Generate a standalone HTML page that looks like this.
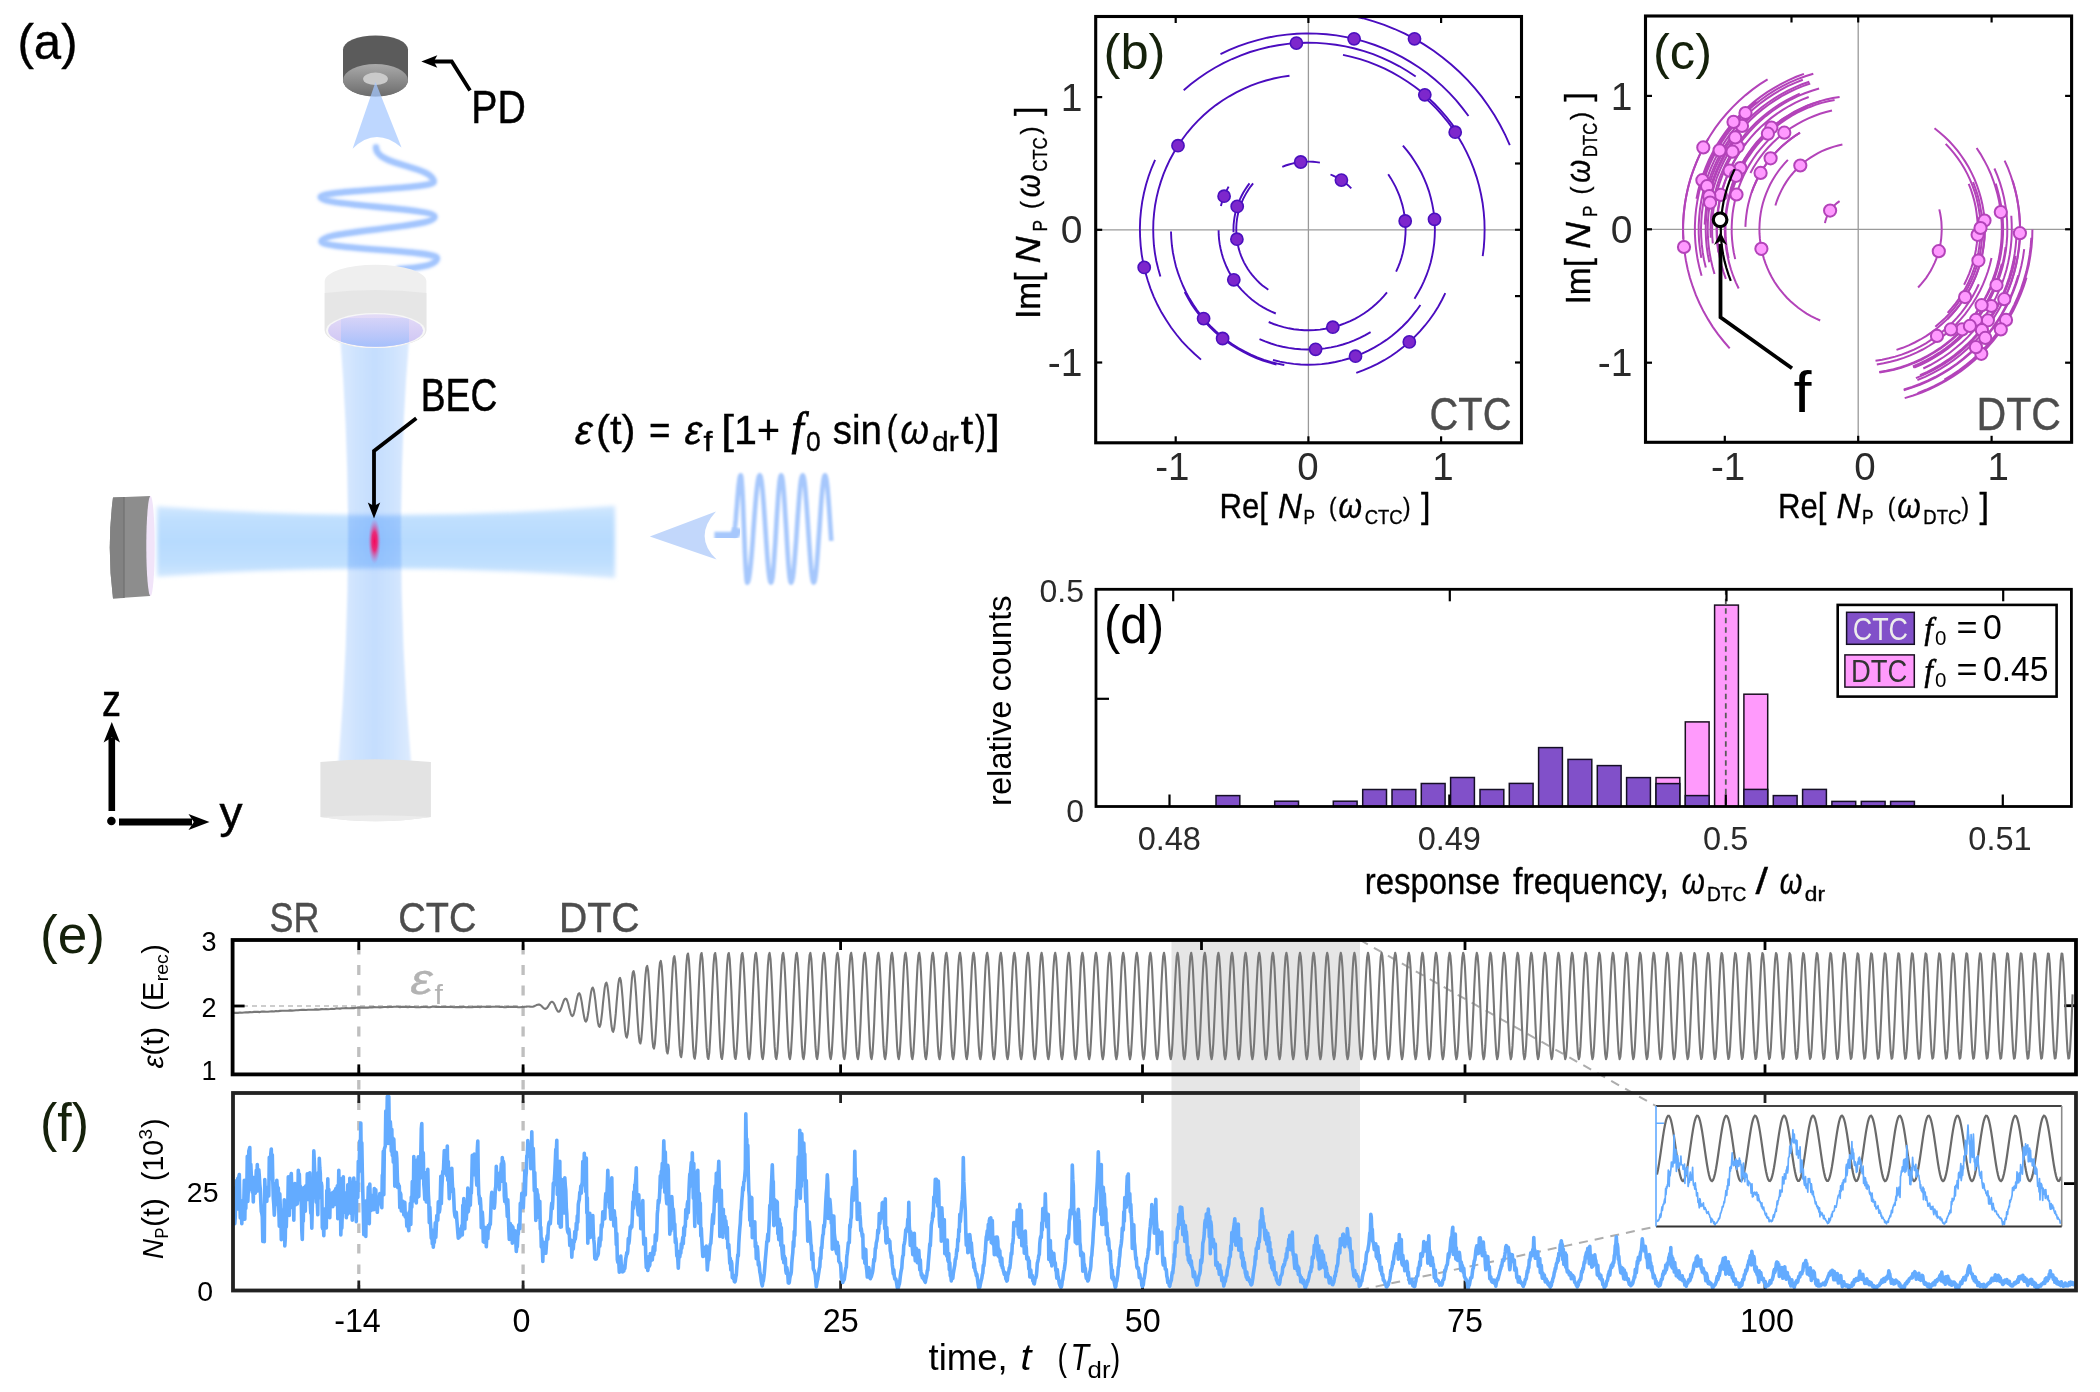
<!DOCTYPE html>
<html><head><meta charset="utf-8"><title>figure</title>
<style>html,body{margin:0;padding:0;background:#fff}svg{display:block}text{font-family:"Liberation Sans",sans-serif}</style>
</head><body>
<svg width="2100" height="1392" viewBox="0 0 2100 1392">
<defs>
<filter id="b1" x="-5%" y="-5%" width="110%" height="110%"><feGaussianBlur stdDeviation="1.2"/></filter>
<filter id="b15" x="-10%" y="-10%" width="120%" height="120%"><feGaussianBlur stdDeviation="1.6"/></filter>
<filter id="b08" x="-10%" y="-10%" width="120%" height="120%"><feGaussianBlur stdDeviation="0.9"/></filter>
<linearGradient id="gv" gradientUnits="userSpaceOnUse" x1="338" y1="0" x2="411" y2="0">
<stop offset="0" stop-color="#ddebfe"/><stop offset="0.25" stop-color="#cee3fe"/><stop offset="0.5" stop-color="#c5defe"/><stop offset="0.75" stop-color="#cee3fe"/><stop offset="1" stop-color="#ddebfe"/></linearGradient>
<linearGradient id="gh" gradientUnits="userSpaceOnUse" x1="0" y1="505" x2="0" y2="578">
<stop offset="0" stop-color="#d3e8fe"/><stop offset="0.2" stop-color="#bfdffe"/><stop offset="0.5" stop-color="#b7dbfe"/><stop offset="0.8" stop-color="#bfdffe"/><stop offset="1" stop-color="#d3e8fe"/></linearGradient>
<filter id="b2" x="-5%" y="-10%" width="110%" height="120%"><feGaussianBlur stdDeviation="2"/></filter>
<radialGradient id="gbec"><stop offset="0" stop-color="#f5085c"/><stop offset="0.4" stop-color="#ee2070" stop-opacity="0.92"/><stop offset="1" stop-color="#c878c8" stop-opacity="0"/></radialGradient>
<linearGradient id="gpd" x1="0" y1="0" x2="0" y2="1"><stop offset="0" stop-color="#aaaaaa"/><stop offset="1" stop-color="#6c6c6c"/></linearGradient>
<linearGradient id="gface" x1="0" y1="0" x2="0" y2="1"><stop offset="0" stop-color="#e4dcf7"/><stop offset="1" stop-color="#cdc4f4"/></linearGradient>
<linearGradient id="gfb" x1="0" y1="0" x2="0" y2="1"><stop offset="0" stop-color="#c9cdfa" stop-opacity="0.5"/><stop offset="1" stop-color="#9fbffc"/></linearGradient>
</defs>
<rect width="2100" height="1392" fill="#fff"/>
<g id="pa">
<text x="17.5" y="59.0" font-size="50" fill="#000" textLength="60.0" lengthAdjust="spacingAndGlyphs" stroke="#000" stroke-width="0.4">(a)</text>
<path d="M340,335 Q356.8,540 338.5,762 L411,762 Q391.8,540 409.5,335 Z" fill="url(#gv)" filter="url(#b1)"/>
<path d="M157,506.2 Q386,524.4 615,505.7 L615,578 Q386,559.6 157,576.7 Z" fill="url(#gh)" filter="url(#b2)" style="mix-blend-mode:multiply"/>
<ellipse cx="374.5" cy="541.2" rx="6.5" ry="23" fill="url(#gbec)"/>
<path d="M343,49.5 A32.5,14 0 0 1 408,49.5 L408,80 A32.5,16.3 0 0 1 343,80 Z" fill="#5b5b5b"/>
<ellipse cx="375.5" cy="80.2" rx="32.5" ry="16.2" fill="url(#gpd)"/>
<ellipse cx="375.5" cy="78.8" rx="12.4" ry="6.2" fill="#cacaca"/>
<path d="M375.5,82 L401.5,147.5 Q375.5,126 352.6,148.8 Z" fill="#a5c8ff" fill-opacity="0.72"/>
<polyline points="470,90.6 451.7,61.5 433,61.5" fill="none" stroke="#000" stroke-width="3.8" stroke-linejoin="miter"/>
<polygon points="421.3,61.5 437.3,55.3 433.8,61.5 437.3,67.7" fill="#000"/>
<text x="471.3" y="123.2" font-size="45.5" fill="#000" textLength="54.5" lengthAdjust="spacingAndGlyphs" stroke="#000" stroke-width="0.5">PD</text>
<path d="M376,147.4 C376,166 433.8,166 433.8,182 C433.8,188.8 320.6,190.2 320.6,197 C320.6,205.9 434.6,207.9 434.6,216.8 C434.6,228.0 321.4,230.4 321.4,241.6 C321.4,249.0 437,250.6 437,258 C437,266 415,268 399,269" fill="none" stroke="#a9c9fe" stroke-width="6.6" stroke-linecap="round" filter="url(#b15)"/>
<path d="M376,147.4 C376,166 433.8,166 433.8,182 C433.8,188.8 320.6,190.2 320.6,197 C320.6,205.9 434.6,207.9 434.6,216.8 C434.6,228.0 321.4,230.4 321.4,241.6 C321.4,249.0 437,250.6 437,258 C437,266 415,268 399,269" fill="none" stroke="#a3c5fd" stroke-width="3" stroke-linecap="round" filter="url(#b1)"/>
<path d="M324.7,281.2 A50.8,16.5 0 0 1 426.4,281.2 L426.4,330 A50.8,18 0 0 1 324.7,330 Z" fill="#efefef"/>
<path d="M324.7,293 Q375.5,287 426.4,293 L426.4,330 A50.8,18 0 0 1 324.7,330 Z" fill="#e6e6e6"/>
<ellipse cx="375.6" cy="330.5" rx="49.5" ry="17.5" fill="#f7f7f7"/>
<ellipse cx="375.6" cy="330.5" rx="47.5" ry="16.3" fill="url(#gface)"/>
<clipPath id="cface"><ellipse cx="375.6" cy="330.5" rx="47.5" ry="16.3"/></clipPath>
<rect x="341" y="318" width="68" height="32" fill="url(#gfb)" clip-path="url(#cface)"/>
<path d="M113,497.5 L150,496 L150,596 L113,598.5 Q106.5,548 113,497.5 Z" fill="#8d8d8d"/>
<path d="M113,497.5 L124,497 L124,598 L113,598.5 Q106.5,548 113,497.5 Z" fill="#828282"/>
<line x1="124" y1="497" x2="124" y2="598" stroke="#707070" stroke-width="1.2"/>
<ellipse cx="150.5" cy="546" rx="4.2" ry="50" fill="#f1e4f9"/>
<polyline points="416.3,418.3 374,451 374,506" fill="none" stroke="#000" stroke-width="3.8"/>
<polygon points="374.0,518.5 367.8,502.5 374.0,506.0 380.2,502.5" fill="#000"/>
<text x="420.8" y="411.2" font-size="45.5" fill="#000" textLength="76.5" lengthAdjust="spacingAndGlyphs" stroke="#000" stroke-width="0.5">BEC</text>
<g transform="translate(573.1,443.5) skewX(-12)">
<text x="0.0" y="0.0" font-size="41" fill="#000" textLength="17.6" lengthAdjust="spacingAndGlyphs" stroke="#000" stroke-width="0.35">ε</text>
</g>
<text x="596.0" y="443.5" font-size="41" fill="#000" textLength="39.6" lengthAdjust="spacingAndGlyphs" stroke="#000" stroke-width="0.35">(t)</text>
<text x="649.0" y="443.5" font-size="41" fill="#000" textLength="21.5" lengthAdjust="spacingAndGlyphs" stroke="#000" stroke-width="0.35">=</text>
<g transform="translate(682.7,443.5) skewX(-12)">
<text x="0.0" y="0.0" font-size="41" fill="#000" textLength="17.3" lengthAdjust="spacingAndGlyphs" stroke="#000" stroke-width="0.35">ε</text>
</g>
<text x="703.5" y="450.5" font-size="27" fill="#000" textLength="9.0" lengthAdjust="spacingAndGlyphs" stroke="#000" stroke-width="0.35">f</text>
<text x="721.0" y="443.5" font-size="41" fill="#000" textLength="13.0" lengthAdjust="spacingAndGlyphs" stroke="#000" stroke-width="0.35">[</text>
<text x="734.0" y="443.5" font-size="41" fill="#000" textLength="23.0" lengthAdjust="spacingAndGlyphs" stroke="#000" stroke-width="0.35">1</text>
<text x="757.0" y="443.5" font-size="41" fill="#000" textLength="23.0" lengthAdjust="spacingAndGlyphs" stroke="#000" stroke-width="0.35">+</text>
<text x="791.5" y="443.5" font-size="45.5" fill="#000" font-style="italic" style="font-family:'Liberation Serif',serif" textLength="12.2" lengthAdjust="spacingAndGlyphs" stroke="#000" stroke-width="0.9">f</text>
<text x="806.0" y="450.5" font-size="27" fill="#000" textLength="14.7" lengthAdjust="spacingAndGlyphs" stroke="#000" stroke-width="0.35">0</text>
<text x="832.7" y="443.5" font-size="41" fill="#000" textLength="49.3" lengthAdjust="spacingAndGlyphs" stroke="#000" stroke-width="0.35">sin</text>
<text x="886.5" y="443.5" font-size="41" fill="#000" textLength="11.0" lengthAdjust="spacingAndGlyphs" stroke="#000" stroke-width="0.35">(</text>
<text x="900.6" y="443.5" font-size="41" fill="#000" font-style="italic" textLength="28.4" lengthAdjust="spacingAndGlyphs" stroke="#000" stroke-width="0.35">ω</text>
<text x="932.0" y="450.5" font-size="27" fill="#000" textLength="26.7" lengthAdjust="spacingAndGlyphs" stroke="#000" stroke-width="0.35">dr</text>
<text x="960.5" y="443.5" font-size="41" fill="#000" textLength="12.8" lengthAdjust="spacingAndGlyphs" stroke="#000" stroke-width="0.35">t</text>
<text x="975.0" y="443.5" font-size="41" fill="#000" textLength="11.0" lengthAdjust="spacingAndGlyphs" stroke="#000" stroke-width="0.35">)</text>
<text x="987.0" y="443.5" font-size="41" fill="#000" textLength="13.0" lengthAdjust="spacingAndGlyphs" stroke="#000" stroke-width="0.35">]</text>
<line x1="111.8" y1="811" x2="111.8" y2="738" stroke="#000" stroke-width="6.6"/>
<polygon points="111.8,722.0 120.0,742.5 111.8,737.4 103.6,742.5" fill="#000"/>
<circle cx="111.4" cy="821" r="4.3" fill="#000"/>
<line x1="119" y1="822" x2="192" y2="822" stroke="#000" stroke-width="6.8"/>
<polygon points="209.5,822.0 188.5,830.0 193.8,822.0 188.5,814.0" fill="#000"/>
<text x="102.0" y="715.6" font-size="45" fill="#000" textLength="19.0" lengthAdjust="spacingAndGlyphs" stroke="#000" stroke-width="0.5">z</text>
<text x="219.5" y="828.4" font-size="45" fill="#000" textLength="23.0" lengthAdjust="spacingAndGlyphs" stroke="#000" stroke-width="0.5">y</text>
<path d="M320.4,762 Q375.6,756.5 430.9,762 L430.9,817 Q375.6,825.5 320.4,817 Z" fill="#e3e3e3"/>
<path d="M320.4,817 Q375.6,813.5 430.9,817 Q375.6,825.5 320.4,817 Z" fill="#ececec"/>
<path d="M649.8,536.6 L716,511.4 Q692.9,536.6 716.6,559.6 Z" fill="#c2d7fb"/>
<polyline points="733.0,536.6 733.5,535.8 734.1,533.6 734.6,529.9 735.2,525.1 735.8,519.2 736.3,512.8 736.9,506.0 737.4,499.1 738.0,492.7 738.5,486.8 739.1,482.0 739.6,478.3 740.2,476.1 740.7,475.3 741.2,476.6 741.6,480.6 742.1,487.0 742.6,495.5 743.1,505.7 743.5,517.0 744.0,529.0 744.5,540.9 744.9,552.2 745.4,562.4 745.9,570.9 746.4,577.3 746.8,581.3 747.3,582.6 748.2,581.3 749.1,577.3 750.0,570.9 750.9,562.4 751.8,552.2 752.7,540.9 753.5,529.0 754.4,517.0 755.3,505.7 756.2,495.5 757.1,487.0 758.0,480.6 758.9,476.6 759.8,475.3 760.6,476.6 761.4,480.6 762.2,487.0 763.0,495.5 763.8,505.7 764.6,517.0 765.4,529.0 766.2,540.9 767.0,552.2 767.8,562.4 768.6,570.9 769.4,577.3 770.2,581.3 771.0,582.6 771.7,581.3 772.5,577.3 773.2,570.9 773.9,562.4 774.6,552.2 775.4,540.9 776.1,529.0 776.8,517.0 777.6,505.7 778.3,495.5 779.0,487.0 779.7,480.6 780.5,476.6 781.2,475.3 781.9,476.6 782.6,480.6 783.3,487.0 784.0,495.5 784.7,505.7 785.4,517.0 786.2,529.0 786.9,540.9 787.6,552.2 788.3,562.4 789.0,570.9 789.7,577.3 790.4,581.3 791.1,582.6 791.9,581.3 792.8,577.3 793.6,570.9 794.4,562.4 795.2,552.2 796.1,540.9 796.9,529.0 797.7,517.0 798.6,505.7 799.4,495.5 800.2,487.0 801.0,480.6 801.9,476.6 802.7,475.3 803.5,476.6 804.3,480.6 805.1,487.0 805.8,495.5 806.6,505.7 807.4,517.0 808.2,529.0 809.0,540.9 809.8,552.2 810.6,562.4 811.3,570.9 812.1,577.3 812.9,581.3 813.7,582.6 814.5,581.3 815.3,577.3 816.1,570.9 816.9,562.4 817.7,552.2 818.5,540.9 819.4,529.0 820.2,517.0 821.0,505.7 821.8,495.5 822.6,487.0 823.4,480.6 824.2,476.6 825.0,475.3 825.8,476.6 826.6,480.6 827.4,487.0 828.1,495.5 828.9,505.7 829.7,517.0 830.5,529.0 831.3,540.9" fill="none" stroke="#a6c7fc" stroke-width="4.6" stroke-linejoin="round" filter="url(#b08)"/>
<path d="M714.4,536.6 L731,536.6 Q736,536 737.5,528" fill="none" stroke="#a6c7fc" stroke-width="9.5" filter="url(#b08)"/>
</g>
<g id="pb">
<line x1="1095.7" y1="229.8" x2="1521.5" y2="229.8" stroke="#9a9a9a" stroke-width="1.3"/>
<line x1="1308.4" y1="16.5" x2="1308.4" y2="442.8" stroke="#9a9a9a" stroke-width="1.3"/>
<clipPath id="cb"><rect x="1095.7" y="16.5" width="425.8" height="426.3"/></clipPath>
<g clip-path="url(#cb)" fill="none" stroke="#4a0cbf" stroke-width="1.9">
<path d="M1415.7,76.5 L1407.7,71.2 L1399.4,66.3 L1390.8,61.8 L1382.1,57.8 L1373.1,54.2 L1364.0,51.1 L1354.7,48.5 L1345.3,46.4 L1335.8,44.7 L1326.2,43.6 L1316.6,42.9 L1306.9,42.7 L1297.3,43.0 L1287.7,43.9 L1278.1,45.2 L1268.7,47.0 L1259.3,49.3 L1250.1,52.0 L1241.0,55.3 L1232.1,59.0 L1223.4,63.1 L1214.9,67.7 L1206.7,72.8 L1198.7,78.2 L1191.0,84.1 L1183.7,90.3"/>
<path d="M1468.5,116.0 L1462.5,108.1 L1456.2,100.4 L1449.5,93.1 L1442.4,86.1 L1434.9,79.6 L1427.2,73.3 L1419.1,67.5 L1410.7,62.1 L1402.1,57.2 L1393.3,52.7 L1384.2,48.6 L1374.9,45.0 L1365.5,41.9 L1355.9,39.2 L1346.2,37.1 L1336.4,35.4 L1326.5,34.2 L1316.6,33.6 L1306.7,33.4 L1296.8,33.7 L1286.8,34.6 L1277.0,35.9 L1267.2,37.7 L1257.6,40.1 L1248.0,42.9 L1238.6,46.2 L1229.4,49.9 L1220.5,54.2"/>
<path d="M1509.8,145.1 L1505.2,134.9 L1500.1,125.0 L1494.5,115.3 L1488.4,106.0 L1481.9,96.9 L1474.8,88.2 L1467.4,79.9 L1459.5,72.0 L1451.2,64.5 L1442.6,57.4 L1433.6,50.7 L1424.3,44.6 L1414.7,38.9 L1404.8,33.7 L1394.6,29.0 L1384.2,24.9 L1373.7,21.3 L1362.9,18.2 L1352.0,15.7 L1341.0,13.7 L1329.9,12.4 L1318.8,11.5 L1307.6,11.3 L1296.4,11.6 L1285.3,12.5 L1274.2,14.0"/>
<path d="M1456.9,131.1 L1451.8,123.9 L1446.5,117.0 L1440.7,110.3 L1434.7,104.0 L1428.3,97.9 L1421.7,92.1 L1414.8,86.7 L1407.6,81.7 L1400.1,77.0 L1392.5,72.6 L1384.7,68.7 L1376.6,65.1 L1368.4,61.9 L1360.1,59.2 L1351.6,56.8 L1343.0,54.9"/>
<path d="M1482.7,256.2 L1483.8,247.3 L1484.4,238.5 L1484.6,229.6 L1484.4,220.7 L1483.7,211.8 L1482.6,203.0 L1481.0,194.3 L1479.0,185.6 L1476.6,177.1 L1473.7,168.7 L1470.4,160.4 L1466.7,152.3 L1462.6,144.4 L1458.1,136.8 L1453.2,129.3 L1448.0,122.2 L1442.4,115.3 L1436.4,108.7 L1430.1,102.4 L1423.6,96.4"/>
<path d="M1289.5,75.7 L1281.6,76.9 L1273.7,78.5 L1266.0,80.5 L1258.3,82.9 L1250.8,85.7 L1243.5,88.8 L1236.3,92.4 L1229.3,96.3 L1222.5,100.5 L1215.9,105.1 L1209.6,110.1 L1203.6,115.3 L1197.8,120.9 L1192.4,126.7 L1187.2,132.8 L1182.4,139.2 L1177.9,145.8 L1173.7,152.7 L1169.9,159.7 L1166.5,167.0 L1163.4,174.4 L1160.8,181.9 L1158.5,189.6 L1156.6,197.4 L1155.1,205.2 L1154.1,213.2 L1153.4,221.2 L1153.2,229.2 L1153.4,237.2 L1153.9,245.2 L1154.9,253.1 L1156.3,261.0 L1158.2,268.8 L1160.4,276.5"/>
<path d="M1319.9,162.6 L1316.4,162.1 L1313.0,161.8 L1309.5,161.6 L1306.0,161.6 L1302.5,161.9 L1299.1,162.2 L1295.6,162.8 L1292.2,163.6 L1288.9,164.5 L1285.6,165.5 L1282.3,166.8"/>
<path d="M1351.3,188.4 L1349.3,186.4 L1347.2,184.6 L1345.0,182.8 L1342.8,181.1 L1340.5,179.6 L1338.1,178.1 L1335.6,176.8 L1333.1,175.6 L1330.5,174.5"/>
<path d="M1228.6,186.6 L1226.7,190.3 L1225.0,194.1 L1223.4,198.0 L1222.0,201.9 L1220.9,205.9"/>
<path d="M1249.5,183.4 L1247.3,186.4 L1245.2,189.5 L1243.2,192.7 L1241.5,196.0 L1239.9,199.4 L1238.5,202.9 L1237.2,206.4 L1236.1,210.0 L1235.2,213.6 L1234.5,217.3 L1234.0,221.0 L1233.6,224.7 L1233.5,228.4 L1233.5,232.2"/>
<path d="M1253.1,183.4 L1250.8,186.3 L1248.7,189.3 L1246.7,192.4 L1244.9,195.6 L1243.2,198.8 L1241.8,202.2 L1240.4,205.6 L1239.3,209.1 L1238.3,212.6 L1237.5,216.2 L1236.9,219.8 L1236.5,223.5 L1236.3,227.2 L1236.3,230.8 L1236.4,234.5 L1236.7,238.1 L1237.3,241.8 L1238.0,245.4 L1238.8,248.9 L1239.9,252.5 L1241.1,255.9 L1242.6,259.3 L1244.1,262.6 L1245.9,265.8 L1247.8,269.0 L1249.9,272.0 L1252.1,274.9 L1254.5,277.7 L1257.0,280.4 L1259.6,283.0 L1262.4,285.4 L1265.3,287.6 L1268.3,289.7"/>
<path d="M1218.6,230.3 L1218.7,234.9 L1219.1,239.6 L1219.7,244.2 L1220.6,248.8 L1221.7,253.3 L1223.0,257.8 L1224.6,262.2 L1226.4,266.5 L1228.4,270.7 L1230.6,274.8 L1233.1,278.7 L1235.7,282.6 L1238.6,286.3 L1241.6,289.8 L1244.8,293.2 L1248.2,296.4 L1251.7,299.5 L1255.4,302.3 L1259.2,305.0 L1263.2,307.4 L1267.3,309.7 L1271.5,311.7 L1275.8,313.5"/>
<path d="M1396.1,271.6 L1398.1,267.2 L1399.9,262.6 L1401.4,258.0 L1402.7,253.3 L1403.7,248.6 L1404.6,243.8 L1405.1,238.9 L1405.5,234.1 L1405.6,229.2 L1405.4,224.4 L1405.0,219.5 L1404.4,214.7 L1403.5,209.9 L1402.4,205.1 L1401.0,200.5 L1399.5,195.9 L1397.6,191.3 L1395.6,186.9 L1393.3,182.6 L1390.9,178.4 L1388.2,174.3"/>
<path d="M1414.5,298.7 L1417.9,293.1 L1421.1,287.3 L1423.9,281.3 L1426.5,275.2 L1428.7,269.0 L1430.6,262.7 L1432.1,256.3 L1433.3,249.8 L1434.2,243.3 L1434.7,236.7 L1434.9,230.1 L1434.7,223.5 L1434.2,216.9 L1433.4,210.4 L1432.2,203.9 L1430.7,197.5 L1428.9,191.1 L1426.7,184.9 L1424.2,178.8 L1421.4,172.8 L1418.2,167.0 L1414.8,161.4 L1411.1,155.9 L1407.1,150.7 L1402.9,145.6"/>
<path d="M1155.1,159.9 L1151.6,168.0 L1148.6,176.3 L1146.0,184.7 L1143.9,193.3 L1142.2,201.9 L1141.0,210.7 L1140.2,219.4 L1139.9,228.2 L1140.1,237.0 L1140.7,245.8 L1141.7,254.6 L1143.3,263.3 L1145.2,271.8 L1147.7,280.3 L1150.5,288.6 L1153.8,296.8 L1157.5,304.8 L1161.6,312.6 L1166.2,320.1 L1171.1,327.5 L1176.4,334.5 L1182.0,341.3 L1188.0,347.7 L1194.4,353.8 L1201.0,359.6"/>
<path d="M1171.0,231.5 L1171.3,238.5 L1171.9,245.5 L1172.9,252.5 L1174.3,259.4 L1175.9,266.2 L1178.0,272.9 L1180.4,279.5 L1183.1,286.0 L1186.1,292.4 L1189.5,298.6 L1193.2,304.5 L1197.1,310.3 L1201.4,315.9 L1205.9,321.3 L1210.8,326.4 L1215.8,331.3 L1221.1,335.9 L1226.7,340.2 L1232.4,344.3 L1238.4,348.0 L1244.5,351.4 L1250.9,354.5 L1257.3,357.3 L1263.9,359.8 L1270.6,361.9 L1277.4,363.6 L1284.3,365.0"/>
<path d="M1184.7,292.0 L1188.1,298.3 L1191.7,304.4 L1195.7,310.2 L1200.0,315.9 L1204.6,321.4 L1209.4,326.6 L1214.5,331.5 L1219.8,336.2 L1225.4,340.6 L1231.2,344.7 L1237.2,348.5 L1243.4,352.0 L1249.7,355.2 L1256.3,358.1 L1262.9,360.6 L1269.7,362.7 L1276.5,364.5"/>
<path d="M1259.5,339.1 L1265.1,341.4 L1270.9,343.5 L1276.7,345.3 L1282.6,346.7 L1288.6,347.9 L1294.6,348.7 L1300.7,349.3 L1306.8,349.5 L1312.9,349.4 L1319.0,349.1 L1325.0,348.4 L1331.0,347.4 L1337.0,346.1 L1342.8,344.5 L1348.6,342.6 L1354.3,340.4 L1359.9,337.9 L1365.3,335.1 L1370.6,332.1"/>
<path d="M1268.7,322.0 L1273.5,324.0 L1278.5,325.7 L1283.6,327.1 L1288.7,328.3 L1293.8,329.2 L1299.0,329.8 L1304.3,330.2 L1309.5,330.2 L1314.8,330.0 L1320.0,329.6 L1325.2,328.8 L1330.3,327.8 L1335.4,326.5 L1340.4,325.0 L1345.3,323.2 L1350.2,321.1 L1354.9,318.8 L1359.5,316.3 L1363.9,313.5 L1368.2,310.5 L1372.3,307.3 L1376.3,303.8 L1380.1,300.2 L1383.6,296.3 L1387.0,292.3"/>
<path d="M1273.0,360.0 L1279.8,361.6 L1286.7,362.9 L1293.6,363.9 L1300.6,364.5 L1307.6,364.7 L1314.6,364.6 L1321.6,364.1 L1328.5,363.2 L1335.4,362.0 L1342.2,360.4 L1348.9,358.5 L1355.5,356.2 L1362.0,353.6 L1368.4,350.6 L1374.5,347.4 L1380.6,343.8 L1386.4,339.9 L1392.0,335.7 L1397.3,331.2 L1402.5,326.5 L1407.4,321.5 L1412.0,316.2 L1416.3,310.7 L1420.4,305.0"/>
<path d="M1356.3,372.8 L1363.5,370.2 L1370.6,367.2 L1377.5,363.9 L1384.2,360.2 L1390.7,356.2 L1397.1,351.8 L1403.2,347.1 L1409.0,342.1 L1414.6,336.9 L1419.9,331.3 L1425.0,325.5 L1429.7,319.5 L1434.1,313.2 L1438.2,306.7 L1441.9,300.0 L1445.3,293.1"/>
</g>
<g fill="#7d27cc" stroke="#4b10be" stroke-width="1.6">
<circle cx="1296.4" cy="43.1" r="6.1"/>
<circle cx="1354.1" cy="38.8" r="6.1"/>
<circle cx="1414.5" cy="38.8" r="6.1"/>
<circle cx="1424.8" cy="94.8" r="6.1"/>
<circle cx="1455.2" cy="132.2" r="6.1"/>
<circle cx="1178.0" cy="145.7" r="6.1"/>
<circle cx="1300.7" cy="162.0" r="6.1"/>
<circle cx="1341.4" cy="180.1" r="6.1"/>
<circle cx="1224.1" cy="196.2" r="6.1"/>
<circle cx="1237.2" cy="206.4" r="6.1"/>
<circle cx="1236.9" cy="239.2" r="6.1"/>
<circle cx="1233.8" cy="279.8" r="6.1"/>
<circle cx="1405.2" cy="221.0" r="6.1"/>
<circle cx="1434.5" cy="219.3" r="6.1"/>
<circle cx="1144.2" cy="267.4" r="6.1"/>
<circle cx="1203.6" cy="318.6" r="6.1"/>
<circle cx="1222.6" cy="338.5" r="6.1"/>
<circle cx="1315.6" cy="349.3" r="6.1"/>
<circle cx="1332.8" cy="327.2" r="6.1"/>
<circle cx="1355.5" cy="356.2" r="6.1"/>
<circle cx="1409.3" cy="341.9" r="6.1"/>
</g>
<line x1="1175.7" y1="16.5" x2="1175.7" y2="23.0" stroke="#000" stroke-width="2.2"/>
<line x1="1308.4" y1="16.5" x2="1308.4" y2="23.0" stroke="#000" stroke-width="2.2"/>
<line x1="1441.1" y1="16.5" x2="1441.1" y2="23.0" stroke="#000" stroke-width="2.2"/>
<line x1="1175.7" y1="442.8" x2="1175.7" y2="436.3" stroke="#000" stroke-width="2.2"/>
<line x1="1308.4" y1="442.8" x2="1308.4" y2="436.3" stroke="#000" stroke-width="2.2"/>
<line x1="1441.1" y1="442.8" x2="1441.1" y2="436.3" stroke="#000" stroke-width="2.2"/>
<line x1="1095.7" y1="362.5" x2="1102.2" y2="362.5" stroke="#000" stroke-width="2.2"/>
<line x1="1095.7" y1="229.8" x2="1102.2" y2="229.8" stroke="#000" stroke-width="2.2"/>
<line x1="1095.7" y1="97.1" x2="1102.2" y2="97.1" stroke="#000" stroke-width="2.2"/>
<line x1="1521.5" y1="362.5" x2="1515.0" y2="362.5" stroke="#000" stroke-width="2.2"/>
<line x1="1521.5" y1="296.1" x2="1515.0" y2="296.1" stroke="#000" stroke-width="2.2"/>
<line x1="1521.5" y1="229.8" x2="1515.0" y2="229.8" stroke="#000" stroke-width="2.2"/>
<line x1="1521.5" y1="163.5" x2="1515.0" y2="163.5" stroke="#000" stroke-width="2.2"/>
<line x1="1521.5" y1="97.1" x2="1515.0" y2="97.1" stroke="#000" stroke-width="2.2"/>
<rect x="1095.7" y="16.5" width="425.8" height="426.3" fill="none" stroke="#000" stroke-width="3.1"/>
<text x="1103.5" y="69.0" font-size="50" fill="#15210b" textLength="62.0" lengthAdjust="spacingAndGlyphs">(b)</text>
<text x="1429.5" y="430.2" font-size="47" fill="#4d4d4d" textLength="82.0" lengthAdjust="spacingAndGlyphs" stroke="#4d4d4d" stroke-width="0.4">CTC</text>
<text x="1082.5" y="110.7" font-size="39" fill="#2a2a2a" text-anchor="end">1</text>
<text x="1082.5" y="243.4" font-size="39" fill="#2a2a2a" text-anchor="end">0</text>
<text x="1082.5" y="376.1" font-size="39" fill="#2a2a2a" text-anchor="end">-1</text>
<text x="1155.2" y="480.1" font-size="38.5" fill="#2a2a2a">-1</text>
<text x="1308.0" y="480.1" font-size="38.5" fill="#2a2a2a" text-anchor="middle">0</text>
<text x="1432.2" y="480.1" font-size="38.5" fill="#2a2a2a">1</text>
<g transform="translate(1040.3,319.0) rotate(-90)">
<text x="0.0" y="0.0" font-size="35" fill="#000" textLength="46.5" lengthAdjust="spacingAndGlyphs" stroke="#000" stroke-width="0.35">Im[</text>
<text x="55.5" y="0.0" font-size="35" fill="#000" font-style="italic" textLength="27.0" lengthAdjust="spacingAndGlyphs" stroke="#000" stroke-width="0.35">N</text>
<text x="87.5" y="6.5" font-size="20.5" fill="#000" textLength="11.5" lengthAdjust="spacingAndGlyphs" stroke="#000" stroke-width="0.35">P</text>
<text x="110.0" y="-1.5" font-size="25" fill="#000" textLength="8.0" lengthAdjust="spacingAndGlyphs" stroke="#000" stroke-width="0.35">(</text>
<text x="121.8" y="0.0" font-size="35" fill="#000" font-style="italic" textLength="23.0" lengthAdjust="spacingAndGlyphs" stroke="#000" stroke-width="0.35">ω</text>
<text x="147.6" y="6.5" font-size="20.5" fill="#000" textLength="34.0" lengthAdjust="spacingAndGlyphs" stroke="#000" stroke-width="0.35">CTC</text>
<text x="184.6" y="-1.5" font-size="25" fill="#000" textLength="8.0" lengthAdjust="spacingAndGlyphs" stroke="#000" stroke-width="0.35">)</text>
<text x="203.0" y="0.0" font-size="35" fill="#000" textLength="9.5" lengthAdjust="spacingAndGlyphs" stroke="#000" stroke-width="0.35">]</text>
</g>
<text x="1219.4" y="517.8" font-size="35" fill="#000" textLength="48.5" lengthAdjust="spacingAndGlyphs" stroke="#000" stroke-width="0.35">Re[</text>
<text x="1278.0" y="517.8" font-size="35" fill="#000" font-style="italic" textLength="24.0" lengthAdjust="spacingAndGlyphs" stroke="#000" stroke-width="0.35">N</text>
<text x="1303.4" y="524.3" font-size="20.5" fill="#000" textLength="11.5" lengthAdjust="spacingAndGlyphs" stroke="#000" stroke-width="0.35">P</text>
<text x="1329.1" y="516.3" font-size="25" fill="#000" textLength="7.5" lengthAdjust="spacingAndGlyphs" stroke="#000" stroke-width="0.35">(</text>
<text x="1338.6" y="517.8" font-size="35" fill="#000" font-style="italic" textLength="23.5" lengthAdjust="spacingAndGlyphs" stroke="#000" stroke-width="0.35">ω</text>
<text x="1364.7" y="524.3" font-size="20.5" fill="#000" textLength="38.0" lengthAdjust="spacingAndGlyphs" stroke="#000" stroke-width="0.35">CTC</text>
<text x="1403.0" y="516.3" font-size="25" fill="#000" textLength="7.5" lengthAdjust="spacingAndGlyphs" stroke="#000" stroke-width="0.35">)</text>
<text x="1421.0" y="517.8" font-size="35" fill="#000" textLength="9.5" lengthAdjust="spacingAndGlyphs" stroke="#000" stroke-width="0.35">]</text>
</g>
<g id="pc">
<line x1="1645.5" y1="229.3" x2="2071.6" y2="229.3" stroke="#9a9a9a" stroke-width="1.3"/>
<line x1="1858.2" y1="16.0" x2="1858.2" y2="442.3" stroke="#9a9a9a" stroke-width="1.3"/>
<clipPath id="cc"><rect x="1645.5" y="16.0" width="426.1" height="426.3"/></clipPath>
<g clip-path="url(#cc)" fill="none" stroke="#b343b9" stroke-width="2.0">
<path d="M1813.3,73.7 L1805.3,76.2 L1797.5,79.1 L1789.9,82.4 L1782.4,86.1 L1775.2,90.2 L1768.1,94.7 L1761.3,99.5 L1754.8,104.6 L1748.5,110.1 L1742.5,115.9 L1736.8,122.0 L1731.5,128.4 L1726.5,135.0 L1721.8,141.9 L1717.5,149.1 L1713.5,156.4 L1710.0,163.9 L1706.8,171.7 L1704.1,179.5"/>
<path d="M1803.9,73.9 L1796.2,76.8 L1788.7,80.1 L1781.3,83.8 L1774.2,87.8 L1767.2,92.1 L1760.5,96.9 L1754.0,101.9 L1747.8,107.2 L1741.8,112.9 L1736.2,118.8 L1730.8,125.1 L1725.8,131.5 L1721.1,138.3 L1716.7,145.2 L1712.7,152.4 L1709.0,159.7 L1705.8,167.2 L1702.9,174.9 L1700.3,182.7 L1698.2,190.6 L1696.5,198.7"/>
<path d="M1809.3,81.7 L1802.0,84.3 L1794.8,87.3 L1787.8,90.6 L1781.0,94.3 L1774.4,98.3 L1767.9,102.7 L1761.7,107.3 L1755.8,112.3 L1750.1,117.5 L1744.6,123.1 L1739.5,128.8 L1734.6,134.9 L1730.1,141.2 L1725.8,147.7 L1721.9,154.4 L1718.4,161.2 L1715.1,168.3 L1712.3,175.5 L1709.8,182.9 L1707.6,190.3 L1705.9,197.9"/>
<path d="M1810.2,83.5 L1802.8,86.1 L1795.6,89.1 L1788.5,92.5 L1781.7,96.2 L1775.0,100.3 L1768.5,104.7 L1762.3,109.4 L1756.3,114.4 L1750.6,119.7 L1745.2,125.4 L1740.0,131.2 L1735.2,137.4 L1730.7,143.8 L1726.5,150.4 L1722.7,157.2 L1719.2,164.2 L1716.0,171.3 L1713.3,178.6 L1710.9,186.1 L1708.9,193.6 L1707.2,201.3 L1706.0,209.0 L1705.2,216.8 L1704.7,224.6"/>
<path d="M1819.1,88.5 L1811.9,90.7 L1804.8,93.3 L1797.8,96.2 L1791.0,99.5 L1784.4,103.2 L1778.0,107.2 L1771.8,111.5 L1765.8,116.1 L1760.1,121.0 L1754.6,126.3 L1749.4,131.8 L1744.5,137.5 L1739.9,143.5 L1735.6,149.7 L1731.7,156.2 L1728.1,162.8 L1724.8,169.6 L1721.9,176.6 L1719.4,183.7 L1717.2,191.0 L1715.4,198.3 L1714.0,205.7 L1713.0,213.2 L1712.3,220.7 L1712.1,228.3 L1712.2,235.8 L1712.8,243.4"/>
<path d="M1802.8,79.7 L1795.1,82.8 L1787.6,86.2 L1780.3,90.1 L1773.2,94.3 L1766.4,98.9 L1759.8,103.8 L1753.4,109.0 L1747.3,114.6 L1741.5,120.5 L1736.1,126.7 L1730.9,133.1 L1726.1,139.8 L1721.7,146.8 L1717.6,153.9 L1713.9,161.3 L1710.6,168.9 L1707.6,176.6 L1705.1,184.4 L1703.0,192.4 L1701.3,200.5 L1700.0,208.6 L1699.2,216.8 L1698.7,225.1 L1698.7,233.3 L1699.1,241.5 L1700.0,249.7 L1701.3,257.9"/>
<path d="M1799.8,93.6 L1793.0,96.8 L1786.3,100.3 L1779.8,104.1 L1773.6,108.2 L1767.5,112.7 L1761.7,117.5 L1756.1,122.5 L1750.8,127.9 L1745.8,133.4 L1741.1,139.3 L1736.7,145.4 L1732.5,151.7 L1728.7,158.2 L1725.3,164.8 L1722.2,171.7 L1719.4,178.7 L1717.0,185.8 L1715.0,193.0 L1713.3,200.4 L1712.1,207.8 L1711.2,215.2 L1710.6,222.7 L1710.5,230.3 L1710.7,237.8"/>
<path d="M1767.6,79.3 L1760.0,84.2 L1752.7,89.4 L1745.6,95.1 L1738.9,101.0 L1732.4,107.4 L1726.3,114.0 L1720.5,120.9 L1715.1,128.2 L1710.1,135.7 L1705.5,143.4 L1701.3,151.4 L1697.5,159.6 L1694.1,168.0 L1691.1,176.5 L1688.6,185.2 L1686.6,194.0 L1685.0,202.9 L1683.9,211.8 L1683.2,220.8 L1683.0,229.8 L1683.3,238.9"/>
<path d="M1839.6,96.9 L1832.8,98.0 L1826.0,99.5 L1819.4,101.4 L1812.9,103.5 L1806.4,106.0 L1800.1,108.9 L1794.0,112.0 L1788.1,115.5 L1782.3,119.2 L1776.7,123.3 L1771.4,127.6 L1766.2,132.3 L1761.4,137.1 L1756.7,142.2 L1752.4,147.6 L1748.3,153.2 L1744.5,158.9 L1741.1,164.9 L1737.9,171.0 L1735.0,177.3 L1732.5,183.7 L1730.3,190.2"/>
<path d="M1834.6,99.9 L1828.1,101.2 L1821.7,102.9 L1815.4,104.9 L1809.3,107.2 L1803.2,109.8 L1797.3,112.7 L1791.5,115.9 L1786.0,119.4 L1780.5,123.1 L1775.3,127.1 L1770.3,131.4 L1765.5,135.9 L1761.0,140.7 L1756.7,145.7 L1752.6,150.9 L1748.8,156.3 L1745.3,161.8 L1742.0,167.6 L1739.1,173.5 L1736.4,179.5 L1734.1,185.6 L1732.1,191.9 L1730.4,198.3"/>
<path d="M1832.0,110.5 L1826.0,112.0 L1820.0,113.8 L1814.1,116.0 L1808.4,118.4 L1802.7,121.1 L1797.3,124.1 L1791.9,127.3 L1786.8,130.9 L1781.8,134.6 L1777.1,138.7 L1772.5,143.0 L1768.2,147.5 L1764.1,152.2 L1760.3,157.1 L1756.7,162.2 L1753.4,167.5 L1750.4,173.0"/>
<path d="M1800.1,132.6 L1795.4,135.7 L1790.8,138.9 L1786.4,142.4 L1782.1,146.1 L1778.1,150.0 L1774.2,154.1 L1770.6,158.3 L1767.1,162.8 L1763.9,167.4 L1761.0,172.2 L1758.2,177.1 L1755.8,182.2 L1753.5,187.3 L1751.6,192.6"/>
<path d="M1799.8,132.8 L1795.0,135.9 L1790.4,139.2 L1786.0,142.7 L1781.7,146.4 L1777.7,150.4 L1773.8,154.5 L1770.1,158.8 L1766.7,163.4 L1763.5,168.0 L1760.6,172.9 L1757.8,177.8 L1755.4,183.0 L1753.2,188.2 L1751.2,193.5 L1749.6,198.9 L1748.2,204.4 L1747.1,210.0 L1746.3,215.6 L1745.7,221.2 L1745.4,226.9"/>
<path d="M1842.4,144.6 L1838.2,145.5 L1834.0,146.6 L1829.9,148.0 L1825.8,149.5 L1821.9,151.2 L1818.0,153.1 L1814.2,155.3 L1810.5,157.6 L1807.0,160.0 L1803.6,162.7 L1800.3,165.5 L1797.2,168.5 L1794.2,171.7 L1791.4,175.0 L1788.7,178.4 L1786.3,181.9 L1784.0,185.6 L1781.9,189.4 L1780.0,193.3 L1778.2,197.3 L1776.7,201.3 L1775.4,205.5"/>
<path d="M1807.3,106.7 L1801.1,109.5 L1794.9,112.6 L1789.0,116.0 L1783.2,119.7 L1777.7,123.8 L1772.3,128.1 L1767.2,132.6 L1762.3,137.5 L1757.7,142.6 L1753.4,147.9 L1749.3,153.4 L1745.5,159.1 L1742.0,165.0 L1738.9,171.1 L1736.0,177.4 L1733.5,183.8 L1731.3,190.3 L1729.5,196.9 L1728.0,203.6 L1726.8,210.3 L1726.0,217.2 L1725.5,224.0 L1725.5,230.9 L1725.7,237.7 L1726.3,244.6 L1727.3,251.4 L1728.6,258.1"/>
<path d="M1808.7,97.0 L1802.0,99.6 L1795.5,102.6 L1789.2,106.0 L1783.1,109.6 L1777.1,113.6 L1771.3,117.9 L1765.8,122.4 L1760.5,127.2 L1755.5,132.3 L1750.7,137.6 L1746.2,143.2 L1742.0,149.0 L1738.0,155.0 L1734.4,161.1 L1731.1,167.5 L1728.2,174.0 L1725.5,180.7 L1723.2,187.5 L1721.3,194.3 L1719.7,201.3 L1718.5,208.4 L1717.6,215.5 L1717.1,222.6 L1716.9,229.8 L1717.1,236.9 L1717.7,244.1 L1718.6,251.2 L1719.9,258.2 L1721.5,265.2 L1723.5,272.1 L1725.9,278.8"/>
<path d="M1820.6,101.3 L1814.1,103.4 L1807.7,105.8 L1801.4,108.6 L1795.3,111.7 L1789.4,115.0 L1783.6,118.7 L1778.0,122.7 L1772.7,126.9 L1767.5,131.5 L1762.6,136.3 L1758.0,141.3 L1753.6,146.5 L1749.5,152.0 L1745.7,157.7 L1742.1,163.6 L1738.9,169.6 L1736.0,175.8 L1733.4,182.1 L1731.2,188.6 L1729.2,195.2 L1727.7,201.8 L1726.4,208.6 L1725.5,215.4 L1725.0,222.2 L1724.8,229.0 L1725.0,235.9 L1725.5,242.7 L1726.3,249.5 L1727.6,256.2 L1729.1,262.9 L1731.0,269.5 L1733.2,276.0 L1735.8,282.3 L1738.7,288.5"/>
<path d="M1756.5,101.5 L1750.0,106.9 L1743.9,112.6 L1738.0,118.7 L1732.4,125.0 L1727.2,131.7 L1722.4,138.5 L1717.9,145.7 L1713.7,153.0 L1710.0,160.6 L1706.7,168.3 L1703.7,176.2 L1701.2,184.2 L1699.1,192.4 L1697.4,200.7 L1696.1,209.0 L1695.3,217.4 L1694.9,225.8 L1694.9,234.2 L1695.4,242.6 L1696.3,251.0 L1697.6,259.3 L1699.4,267.6 L1701.6,275.7"/>
<path d="M1748.9,116.4 L1743.4,122.0 L1738.2,127.9 L1733.2,134.0 L1728.7,140.3 L1724.4,146.9 L1720.4,153.7 L1716.8,160.6 L1713.6,167.8 L1710.7,175.0 L1708.2,182.5 L1706.0,190.0 L1704.3,197.6 L1702.9,205.3 L1701.9,213.1 L1701.3,220.9 L1701.0,228.8 L1701.2,236.6 L1701.8,244.4 L1702.7,252.2 L1704.0,259.9 L1705.8,267.6"/>
<path d="M1745.8,143.1 L1741.5,149.0 L1737.6,155.1 L1733.9,161.3 L1730.6,167.7 L1727.7,174.3 L1725.0,181.1 L1722.7,187.9 L1720.8,194.9 L1719.2,201.9 L1718.0,209.1 L1717.2,216.2 L1716.7,223.5 L1716.6,230.7 L1716.8,237.9 L1717.4,245.1 L1718.4,252.3"/>
<path d="M1769.6,138.9 L1765.1,143.6 L1760.8,148.6 L1756.7,153.7 L1753.0,159.0 L1749.5,164.6 L1746.3,170.3 L1743.4,176.1 L1740.8,182.1 L1738.5,188.2 L1736.5,194.5 L1734.9,200.8 L1733.6,207.2 L1732.6,213.7 L1732.0,220.2 L1731.7,226.7 L1731.7,233.3 L1732.1,239.8 L1732.8,246.3 L1733.8,252.7 L1735.2,259.1"/>
<path d="M1737.3,136.4 L1732.6,142.7 L1728.4,149.3 L1724.4,156.1 L1720.9,163.0 L1717.6,170.1 L1714.8,177.4 L1712.3,184.9 L1710.2,192.4 L1708.5,200.0 L1707.2,207.8 L1706.3,215.5 L1705.8,223.4 L1705.7,231.2 L1706.0,239.0 L1706.7,246.8 L1707.8,254.5 L1709.3,262.2"/>
<path d="M1739.2,137.3 L1734.7,143.4 L1730.5,149.7 L1726.6,156.3 L1723.1,163.0 L1720.0,169.9 L1717.1,177.0 L1714.7,184.2 L1712.6,191.5 L1710.8,198.9 L1709.5,206.4 L1708.5,213.9 L1707.9,221.5 L1707.7,229.1 L1707.9,236.7 L1708.5,244.3 L1709.4,251.8 L1710.8,259.3 L1712.5,266.7 L1714.5,274.0"/>
<path d="M1839.6,201.1 L1838.2,202.1 L1836.9,203.1 L1835.6,204.2 L1834.3,205.4 L1833.2,206.6 L1832.1,207.9 L1831.0,209.2 L1830.1,210.6 L1829.2,212.1 L1828.3,213.5 L1827.6,215.1 L1826.9,216.6 L1826.3,218.2 L1825.8,219.8 L1825.3,221.4 L1825.0,223.1"/>
<path d="M1708.4,138.6 L1703.9,146.5 L1699.8,154.6 L1696.2,162.8 L1693.0,171.3 L1690.2,179.9 L1687.9,188.6 L1686.0,197.5 L1684.6,206.4 L1683.6,215.4 L1683.1,224.5 L1683.1,233.5 L1683.6,242.5 L1684.5,251.5 L1685.9,260.5 L1687.7,269.3 L1690.0,278.1 L1692.8,286.7 L1695.9,295.2 L1699.6,303.5 L1703.6,311.6 L1708.1,319.4 L1712.9,327.1 L1718.1,334.4 L1723.8,341.5 L1729.7,348.3"/>
<path d="M1787.9,159.9 L1784.4,163.6 L1781.1,167.5 L1778.1,171.5 L1775.2,175.7 L1772.6,180.1 L1770.1,184.5 L1768.0,189.1 L1766.0,193.8 L1764.3,198.6 L1762.8,203.5 L1761.6,208.4 L1760.7,213.4 L1760.0,218.4 L1759.6,223.5 L1759.4,228.6 L1759.5,233.7 L1759.9,238.7 L1760.5,243.8 L1761.4,248.8 L1762.5,253.7 L1763.9,258.6 L1765.5,263.4 L1767.4,268.2 L1769.5,272.8 L1771.8,277.3 L1774.4,281.7 L1777.2,285.9 L1780.2,290.0 L1783.5,293.9 L1786.9,297.7 L1790.5,301.2 L1794.3,304.6 L1798.2,307.8 L1802.4,310.8 L1806.6,313.6 L1811.0,316.1 L1815.6,318.4 L1820.2,320.5"/>
<path d="M1992.5,280.1 L1995.0,273.2 L1997.0,266.3 L1998.7,259.2 L2000.0,252.0 L2001.0,244.8 L2001.6,237.5 L2001.8,230.3 L2001.7,223.0 L2001.2,215.7 L2000.3,208.5 L1999.1,201.3 L1997.5,194.2 L1995.5,187.2 L1993.2,180.3 L1990.6,173.5 L1987.6,166.9 L1984.2,160.4 L1980.6,154.1 L1976.6,148.0"/>
<path d="M1947.6,319.0 L1952.1,314.2 L1956.4,309.2 L1960.4,304.0 L1964.2,298.6 L1967.6,293.0 L1970.8,287.3 L1973.6,281.4 L1976.2,275.3 L1978.4,269.2 L1980.3,262.9 L1981.9,256.5 L1983.1,250.1 L1984.0,243.6 L1984.6,237.0 L1984.8,230.5 L1984.7,223.9 L1984.3,217.4 L1983.5,210.8 L1982.4,204.4 L1980.9,198.0 L1979.1,191.7 L1977.0,185.5 L1974.6,179.4 L1971.8,173.4 L1968.8,167.6 L1965.4,161.9 L1961.8,156.5 L1957.9,151.2 L1953.7,146.1 L1949.3,141.3 L1944.6,136.7 L1939.7,132.4 L1934.5,128.3"/>
<path d="M1947.6,312.8 L1951.7,308.2 L1955.6,303.3 L1959.2,298.3 L1962.6,293.1 L1965.7,287.7 L1968.5,282.2 L1971.1,276.5 L1973.3,270.7 L1975.3,264.8 L1976.9,258.8 L1978.3,252.7 L1979.3,246.6 L1980.0,240.4 L1980.4,234.2 L1980.5,228.0 L1980.3,221.8 L1979.8,215.6 L1978.9,209.4 L1977.7,203.3 L1976.3,197.2 L1974.5,191.3 L1972.4,185.4 L1970.0,179.7 L1967.4,174.1 L1964.4,168.6 L1961.2,163.3 L1957.7,158.1 L1953.9,153.1 L1949.9,148.4 L1945.7,143.8"/>
<path d="M1964.1,284.7 L1966.8,279.2 L1969.2,273.6 L1971.3,267.8 L1973.2,262.0 L1974.7,256.0 L1975.9,250.0 L1976.8,243.9 L1977.4,237.8 L1977.7,231.7 L1977.7,225.6 L1977.3,219.4 L1976.6,213.3 L1975.7,207.3 L1974.4,201.3 L1972.8,195.4 L1970.9,189.5 L1968.7,183.8"/>
<path d="M2001.2,304.9 L2004.9,297.5 L2008.2,289.8 L2011.1,282.1 L2013.6,274.1 L2015.7,266.1 L2017.4,258.0 L2018.6,249.7 L2019.5,241.5 L2019.9,233.2 L2019.9,224.9 L2019.4,216.6 L2018.6,208.3 L2017.3,200.1 L2015.6,192.0 L2013.4,183.9 L2010.9,176.0 L2008.0,168.2 L2004.6,160.6"/>
<path d="M1918.1,287.5 L1920.9,284.4 L1923.6,281.1 L1926.2,277.8 L1928.5,274.3 L1930.7,270.7 L1932.7,266.9 L1934.5,263.1 L1936.2,259.2 L1937.6,255.2 L1938.8,251.2 L1939.8,247.1 L1940.6,242.9 L1941.2,238.7 L1941.5,234.5 L1941.7,230.3 L1941.6,226.1 L1941.4,221.9 L1940.9,217.7 L1940.2,213.5 L1939.3,209.4"/>
<path d="M1935.3,326.7 L1940.2,322.6 L1945.0,318.2 L1949.4,313.6 L1953.7,308.8 L1957.6,303.7 L1961.3,298.5 L1964.8,293.1 L1967.9,287.5 L1970.8,281.8 L1973.4,275.9 L1975.6,269.9 L1977.5,263.7 L1979.2,257.5 L1980.5,251.3 L1981.4,244.9 L1982.1,238.5 L1982.4,232.1 L1982.4,225.7 L1982.0,219.3 L1981.3,212.9 L1980.3,206.6 L1979.0,200.3 L1977.3,194.1 L1975.3,188.0 L1973.1,182.0"/>
<path d="M1914.2,367.5 L1921.3,364.5 L1928.2,361.0 L1934.9,357.2 L1941.4,353.1 L1947.7,348.6 L1953.8,343.8 L1959.6,338.7 L1965.1,333.3 L1970.3,327.6 L1975.3,321.7 L1979.9,315.5 L1984.2,309.1 L1988.2,302.5 L1991.8,295.6 L1995.0,288.6 L1997.9,281.5 L2000.4,274.2 L2002.6,266.7 L2004.3,259.2 L2005.7,251.6 L2006.6,243.9 L2007.2,236.2 L2007.3,228.5 L2007.1,220.8 L2006.5,213.1 L2005.4,205.4 L2004.0,197.8 L2002.2,190.3 L2000.0,182.9 L1997.4,175.7 L1994.4,168.5"/>
<path d="M1896.5,349.9 L1902.7,347.8 L1908.7,345.3 L1914.7,342.5 L1920.4,339.5 L1926.1,336.1 L1931.5,332.4 L1936.7,328.5 L1941.7,324.3 L1946.5,319.9 L1951.1,315.2 L1955.4,310.3 L1959.5,305.1 L1963.3,299.8 L1966.8,294.3 L1970.0,288.6 L1972.9,282.7 L1975.5,276.7 L1977.8,270.6 L1979.8,264.4 L1981.4,258.0 L1982.7,251.6 L1983.7,245.2 L1984.4,238.6 L1984.7,232.1 L1984.7,225.6 L1984.3,219.0 L1983.6,212.5"/>
<path d="M1917.4,380.0 L1925.1,376.8 L1932.6,373.1 L1940.0,369.1 L1947.1,364.7 L1954.0,359.9 L1960.6,354.8 L1966.9,349.3 L1973.0,343.5 L1978.8,337.4 L1984.2,331.0 L1989.3,324.4 L1994.0,317.5 L1998.4,310.3 L2002.4,303.0 L2006.0,295.4 L2009.3,287.7 L2012.1,279.8 L2014.5,271.7 L2016.5,263.6 L2018.0,255.4 L2019.2,247.1 L2019.9,238.7 L2020.1,230.3 L2020.0,222.0 L2019.4,213.6 L2018.3,205.3 L2016.9,197.0 L2015.0,188.9 L2012.7,180.8"/>
<path d="M1879.4,372.6 L1886.7,371.3 L1893.9,369.7 L1901.1,367.7 L1908.1,365.3 L1915.1,362.5 L1921.8,359.5 L1928.4,356.0 L1934.8,352.2 L1941.0,348.2 L1947.0,343.7 L1952.8,339.0 L1958.3,334.0 L1963.5,328.8 L1968.5,323.2 L1973.2,317.5 L1977.5,311.4 L1981.6,305.2 L1985.3,298.8 L1988.7,292.2 L1991.8,285.4 L1994.5,278.5 L1996.8,271.4 L1998.8,264.2 L2000.4,257.0 L2001.6,249.6 L2002.5,242.2 L2003.0,234.8 L2003.1,227.4 L2002.8,220.0 L2002.1,212.6 L2001.1,205.2 L1999.6,197.9 L1997.8,190.7 L1995.7,183.6"/>
<path d="M1923.3,368.5 L1930.3,365.0 L1937.1,361.2 L1943.7,357.0 L1950.1,352.5 L1956.2,347.6 L1962.1,342.5 L1967.7,337.1 L1973.1,331.3 L1978.1,325.4 L1982.8,319.1 L1987.3,312.7 L1991.3,306.0 L1995.1,299.1 L1998.4,292.1 L2001.5,284.9 L2004.1,277.5 L2006.4,270.0 L2008.2,262.4 L2009.7,254.7 L2010.8,247.0 L2011.5,239.2 L2011.8,231.4 L2011.7,223.6 L2011.3,215.8"/>
<path d="M1944.4,379.7 L1951.8,375.2 L1959.0,370.4 L1965.9,365.1 L1972.6,359.6 L1978.9,353.7 L1985.0,347.5 L1990.8,341.0 L1996.2,334.2 L2001.3,327.2 L2006.0,319.9 L2010.4,312.4 L2014.3,304.6 L2017.9,296.7 L2021.1,288.6 L2023.8,280.4 L2026.2,272.1 L2028.1,263.6 L2029.6,255.0 L2030.7,246.4 L2031.3,237.8"/>
<path d="M1920.0,375.2 L1927.3,371.8 L1934.4,368.2 L1941.4,364.1 L1948.1,359.7 L1954.6,355.0 L1960.9,349.9 L1966.8,344.6 L1972.6,338.9 L1978.0,333.0 L1983.1,326.7 L1987.9,320.3 L1992.3,313.6 L1996.4,306.7 L2000.2,299.6 L2003.6,292.3 L2006.6,284.8 L2009.2,277.2 L2011.4,269.5 L2013.3,261.6 L2014.7,253.7 L2015.7,245.8 L2016.4,237.7"/>
<path d="M1913.1,367.3 L1920.1,364.3 L1926.9,360.9 L1933.5,357.3 L1939.9,353.3 L1946.2,348.9 L1952.2,344.3 L1957.9,339.3 L1963.4,334.1 L1968.6,328.6 L1973.5,322.9 L1978.1,316.8 L1982.4,310.6 L1986.4,304.2 L1990.1,297.5 L1993.4,290.7 L1996.3,283.7 L1998.9,276.6 L2001.2,269.4 L2003.0,262.0 L2004.5,254.6 L2005.6,247.1"/>
<path d="M1912.9,366.4 L1919.7,363.5 L1926.4,360.2 L1932.9,356.6 L1939.2,352.7 L1945.3,348.5 L1951.2,344.0 L1956.9,339.1 L1962.3,334.0 L1967.4,328.7 L1972.3,323.0 L1976.8,317.2 L1981.1,311.1 L1985.1,304.8 L1988.7,298.3 L1992.0,291.7 L1995.0,284.9 L1997.6,277.9 L1999.9,270.8 L2001.8,263.7"/>
<path d="M1876.8,364.4 L1883.6,363.3 L1890.4,361.8 L1897.1,360.0 L1903.7,357.9 L1910.2,355.4 L1916.5,352.6 L1922.7,349.5 L1928.8,346.0 L1934.6,342.3 L1940.3,338.3 L1945.7,333.9 L1950.9,329.4 L1955.9,324.5 L1960.6,319.4 L1965.1,314.1 L1969.2,308.5 L1973.1,302.8 L1976.7,296.8 L1980.0,290.7 L1983.0,284.4 L1985.6,278.0 L1987.9,271.5 L1989.9,264.8 L1991.5,258.1"/>
<path d="M1879.2,372.0 L1886.4,370.8 L1893.6,369.2 L1900.6,367.2 L1907.5,364.9 L1914.3,362.2 L1921.0,359.2 L1927.4,355.8 L1933.8,352.2 L1939.9,348.2 L1945.8,343.9 L1951.5,339.3 L1956.9,334.5 L1962.1,329.4 L1967.0,324.0 L1971.7,318.3 L1976.1,312.5 L1980.1,306.4 L1983.9,300.1 L1987.3,293.7 L1990.4,287.1 L1993.1,280.3 L1995.5,273.4 L1997.6,266.4 L1999.3,259.3 L2000.6,252.1 L2001.6,244.9"/>
<path d="M1917.6,393.1 L1925.9,389.8 L1934.0,386.2 L1941.8,382.1 L1949.5,377.7 L1956.9,372.8 L1964.1,367.6 L1971.0,362.0 L1977.6,356.1 L1983.9,349.9 L1989.9,343.3 L1995.5,336.5 L2000.8,329.4 L2005.7,322.0 L2010.2,314.3 L2014.4,306.5 L2018.1,298.4 L2021.4,290.2 L2024.3,281.8 L2026.7,273.3 L2028.8,264.7 L2030.3,256.0 L2031.5,247.2 L2032.2,238.3 L2032.4,229.5"/>
<path d="M1915.9,378.1 L1923.5,374.9 L1930.9,371.3 L1938.2,367.4 L1945.2,363.1 L1952.0,358.4 L1958.5,353.4 L1964.8,348.0 L1970.8,342.4 L1976.5,336.4 L1981.9,330.2 L1986.9,323.6 L1991.6,316.9 L1995.9,309.9 L1999.9,302.6 L2003.5,295.2 L2006.7,287.6 L2009.5,279.9 L2012.0,272.0 L2014.0,264.0 L2015.5,255.9"/>
<path d="M1875.5,360.7 L1882.1,359.7 L1888.7,358.3 L1895.2,356.6 L1901.6,354.6 L1907.8,352.2 L1914.0,349.6 L1920.0,346.6 L1925.9,343.3 L1931.5,339.7 L1937.0,335.9 L1942.3,331.8 L1947.4,327.4 L1952.3,322.7 L1956.9,317.9 L1961.2,312.8 L1965.3,307.4 L1969.1,301.9 L1972.7,296.2 L1975.9,290.3 L1978.8,284.3"/>
<path d="M1903.7,390.2 L1911.9,387.6 L1919.9,384.7 L1927.8,381.3 L1935.5,377.6 L1942.9,373.4 L1950.2,368.9 L1957.2,364.0 L1964.0,358.8 L1970.4,353.2 L1976.6,347.3 L1982.5,341.1 L1988.1,334.6 L1993.3,327.8 L1998.1,320.8 L2002.6,313.5 L2006.7,306.0 L2010.5,298.3 L2013.8,290.5 L2016.7,282.4 L2019.2,274.2 L2021.3,266.0 L2023.0,257.6 L2024.2,249.1"/>
<path d="M1903.9,389.5 L1912.0,387.0 L1919.9,384.0 L1927.6,380.7 L1935.2,377.0 L1942.6,372.9 L1949.7,368.5 L1956.7,363.7 L1963.3,358.5 L1969.7,353.0 L1975.9,347.2 L1981.7,341.1 L1987.2,334.7 L1992.3,328.1 L1997.2,321.2 L2001.6,314.0 L2005.7,306.6 L2009.5,299.1 L2012.8,291.3 L2015.7,283.4 L2018.3,275.4"/>
<path d="M1904.7,398.1 L1913.2,395.5 L1921.7,392.5 L1929.9,389.0 L1938.0,385.1 L1945.8,380.9 L1953.5,376.2 L1960.9,371.1 L1968.0,365.7 L1974.8,359.9 L1981.3,353.8 L1987.5,347.3 L1993.4,340.5 L1998.9,333.5 L2004.0,326.2 L2008.8,318.6 L2013.2,310.8 L2017.1,302.7 L2020.7,294.5 L2023.8,286.1 L2026.5,277.6"/>
</g>
<g fill="#ff99ff" stroke="#b343b9" stroke-width="2.0">
<circle cx="1742.0" cy="125.9" r="6.1"/>
<circle cx="1737.7" cy="146.6" r="6.1"/>
<circle cx="1771.4" cy="127.6" r="6.1"/>
<circle cx="1745.5" cy="113.0" r="6.1"/>
<circle cx="1733.5" cy="121.9" r="6.1"/>
<circle cx="1735.2" cy="137.4" r="6.1"/>
<circle cx="1719.6" cy="150.3" r="6.1"/>
<circle cx="1732.5" cy="151.7" r="6.1"/>
<circle cx="1703.3" cy="147.4" r="6.1"/>
<circle cx="1767.9" cy="133.7" r="6.1"/>
<circle cx="1784.3" cy="132.7" r="6.1"/>
<circle cx="1770.6" cy="158.3" r="6.1"/>
<circle cx="1760.6" cy="172.9" r="6.1"/>
<circle cx="1800.3" cy="165.5" r="6.1"/>
<circle cx="1740.4" cy="168.1" r="6.1"/>
<circle cx="1729.6" cy="170.7" r="6.1"/>
<circle cx="1736.0" cy="175.8" r="6.1"/>
<circle cx="1702.4" cy="180.2" r="6.1"/>
<circle cx="1707.1" cy="186.2" r="6.1"/>
<circle cx="1720.8" cy="194.9" r="6.1"/>
<circle cx="1736.5" cy="194.5" r="6.1"/>
<circle cx="1709.3" cy="196.2" r="6.1"/>
<circle cx="1710.1" cy="202.6" r="6.1"/>
<circle cx="1830.1" cy="210.6" r="6.1"/>
<circle cx="1684.0" cy="247.0" r="6.1"/>
<circle cx="1761.4" cy="248.8" r="6.1"/>
<circle cx="1984.5" cy="220.6" r="6.1"/>
<circle cx="1977.6" cy="234.8" r="6.1"/>
<circle cx="1991.3" cy="306.0" r="6.1"/>
<circle cx="1987.9" cy="320.3" r="6.1"/>
<circle cx="1975.9" cy="319.9" r="6.1"/>
<circle cx="1962.1" cy="329.4" r="6.1"/>
<circle cx="1981.9" cy="330.2" r="6.1"/>
<circle cx="1981.3" cy="353.8" r="6.1"/>
<circle cx="2000.8" cy="212.1" r="6.1"/>
<circle cx="1980.5" cy="228.0" r="6.1"/>
<circle cx="2019.9" cy="233.2" r="6.1"/>
<circle cx="1938.8" cy="251.2" r="6.1"/>
<circle cx="1978.4" cy="260.6" r="6.1"/>
<circle cx="1996.5" cy="285.1" r="6.1"/>
<circle cx="1965.1" cy="297.1" r="6.1"/>
<circle cx="2004.3" cy="299.2" r="6.1"/>
<circle cx="1981.6" cy="305.2" r="6.1"/>
<circle cx="2006.0" cy="319.9" r="6.1"/>
<circle cx="1969.9" cy="325.9" r="6.1"/>
<circle cx="1950.9" cy="329.4" r="6.1"/>
<circle cx="2000.8" cy="329.4" r="6.1"/>
<circle cx="1937.0" cy="335.9" r="6.1"/>
<circle cx="1985.3" cy="337.9" r="6.1"/>
<circle cx="1975.9" cy="347.2" r="6.1"/>
</g>
<path d="M1734.7,169.1 L1731.9,175.2 L1729.4,181.5 L1727.2,187.9 L1725.3,194.4 L1723.7,201.0 L1722.5,207.7 L1721.6,214.4 L1721.0,221.1 L1720.8,227.9 L1720.9,234.7 L1721.3,241.4 L1722.1,248.1 L1723.2,254.8 L1724.6,261.4 L1726.4,268.0 L1728.4,274.4 L1730.8,280.8" fill="none" stroke="#000" stroke-width="2.2"/>
<circle cx="1720.1" cy="219.8" r="6.8" fill="#fff" stroke="#000" stroke-width="3.2"/>
<polyline points="1792,368.3 1720.5,317.2 1720.5,244" fill="none" stroke="#000" stroke-width="3.8"/>
<polygon points="1720.5,232.0 1727.0,245.0 1720.5,241.1 1714.0,245.0" fill="#000"/>
<text x="1793.5" y="411.7" font-size="58" fill="#000" textLength="18.0" lengthAdjust="spacingAndGlyphs">f</text>
<line x1="1791.5" y1="16.0" x2="1791.5" y2="22.5" stroke="#000" stroke-width="2.2"/>
<line x1="1858.2" y1="16.0" x2="1858.2" y2="22.5" stroke="#000" stroke-width="2.2"/>
<line x1="1991.6" y1="16.0" x2="1991.6" y2="22.5" stroke="#000" stroke-width="2.2"/>
<line x1="1724.8" y1="442.3" x2="1724.8" y2="435.8" stroke="#000" stroke-width="2.2"/>
<line x1="1858.2" y1="442.3" x2="1858.2" y2="435.8" stroke="#000" stroke-width="2.2"/>
<line x1="1991.6" y1="442.3" x2="1991.6" y2="435.8" stroke="#000" stroke-width="2.2"/>
<line x1="1645.5" y1="362.7" x2="1652.0" y2="362.7" stroke="#000" stroke-width="2.2"/>
<line x1="1645.5" y1="229.3" x2="1652.0" y2="229.3" stroke="#000" stroke-width="2.2"/>
<line x1="1645.5" y1="95.9" x2="1652.0" y2="95.9" stroke="#000" stroke-width="2.2"/>
<line x1="2071.6" y1="362.7" x2="2065.1" y2="362.7" stroke="#000" stroke-width="2.2"/>
<line x1="2071.6" y1="229.3" x2="2065.1" y2="229.3" stroke="#000" stroke-width="2.2"/>
<line x1="2071.6" y1="95.9" x2="2065.1" y2="95.9" stroke="#000" stroke-width="2.2"/>
<rect x="1645.5" y="16.0" width="426.1" height="426.3" fill="none" stroke="#000" stroke-width="3.1"/>
<text x="1653.0" y="69.0" font-size="50" fill="#15210b" textLength="59.0" lengthAdjust="spacingAndGlyphs">(c)</text>
<text x="1976.5" y="430.4" font-size="47" fill="#4d4d4d" textLength="84.5" lengthAdjust="spacingAndGlyphs" stroke="#4d4d4d" stroke-width="0.4">DTC</text>
<text x="1632.5" y="109.5" font-size="39" fill="#2a2a2a" text-anchor="end">1</text>
<text x="1632.5" y="242.9" font-size="39" fill="#2a2a2a" text-anchor="end">0</text>
<text x="1632.5" y="376.3" font-size="39" fill="#2a2a2a" text-anchor="end">-1</text>
<text x="1711.0" y="479.6" font-size="38.5" fill="#2a2a2a">-1</text>
<text x="1865.0" y="479.6" font-size="38.5" fill="#2a2a2a" text-anchor="middle">0</text>
<text x="1987.5" y="479.6" font-size="38.5" fill="#2a2a2a">1</text>
<g transform="translate(1590.4,304.5) rotate(-90)">
<text x="0.0" y="0.0" font-size="35" fill="#000" textLength="46.5" lengthAdjust="spacingAndGlyphs" stroke="#000" stroke-width="0.35">Im[</text>
<text x="55.5" y="0.0" font-size="35" fill="#000" font-style="italic" textLength="27.0" lengthAdjust="spacingAndGlyphs" stroke="#000" stroke-width="0.35">N</text>
<text x="87.5" y="6.5" font-size="20.5" fill="#000" textLength="11.5" lengthAdjust="spacingAndGlyphs" stroke="#000" stroke-width="0.35">P</text>
<text x="110.0" y="-1.5" font-size="25" fill="#000" textLength="8.0" lengthAdjust="spacingAndGlyphs" stroke="#000" stroke-width="0.35">(</text>
<text x="121.8" y="0.0" font-size="35" fill="#000" font-style="italic" textLength="23.0" lengthAdjust="spacingAndGlyphs" stroke="#000" stroke-width="0.35">ω</text>
<text x="147.6" y="6.5" font-size="20.5" fill="#000" textLength="34.0" lengthAdjust="spacingAndGlyphs" stroke="#000" stroke-width="0.35">DTC</text>
<text x="184.6" y="-1.5" font-size="25" fill="#000" textLength="8.0" lengthAdjust="spacingAndGlyphs" stroke="#000" stroke-width="0.35">)</text>
<text x="203.0" y="0.0" font-size="35" fill="#000" textLength="9.5" lengthAdjust="spacingAndGlyphs" stroke="#000" stroke-width="0.35">]</text>
</g>
<text x="1778.0" y="517.8" font-size="35" fill="#000" textLength="48.5" lengthAdjust="spacingAndGlyphs" stroke="#000" stroke-width="0.35">Re[</text>
<text x="1836.6" y="517.8" font-size="35" fill="#000" font-style="italic" textLength="24.0" lengthAdjust="spacingAndGlyphs" stroke="#000" stroke-width="0.35">N</text>
<text x="1862.0" y="524.3" font-size="20.5" fill="#000" textLength="11.5" lengthAdjust="spacingAndGlyphs" stroke="#000" stroke-width="0.35">P</text>
<text x="1887.7" y="516.3" font-size="25" fill="#000" textLength="7.5" lengthAdjust="spacingAndGlyphs" stroke="#000" stroke-width="0.35">(</text>
<text x="1897.2" y="517.8" font-size="35" fill="#000" font-style="italic" textLength="23.5" lengthAdjust="spacingAndGlyphs" stroke="#000" stroke-width="0.35">ω</text>
<text x="1923.3" y="524.3" font-size="20.5" fill="#000" textLength="38.0" lengthAdjust="spacingAndGlyphs" stroke="#000" stroke-width="0.35">DTC</text>
<text x="1961.6" y="516.3" font-size="25" fill="#000" textLength="7.5" lengthAdjust="spacingAndGlyphs" stroke="#000" stroke-width="0.35">)</text>
<text x="1979.6" y="517.8" font-size="35" fill="#000" textLength="9.5" lengthAdjust="spacingAndGlyphs" stroke="#000" stroke-width="0.35">]</text>
</g>
<g id="pd">
<rect x="1656.0" y="777.6" width="23.8" height="28.9" fill="#ff9afc" stroke="#1a1020" stroke-width="1.5"/>
<rect x="1685.3" y="721.9" width="23.8" height="84.6" fill="#ff9afc" stroke="#1a1020" stroke-width="1.5"/>
<rect x="1714.6" y="605.1" width="23.8" height="201.4" fill="#ff9afc" stroke="#1a1020" stroke-width="1.5"/>
<rect x="1743.9" y="694.2" width="23.8" height="112.3" fill="#ff9afc" stroke="#1a1020" stroke-width="1.5"/>
<rect x="1216.0" y="795.6" width="23.8" height="10.9" fill="#8150c9" stroke="#150f25" stroke-width="1.5"/>
<rect x="1274.7" y="801.2" width="23.8" height="5.3" fill="#8150c9" stroke="#150f25" stroke-width="1.5"/>
<rect x="1333.3" y="801.2" width="23.8" height="5.3" fill="#8150c9" stroke="#150f25" stroke-width="1.5"/>
<rect x="1362.7" y="789.5" width="23.8" height="17.0" fill="#8150c9" stroke="#150f25" stroke-width="1.5"/>
<rect x="1392.0" y="789.5" width="23.8" height="17.0" fill="#8150c9" stroke="#150f25" stroke-width="1.5"/>
<rect x="1421.3" y="783.5" width="23.8" height="23.0" fill="#8150c9" stroke="#150f25" stroke-width="1.5"/>
<rect x="1450.6" y="777.5" width="23.8" height="29.0" fill="#8150c9" stroke="#150f25" stroke-width="1.5"/>
<rect x="1480.0" y="789.5" width="23.8" height="17.0" fill="#8150c9" stroke="#150f25" stroke-width="1.5"/>
<rect x="1509.3" y="783.4" width="23.8" height="23.1" fill="#8150c9" stroke="#150f25" stroke-width="1.5"/>
<rect x="1538.6" y="747.6" width="23.8" height="58.9" fill="#8150c9" stroke="#150f25" stroke-width="1.5"/>
<rect x="1568.0" y="759.4" width="23.8" height="47.1" fill="#8150c9" stroke="#150f25" stroke-width="1.5"/>
<rect x="1597.3" y="765.6" width="23.8" height="40.9" fill="#8150c9" stroke="#150f25" stroke-width="1.5"/>
<rect x="1626.6" y="777.6" width="23.8" height="28.9" fill="#8150c9" stroke="#150f25" stroke-width="1.5"/>
<rect x="1656.0" y="783.6" width="23.8" height="22.9" fill="#8150c9" stroke="#150f25" stroke-width="1.5"/>
<rect x="1685.3" y="795.6" width="23.8" height="10.9" fill="#8150c9" stroke="#150f25" stroke-width="1.5"/>
<rect x="1743.9" y="789.4" width="23.8" height="17.1" fill="#8150c9" stroke="#150f25" stroke-width="1.5"/>
<rect x="1773.3" y="795.6" width="23.8" height="10.9" fill="#8150c9" stroke="#150f25" stroke-width="1.5"/>
<rect x="1802.6" y="789.4" width="23.8" height="17.1" fill="#8150c9" stroke="#150f25" stroke-width="1.5"/>
<rect x="1831.9" y="801.4" width="23.8" height="5.1" fill="#8150c9" stroke="#150f25" stroke-width="1.5"/>
<rect x="1861.3" y="801.4" width="23.8" height="5.1" fill="#8150c9" stroke="#150f25" stroke-width="1.5"/>
<rect x="1890.6" y="801.4" width="23.8" height="5.1" fill="#8150c9" stroke="#150f25" stroke-width="1.5"/>
<line x1="1725.8" y1="589.3" x2="1725.8" y2="806.5" stroke="#5a5a5a" stroke-width="1.8" stroke-dasharray="5.5,4"/>
<line x1="1173.2" y1="589.3" x2="1173.2" y2="601.3" stroke="#000" stroke-width="2.2"/>
<line x1="1449.8" y1="589.3" x2="1449.8" y2="601.3" stroke="#000" stroke-width="2.2"/>
<line x1="1726.5" y1="589.3" x2="1726.5" y2="601.3" stroke="#000" stroke-width="2.2"/>
<line x1="2003.2" y1="589.3" x2="2003.2" y2="601.3" stroke="#000" stroke-width="2.2"/>
<line x1="1169.5" y1="806.5" x2="1169.5" y2="794.5" stroke="#000" stroke-width="2.2"/>
<line x1="1449.3" y1="806.5" x2="1449.3" y2="794.5" stroke="#000" stroke-width="2.2"/>
<line x1="1725.8" y1="806.5" x2="1725.8" y2="794.5" stroke="#000" stroke-width="2.2"/>
<line x1="2002.8" y1="806.5" x2="2002.8" y2="794.5" stroke="#000" stroke-width="2.2"/>
<line x1="1096" y1="698.8" x2="1109" y2="698.8" stroke="#000" stroke-width="2.2"/>
<rect x="1096" y="589.3" width="975.4" height="217.2" fill="none" stroke="#000" stroke-width="2.8"/>
<text x="1104.0" y="643.3" font-size="53" fill="#000" textLength="60.0" lengthAdjust="spacingAndGlyphs">(d)</text>
<rect x="1837.7" y="604.9" width="218.9" height="91.7" fill="#fff" stroke="#000" stroke-width="2.6"/>
<rect x="1846.6" y="612.3" width="67.7" height="32" fill="#8150c9" stroke="#150f25" stroke-width="1.5"/>
<rect x="1844.9" y="654.9" width="69.4" height="32.2" fill="#ff9afc" stroke="#1a1020" stroke-width="1.5"/>
<text x="1852.7" y="639.6" font-size="31" fill="#ececec" textLength="55.4" lengthAdjust="spacingAndGlyphs">CTC</text>
<text x="1851.0" y="681.6" font-size="31" fill="#333" textLength="56.3" lengthAdjust="spacingAndGlyphs">DTC</text>
<text x="1924.6" y="639.4" font-size="32.5" fill="#000" font-style="italic" style="font-family:'Liberation Serif',serif" textLength="8.4" lengthAdjust="spacingAndGlyphs" stroke="#000" stroke-width="0.7">f</text>
<text x="1934.9" y="644.9" font-size="21" fill="#000" textLength="11.4" lengthAdjust="spacingAndGlyphs">0</text>
<text x="1956.6" y="639.4" font-size="33" fill="#000" textLength="21.1" lengthAdjust="spacingAndGlyphs">=</text>
<text x="1983.0" y="639.4" font-size="34.2" fill="#000" textLength="18.8" lengthAdjust="spacingAndGlyphs">0</text>
<text x="1924.6" y="681.4" font-size="32.5" fill="#000" font-style="italic" style="font-family:'Liberation Serif',serif" textLength="8.4" lengthAdjust="spacingAndGlyphs" stroke="#000" stroke-width="0.7">f</text>
<text x="1934.9" y="686.9" font-size="21" fill="#000" textLength="11.4" lengthAdjust="spacingAndGlyphs">0</text>
<text x="1956.6" y="681.4" font-size="33" fill="#000" textLength="21.1" lengthAdjust="spacingAndGlyphs">=</text>
<text x="1983.0" y="681.4" font-size="34.2" fill="#000" textLength="65.4" lengthAdjust="spacingAndGlyphs">0.45</text>
<text x="1084.0" y="602.0" font-size="32" fill="#2a2a2a" text-anchor="end">0.5</text>
<text x="1084.0" y="822.0" font-size="32" fill="#2a2a2a" text-anchor="end">0</text>
<text x="1169.3" y="850.3" font-size="32.5" fill="#2a2a2a" text-anchor="middle">0.48</text>
<text x="1449.3" y="850.3" font-size="32.5" fill="#2a2a2a" text-anchor="middle">0.49</text>
<text x="1725.7" y="850.3" font-size="32.5" fill="#2a2a2a" text-anchor="middle">0.5</text>
<text x="2000.0" y="850.3" font-size="32.5" fill="#2a2a2a" text-anchor="middle">0.51</text>
<g transform="translate(1011.2,806) rotate(-90)">
<text x="0.0" y="0.0" font-size="33" fill="#000" textLength="210.7" lengthAdjust="spacingAndGlyphs">relative counts</text>
</g>
<text x="1364.8" y="894.0" font-size="37.5" fill="#000" textLength="135.2" lengthAdjust="spacingAndGlyphs" stroke="#000" stroke-width="0.35">response</text>
<text x="1513.0" y="894.0" font-size="37.5" fill="#000" textLength="156.0" lengthAdjust="spacingAndGlyphs" stroke="#000" stroke-width="0.35">frequency,</text>
<text x="1681.7" y="894.0" font-size="37.5" fill="#000" font-style="italic" textLength="23.1" lengthAdjust="spacingAndGlyphs" stroke="#000" stroke-width="0.35">ω</text>
<text x="1707.0" y="901.2" font-size="19.5" fill="#000" textLength="39.4" lengthAdjust="spacingAndGlyphs" stroke="#000" stroke-width="0.35">DTC</text>
<text x="1755.5" y="894.0" font-size="37.5" fill="#000" textLength="12.5" lengthAdjust="spacingAndGlyphs" stroke="#000" stroke-width="0.35">/</text>
<text x="1779.8" y="894.0" font-size="37.5" fill="#000" font-style="italic" textLength="22.6" lengthAdjust="spacingAndGlyphs" stroke="#000" stroke-width="0.35">ω</text>
<text x="1804.8" y="901.2" font-size="19.5" fill="#000" textLength="20.2" lengthAdjust="spacingAndGlyphs" stroke="#000" stroke-width="0.35">dr</text>
</g>
<g id="pef">
<rect x="1171.5" y="940" width="188.5" height="350.5" fill="#e6e6e6"/>
<line x1="358.8" y1="944.6" x2="358.8" y2="1074" stroke="#bfbfbf" stroke-width="3.3" stroke-dasharray="10,10.5"/>
<line x1="358.8" y1="1079.9" x2="358.8" y2="1290" stroke="#bfbfbf" stroke-width="3.3" stroke-dasharray="9.5,11"/>
<line x1="523.1" y1="944.6" x2="523.1" y2="1074" stroke="#bfbfbf" stroke-width="3.3" stroke-dasharray="10,10.5"/>
<line x1="523.1" y1="1079.9" x2="523.1" y2="1290" stroke="#bfbfbf" stroke-width="3.3" stroke-dasharray="9.5,11"/>
<line x1="234" y1="1006" x2="523" y2="1006" stroke="#bdbdbd" stroke-width="1.6" stroke-dasharray="5,4"/>
<line x1="1360" y1="940" x2="1656" y2="1106" stroke="#adadad" stroke-width="2" stroke-dasharray="9,7"/>
<line x1="1360" y1="1290" x2="1656" y2="1226.5" stroke="#adadad" stroke-width="2" stroke-dasharray="9,7"/>
<line x1="358.8" y1="940" x2="358.8" y2="950" stroke="#000" stroke-width="2.8"/>
<line x1="523.1" y1="940" x2="523.1" y2="950" stroke="#000" stroke-width="2.8"/>
<line x1="840.6" y1="940" x2="840.6" y2="950" stroke="#000" stroke-width="2.8"/>
<line x1="1201.5" y1="940" x2="1201.5" y2="950" stroke="#000" stroke-width="2.8"/>
<line x1="1465" y1="940" x2="1465" y2="950" stroke="#000" stroke-width="2.8"/>
<line x1="1765" y1="940" x2="1765" y2="950" stroke="#000" stroke-width="2.8"/>
<line x1="358.8" y1="1074.4" x2="358.8" y2="1064.4" stroke="#000" stroke-width="2.8"/>
<line x1="358.8" y1="1093" x2="358.8" y2="1103" stroke="#222" stroke-width="2.8"/>
<line x1="358.8" y1="1290.5" x2="358.8" y2="1280.5" stroke="#222" stroke-width="2.8"/>
<line x1="523.1" y1="1074.4" x2="523.1" y2="1064.4" stroke="#000" stroke-width="2.8"/>
<line x1="523.1" y1="1093" x2="523.1" y2="1103" stroke="#222" stroke-width="2.8"/>
<line x1="523.1" y1="1290.5" x2="523.1" y2="1280.5" stroke="#222" stroke-width="2.8"/>
<line x1="840.6" y1="1074.4" x2="840.6" y2="1064.4" stroke="#000" stroke-width="2.8"/>
<line x1="840.6" y1="1093" x2="840.6" y2="1103" stroke="#222" stroke-width="2.8"/>
<line x1="840.6" y1="1290.5" x2="840.6" y2="1280.5" stroke="#222" stroke-width="2.8"/>
<line x1="1142.5" y1="1074.4" x2="1142.5" y2="1064.4" stroke="#000" stroke-width="2.8"/>
<line x1="1142.5" y1="1093" x2="1142.5" y2="1103" stroke="#222" stroke-width="2.8"/>
<line x1="1142.5" y1="1290.5" x2="1142.5" y2="1280.5" stroke="#222" stroke-width="2.8"/>
<line x1="1465" y1="1074.4" x2="1465" y2="1064.4" stroke="#000" stroke-width="2.8"/>
<line x1="1465" y1="1093" x2="1465" y2="1103" stroke="#222" stroke-width="2.8"/>
<line x1="1465" y1="1290.5" x2="1465" y2="1280.5" stroke="#222" stroke-width="2.8"/>
<line x1="1765" y1="1074.4" x2="1765" y2="1064.4" stroke="#000" stroke-width="2.8"/>
<line x1="1765" y1="1093" x2="1765" y2="1103" stroke="#222" stroke-width="2.8"/>
<line x1="1765" y1="1290.5" x2="1765" y2="1280.5" stroke="#222" stroke-width="2.8"/>
<line x1="232.6" y1="1006" x2="244.6" y2="1006" stroke="#000" stroke-width="2.8"/>
<line x1="2076" y1="1005.7" x2="2064" y2="1005.7" stroke="#000" stroke-width="2.8"/>
<line x1="2076" y1="1183.6" x2="2064" y2="1183.6" stroke="#000" stroke-width="2.8"/>
<polyline points="234.0,1012.9 236.0,1012.7 238.0,1012.9 240.0,1012.5 242.0,1012.7 244.0,1012.5 246.0,1012.3 248.0,1012.4 250.0,1012.1 252.0,1012.2 254.0,1011.9 256.0,1011.9 258.0,1011.9 260.0,1012.1 262.0,1011.6 264.0,1011.6 266.0,1011.7 268.0,1011.8 270.0,1011.5 272.0,1011.3 274.0,1011.5 276.0,1011.0 278.0,1011.3 280.0,1010.9 282.0,1010.8 284.0,1010.7 286.0,1010.7 288.0,1010.8 290.0,1010.4 292.0,1010.6 294.0,1010.5 296.0,1010.3 298.0,1010.3 300.0,1010.0 302.0,1009.9 304.0,1009.9 306.0,1010.0 308.0,1009.8 310.0,1009.7 312.0,1009.7 314.0,1009.6 316.0,1009.4 318.0,1009.6 320.0,1009.4 322.0,1009.1 324.0,1009.2 326.0,1009.1 328.0,1009.2 330.0,1009.0 332.0,1008.7 334.0,1009.0 336.0,1008.4 338.0,1008.5 340.0,1008.6 342.0,1008.2 344.0,1008.3 346.0,1008.0 348.0,1008.2 350.0,1008.2 352.0,1008.0 354.0,1008.1 356.0,1007.7 358.0,1007.7 360.0,1007.6 362.0,1007.6 364.0,1007.5 366.0,1007.6 368.0,1007.6 370.0,1007.3 372.0,1007.4 374.0,1007.1 376.0,1007.3 378.0,1007.3 380.0,1007.4 382.0,1007.3 384.0,1007.0 386.0,1007.0 388.0,1007.1 390.0,1006.8 392.0,1007.0 394.0,1006.8 396.0,1006.8 398.0,1006.8 400.0,1007.1 402.0,1006.8 404.0,1006.9 406.0,1006.9 408.0,1007.2 410.0,1006.8 412.0,1007.0 414.0,1007.0 416.0,1007.2 418.0,1007.2 420.0,1007.2 422.0,1006.9 424.0,1007.0 426.0,1006.9 428.0,1007.2 430.0,1007.2 432.0,1006.8 434.0,1006.8 436.0,1006.9 438.0,1006.9 440.0,1007.0 442.0,1007.0 444.0,1006.9 446.0,1006.8 448.0,1007.0 450.0,1006.9 452.0,1007.0 454.0,1007.2 456.0,1007.1 458.0,1007.0 460.0,1007.1 462.0,1007.1 464.0,1006.8 466.0,1007.2 468.0,1007.1 470.0,1007.2 472.0,1007.1 474.0,1006.9 476.0,1006.9 478.0,1006.8 480.0,1007.1 482.0,1006.8 484.0,1006.8 486.0,1006.9 488.0,1006.8 490.0,1006.9 492.0,1006.8 494.0,1006.8 496.0,1006.8 498.0,1006.8 500.0,1006.9 502.0,1006.8 504.0,1007.2 506.0,1007.1 508.0,1006.8 510.0,1006.9 512.0,1006.9 514.0,1006.9 516.0,1006.8 518.0,1007.2 520.0,1007.2 522.0,1007.0 523.1,1007.0 524.0,1006.9 524.8,1006.8 525.7,1006.7 526.5,1006.6 527.4,1006.5 528.2,1006.5 529.1,1006.5 529.9,1006.6 530.8,1006.7 531.6,1006.8 532.5,1006.7 533.3,1006.6 534.2,1006.3 535.0,1005.8 535.9,1005.4 536.7,1005.0 537.6,1004.7 538.4,1004.6 539.3,1004.6 540.1,1004.9 541.0,1005.5 541.8,1006.3 542.7,1007.2 543.5,1008.0 544.4,1008.6 545.2,1008.9 546.1,1008.6 546.9,1008.0 547.8,1006.9 548.6,1005.5 549.5,1004.1 550.3,1002.8 551.2,1002.0 552.0,1001.7 552.9,1002.1 553.7,1003.1 554.6,1004.7 555.4,1006.7 556.3,1008.7 557.1,1010.4 558.0,1011.5 558.8,1011.8 559.7,1011.2 560.5,1009.8 561.4,1007.7 562.2,1005.1 563.1,1002.6 563.9,1000.4 564.8,999.0 565.6,998.6 566.5,999.2 567.3,1001.0 568.2,1003.8 569.0,1007.2 569.9,1010.6 570.7,1013.6 571.6,1015.5 572.4,1016.1 573.3,1015.1 574.1,1012.6 575.0,1008.9 575.8,1004.5 576.7,1000.1 577.5,996.3 578.4,993.9 579.2,993.2 580.1,994.5 580.9,997.7 581.8,1002.4 582.6,1007.9 583.5,1013.3 584.3,1017.9 585.2,1020.9 586.0,1021.6 586.9,1020.0 587.7,1016.0 588.6,1010.4 589.4,1003.8 590.3,997.3 591.1,991.9 592.0,988.4 592.8,987.6 593.7,989.6 594.5,994.3 595.4,1000.9 596.2,1008.5 597.1,1016.0 597.9,1022.2 598.8,1026.0 599.6,1026.9 600.5,1024.6 601.3,1019.3 602.2,1011.8 603.0,1003.2 603.9,994.8 604.7,987.9 605.6,983.6 606.4,982.6 607.3,985.3 608.1,991.2 609.0,999.5 609.8,1009.1 610.7,1018.4 611.5,1026.0 612.4,1030.7 613.2,1031.8 614.1,1028.8 614.9,1022.3 615.8,1013.2 616.6,1002.7 617.5,992.5 618.3,984.1 619.2,979.0 620.0,977.8 620.9,980.9 621.7,988.0 622.6,998.0 623.4,1009.6 624.3,1021.0 625.1,1030.4 626.0,1036.2 626.8,1037.6 627.7,1034.1 628.5,1026.1 629.4,1014.9 630.2,1002.0 631.1,989.4 631.9,979.0 632.8,972.5 633.6,971.1 634.5,975.1 635.3,983.9 636.2,996.2 637.0,1010.3 637.9,1024.0 638.7,1035.2 639.6,1042.0 640.4,1043.5 641.3,1039.2 642.1,1029.8 643.0,1016.5 643.8,1001.4 644.7,986.8 645.5,974.8 646.4,967.4 647.2,965.9 648.1,970.4 648.9,980.5 649.8,994.7 650.6,1010.8 651.5,1026.4 652.3,1039.1 653.2,1047.0 654.0,1048.6 654.9,1043.8 655.7,1033.1 656.6,1018.0 657.4,1001.0 658.3,984.4 659.1,970.9 660.0,962.6 660.8,960.9 661.7,966.0 662.5,977.4 663.4,993.2 664.2,1011.3 665.1,1028.7 665.9,1042.9 666.8,1051.6 667.6,1053.5 668.5,1048.1 669.3,1036.2 670.2,1019.5 671.0,1000.5 671.9,982.2 672.7,967.3 673.6,958.1 674.4,956.2 675.3,961.9 676.1,974.5 677.0,991.9 677.8,1011.6 678.7,1030.6 679.5,1045.9 680.4,1055.3 681.2,1057.2 682.1,1051.3 682.9,1038.4 683.8,1020.6 684.6,1000.3 685.5,980.9 686.3,965.1 687.2,955.5 688.0,953.5 688.9,959.7 689.7,972.9 690.6,991.1 691.4,1011.7 692.3,1031.4 693.1,1047.2 694.0,1056.9 694.8,1058.7 695.7,1052.6 696.5,1039.4 697.4,1021.0 698.2,1000.4 699.1,980.6 699.9,964.6 700.8,954.9 701.6,953.0 702.5,959.2 703.3,972.5 704.2,990.9 705.0,1011.6 705.9,1031.4 706.7,1047.4 707.6,1057.1 708.4,1059.0 709.3,1052.9 710.1,1039.6 711.0,1021.2 711.8,1000.5 712.7,980.6 713.5,964.6 714.4,954.9 715.2,953.0 716.1,959.1 716.9,972.4 717.8,990.7 718.6,1011.4 719.5,1031.3 720.3,1047.3 721.2,1057.1 722.0,1059.0 722.9,1052.9 723.7,1039.7 724.6,1021.3 725.4,1000.7 726.3,980.8 727.1,964.7 728.0,955.0 728.8,953.0 729.7,959.0 730.5,972.2 731.4,990.6 732.2,1011.3 733.1,1031.2 733.9,1047.2 734.8,1057.0 735.6,1059.0 736.5,1053.0 737.3,1039.8 738.2,1021.5 739.0,1000.8 739.9,980.9 740.7,964.8 741.6,955.0 742.4,953.0 743.3,959.0 744.1,972.1 745.0,990.4 745.8,1011.1 746.7,1031.0 747.5,1047.1 748.4,1057.0 749.2,1059.1 750.1,1053.1 750.9,1039.9 751.8,1021.6 752.6,1000.9 753.5,981.0 754.3,964.9 755.2,955.1 756.0,952.9 756.9,958.9 757.7,972.0 758.6,990.3 759.4,1011.0 760.3,1030.9 761.1,1047.0 762.0,1056.9 762.8,1059.1 763.7,1053.1 764.5,1040.0 765.4,1021.8 766.2,1001.1 767.1,981.2 767.9,965.0 768.8,955.1 769.6,952.9 770.5,958.8 771.3,971.9 772.2,990.2 773.0,1010.8 773.9,1030.8 774.7,1046.9 775.6,1056.9 776.4,1059.1 777.3,1053.2 778.1,1040.2 779.0,1021.9 779.8,1001.2 780.7,981.3 781.5,965.1 782.4,955.1 783.2,952.9 784.1,958.8 784.9,971.8 785.8,990.0 786.6,1010.7 787.5,1030.6 788.3,1046.8 789.2,1056.8 790.0,1059.1 790.9,1053.3 791.7,1040.3 792.6,1022.1 793.4,1001.4 794.3,981.4 795.1,965.2 796.0,955.2 796.8,952.9 797.7,958.7 798.5,971.7 799.4,989.9 800.2,1010.5 801.1,1030.5 801.9,1046.7 802.8,1056.8 803.6,1059.1 804.5,1053.3 805.3,1040.4 806.2,1022.2 807.0,1001.5 807.9,981.6 808.7,965.3 809.6,955.2 810.4,952.9 811.3,958.6 812.1,971.6 813.0,989.7 813.8,1010.4 814.7,1030.4 815.5,1046.7 816.4,1056.7 817.2,1059.1 818.1,1053.4 818.9,1040.5 819.8,1022.3 820.6,1001.7 821.5,981.7 822.3,965.4 823.2,955.3 824.0,952.9 824.9,958.5 825.7,971.4 826.6,989.6 827.4,1010.2 828.3,1030.2 829.1,1046.6 830.0,1056.7 830.8,1059.1 831.7,1053.5 832.5,1040.6 833.4,1022.5 834.2,1001.8 835.1,981.8 835.9,965.5 836.8,955.3 837.6,952.9 838.5,958.5 839.3,971.3 840.2,989.5 841.0,1010.1 841.9,1030.1 842.7,1046.5 843.6,1056.7 844.4,1059.1 845.3,1053.6 846.1,1040.7 847.0,1022.6 847.8,1002.0 848.7,982.0 849.5,965.6 850.4,955.4 851.2,952.8 852.1,958.4 852.9,971.2 853.8,989.3 854.6,1009.9 855.5,1030.0 856.3,1046.4 857.2,1056.6 858.0,1059.2 858.9,1053.6 859.7,1040.8 860.6,1022.8 861.4,1002.1 862.3,982.1 863.1,965.7 864.0,955.4 864.8,952.8 865.7,958.3 866.5,971.1 867.4,989.2 868.2,1009.8 869.1,1029.8 869.9,1046.3 870.8,1056.6 871.6,1059.2 872.5,1053.7 873.3,1040.9 874.2,1022.9 875.0,1002.3 875.9,982.2 876.7,965.8 877.6,955.5 878.4,952.8 879.3,958.3 880.1,971.0 881.0,989.0 881.8,1009.7 882.7,1029.7 883.5,1046.2 884.4,1056.5 885.2,1059.2 886.1,1053.7 886.9,1041.1 887.8,1023.0 888.6,1002.4 889.5,982.4 890.3,965.9 891.2,955.5 892.0,952.8 892.9,958.2 893.7,970.9 894.6,988.9 895.4,1009.5 896.3,1029.6 897.1,1046.1 898.0,1056.5 898.8,1059.2 899.7,1053.8 900.5,1041.2 901.4,1023.2 902.2,1002.6 903.1,982.5 903.9,966.0 904.8,955.6 905.6,952.8 906.5,958.2 907.3,970.8 908.2,988.8 909.0,1009.4 909.9,1029.5 910.7,1046.0 911.6,1056.4 912.4,1059.2 913.3,1053.9 914.1,1041.3 915.0,1023.3 915.8,1002.7 916.7,982.6 917.5,966.1 918.4,955.6 919.2,952.8 920.1,958.1 920.9,970.7 921.8,988.6 922.6,1009.2 923.5,1029.3 924.3,1045.9 925.2,1056.4 926.0,1059.2 926.9,1053.9 927.7,1041.4 928.6,1023.5 929.4,1002.9 930.3,982.7 931.1,966.2 932.0,955.7 932.8,952.8 933.7,958.0 934.5,970.6 935.4,988.5 936.2,1009.1 937.1,1029.2 937.9,1045.8 938.8,1056.3 939.6,1059.2 940.5,1054.0 941.3,1041.5 942.2,1023.6 943.0,1003.0 943.9,982.9 944.7,966.3 945.6,955.7 946.4,952.8 947.3,958.0 948.1,970.4 949.0,988.3 949.8,1008.9 950.7,1029.1 951.5,1045.7 952.4,1056.3 953.2,1059.2 954.1,1054.1 954.9,1041.6 955.8,1023.7 956.6,1003.2 957.5,983.0 958.3,966.4 959.2,955.7 960.0,952.8 960.9,957.9 961.7,970.3 962.6,988.2 963.4,1008.8 964.3,1028.9 965.1,1045.6 966.0,1056.2 966.8,1059.2 967.7,1054.1 968.5,1041.7 969.4,1023.9 970.2,1003.3 971.1,983.1 971.9,966.5 972.8,955.8 973.6,952.8 974.5,957.8 975.3,970.2 976.2,988.1 977.0,1008.6 977.9,1028.8 978.7,1045.5 979.6,1056.2 980.4,1059.2 981.3,1054.2 982.1,1041.8 983.0,1024.0 983.8,1003.5 984.7,983.3 985.5,966.6 986.4,955.8 987.2,952.8 988.1,957.8 988.9,970.1 989.8,987.9 990.6,1008.5 991.5,1028.7 992.3,1045.4 993.2,1056.1 994.0,1059.2 994.9,1054.3 995.7,1041.9 996.6,1024.2 997.4,1003.6 998.3,983.4 999.1,966.7 1000.0,955.9 1000.8,952.8 1001.7,957.7 1002.5,970.0 1003.4,987.8 1004.2,1008.3 1005.1,1028.5 1005.9,1045.3 1006.8,1056.1 1007.6,1059.3 1008.5,1054.3 1009.3,1042.0 1010.2,1024.3 1011.0,1003.7 1011.9,983.5 1012.7,966.8 1013.6,955.9 1014.4,952.7 1015.3,957.6 1016.1,969.9 1017.0,987.6 1017.8,1008.2 1018.7,1028.4 1019.5,1045.2 1020.4,1056.0 1021.2,1059.3 1022.1,1054.4 1022.9,1042.2 1023.8,1024.4 1024.6,1003.9 1025.5,983.7 1026.3,966.9 1027.2,956.0 1028.0,952.7 1028.9,957.6 1029.7,969.8 1030.6,987.5 1031.4,1008.0 1032.3,1028.2 1033.1,1045.1 1034.0,1056.0 1034.8,1059.3 1035.7,1054.4 1036.5,1042.3 1037.4,1024.6 1038.2,1004.0 1039.1,983.8 1039.9,967.0 1040.8,956.1 1041.6,952.7 1042.5,957.5 1043.3,969.7 1044.2,987.4 1045.0,1007.9 1045.9,1028.1 1046.7,1045.0 1047.6,1055.9 1048.4,1059.3 1049.3,1054.5 1050.1,1042.4 1051.0,1024.7 1051.8,1004.2 1052.7,984.0 1053.5,967.1 1054.4,956.1 1055.2,952.7 1056.1,957.5 1056.9,969.6 1057.8,987.2 1058.6,1007.7 1059.5,1028.0 1060.3,1044.9 1061.2,1055.9 1062.0,1059.3 1062.9,1054.6 1063.7,1042.5 1064.6,1024.8 1065.4,1004.3 1066.3,984.1 1067.1,967.2 1068.0,956.2 1068.8,952.7 1069.7,957.4 1070.5,969.5 1071.4,987.1 1072.2,1007.6 1073.1,1027.8 1073.9,1044.8 1074.8,1055.8 1075.6,1059.3 1076.5,1054.6 1077.3,1042.6 1078.2,1025.0 1079.0,1004.5 1079.9,984.2 1080.7,967.3 1081.6,956.2 1082.4,952.7 1083.3,957.3 1084.1,969.4 1085.0,986.9 1085.8,1007.4 1086.7,1027.7 1087.5,1044.7 1088.4,1055.8 1089.2,1059.3 1090.1,1054.7 1090.9,1042.7 1091.8,1025.1 1092.6,1004.6 1093.5,984.4 1094.3,967.4 1095.2,956.3 1096.0,952.7 1096.9,957.3 1097.7,969.2 1098.6,986.8 1099.4,1007.3 1100.3,1027.6 1101.1,1044.6 1102.0,1055.7 1102.8,1059.3 1103.7,1054.8 1104.5,1042.8 1105.4,1025.3 1106.2,1004.8 1107.1,984.5 1107.9,967.5 1108.8,956.3 1109.6,952.7 1110.5,957.2 1111.3,969.1 1112.2,986.7 1113.0,1007.1 1113.9,1027.4 1114.7,1044.5 1115.6,1055.7 1116.4,1059.3 1117.3,1054.8 1118.1,1042.9 1119.0,1025.4 1119.8,1004.9 1120.7,984.6 1121.5,967.6 1122.4,956.4 1123.2,952.7 1124.1,957.2 1124.9,969.0 1125.8,986.5 1126.6,1007.0 1127.5,1027.3 1128.3,1044.4 1129.2,1055.6 1130.0,1059.3 1130.9,1054.9 1131.7,1043.0 1132.6,1025.5 1133.4,1005.1 1134.3,984.8 1135.1,967.7 1136.0,956.4 1136.8,952.7 1137.7,957.1 1138.5,968.9 1139.4,986.4 1140.2,1006.8 1141.1,1027.2 1141.9,1044.3 1142.8,1055.6 1143.6,1059.3 1144.5,1054.9 1145.3,1043.1 1146.2,1025.7 1147.0,1005.2 1147.9,984.9 1148.7,967.8 1149.5,956.5 1150.4,952.7 1151.2,957.0 1152.1,968.8 1152.9,986.3 1153.8,1006.7 1154.6,1027.0 1155.5,1044.2 1156.3,1055.5 1157.2,1059.3 1158.0,1055.0 1158.9,1043.2 1159.7,1025.8 1160.6,1005.4 1161.4,985.0 1162.3,967.9 1163.1,956.5 1164.0,952.7 1164.8,957.0 1165.7,968.7 1166.5,986.1 1167.4,1006.6 1168.2,1026.9 1169.1,1044.1 1169.9,1055.4 1170.8,1059.3 1171.6,1055.0 1172.5,1043.3 1173.3,1025.9 1174.2,1005.5 1175.0,985.2 1175.9,968.0 1176.7,956.6 1177.6,952.7 1178.4,956.9 1179.3,968.6 1180.1,986.0 1181.0,1006.4 1181.8,1026.8 1182.7,1044.0 1183.5,1055.4 1184.4,1059.3 1185.2,1055.1 1186.1,1043.4 1186.9,1026.1 1187.8,1005.7 1188.6,985.3 1189.5,968.1 1190.3,956.6 1191.2,952.7 1192.0,956.9 1192.9,968.5 1193.7,985.9 1194.6,1006.3 1195.4,1026.6 1196.3,1043.9 1197.1,1055.3 1198.0,1059.3 1198.8,1055.2 1199.7,1043.5 1200.5,1026.2 1201.4,1005.8 1202.2,985.4 1203.1,968.2 1203.9,956.7 1204.8,952.7 1205.6,956.8 1206.5,968.4 1207.3,985.7 1208.2,1006.1 1209.0,1026.5 1209.9,1043.8 1210.7,1055.3 1211.6,1059.3 1212.4,1055.2 1213.3,1043.6 1214.1,1026.4 1215.0,1006.0 1215.8,985.6 1216.7,968.3 1217.5,956.8 1218.4,952.7 1219.2,956.8 1220.1,968.3 1220.9,985.6 1221.8,1006.0 1222.6,1026.4 1223.5,1043.6 1224.3,1055.2 1225.2,1059.3 1226.0,1055.3 1226.9,1043.8 1227.7,1026.5 1228.6,1006.1 1229.4,985.7 1230.3,968.4 1231.1,956.8 1232.0,952.7 1232.8,956.7 1233.7,968.2 1234.5,985.4 1235.4,1005.8 1236.2,1026.2 1237.1,1043.5 1237.9,1055.2 1238.8,1059.3 1239.6,1055.3 1240.5,1043.9 1241.3,1026.6 1242.2,1006.3 1243.0,985.9 1243.9,968.5 1244.7,956.9 1245.6,952.7 1246.4,956.6 1247.3,968.1 1248.1,985.3 1249.0,1005.7 1249.8,1026.1 1250.7,1043.4 1251.5,1055.1 1252.4,1059.3 1253.2,1055.4 1254.1,1044.0 1254.9,1026.8 1255.8,1006.4 1256.6,986.0 1257.5,968.6 1258.3,956.9 1259.2,952.7 1260.0,956.6 1260.9,968.0 1261.7,985.2 1262.6,1005.5 1263.4,1025.9 1264.3,1043.3 1265.1,1055.0 1266.0,1059.3 1266.8,1055.4 1267.7,1044.1 1268.5,1026.9 1269.4,1006.6 1270.2,986.1 1271.1,968.7 1271.9,957.0 1272.8,952.7 1273.6,956.5 1274.5,967.9 1275.3,985.0 1276.2,1005.4 1277.0,1025.8 1277.9,1043.2 1278.7,1055.0 1279.6,1059.3 1280.4,1055.5 1281.3,1044.2 1282.1,1027.0 1283.0,1006.7 1283.8,986.3 1284.7,968.8 1285.5,957.0 1286.4,952.7 1287.2,956.5 1288.1,967.8 1288.9,984.9 1289.8,1005.2 1290.6,1025.7 1291.5,1043.1 1292.3,1054.9 1293.2,1059.3 1294.0,1055.6 1294.9,1044.3 1295.7,1027.2 1296.6,1006.8 1297.4,986.4 1298.3,968.9 1299.1,957.1 1300.0,952.7 1300.8,956.4 1301.7,967.7 1302.5,984.8 1303.4,1005.1 1304.2,1025.5 1305.1,1043.0 1305.9,1054.9 1306.8,1059.3 1307.6,1055.6 1308.5,1044.4 1309.3,1027.3 1310.2,1007.0 1311.0,986.5 1311.9,969.0 1312.7,957.2 1313.6,952.7 1314.4,956.4 1315.3,967.6 1316.1,984.6 1317.0,1004.9 1317.8,1025.4 1318.7,1042.9 1319.5,1054.8 1320.4,1059.3 1321.2,1055.7 1322.1,1044.5 1322.9,1027.4 1323.8,1007.1 1324.6,986.7 1325.5,969.1 1326.3,957.2 1327.2,952.7 1328.0,956.3 1328.9,967.5 1329.7,984.5 1330.6,1004.8 1331.4,1025.3 1332.3,1042.8 1333.1,1054.8 1334.0,1059.3 1334.8,1055.7 1335.7,1044.6 1336.5,1027.6 1337.4,1007.3 1338.2,986.8 1339.1,969.2 1339.9,957.3 1340.8,952.7 1341.6,956.3 1342.5,967.4 1343.3,984.4 1344.2,1004.6 1345.0,1025.1 1345.9,1042.7 1346.7,1054.7 1347.6,1059.3 1348.4,1055.8 1349.3,1044.7 1350.1,1027.7 1351.0,1007.4 1351.8,986.9 1352.7,969.4 1353.5,957.3 1354.4,952.7 1355.2,956.2 1356.1,967.3 1356.9,984.2 1357.8,1004.5 1358.6,1025.0 1359.5,1042.6 1360.3,1054.6 1361.2,1059.3 1362.0,1055.8 1362.9,1044.8 1363.7,1027.8 1364.6,1007.6 1365.4,987.1 1366.3,969.5 1367.1,957.4 1368.0,952.7 1368.8,956.2 1369.7,967.2 1370.5,984.1 1371.4,1004.3 1372.2,1024.8 1373.1,1042.5 1373.9,1054.6 1374.8,1059.3 1375.6,1055.9 1376.5,1044.9 1377.3,1028.0 1378.2,1007.7 1379.0,987.2 1379.9,969.6 1380.7,957.5 1381.6,952.7 1382.4,956.1 1383.3,967.1 1384.1,984.0 1385.0,1004.2 1385.8,1024.7 1386.7,1042.4 1387.5,1054.5 1388.4,1059.3 1389.2,1055.9 1390.1,1045.0 1390.9,1028.1 1391.8,1007.9 1392.6,987.4 1393.5,969.7 1394.3,957.5 1395.2,952.7 1396.0,956.1 1396.9,967.0 1397.7,983.8 1398.6,1004.0 1399.4,1024.6 1400.3,1042.3 1401.1,1054.4 1402.0,1059.3 1402.8,1056.0 1403.7,1045.1 1404.5,1028.2 1405.4,1008.0 1406.2,987.5 1407.1,969.8 1407.9,957.6 1408.8,952.7 1409.6,956.0 1410.5,966.9 1411.3,983.7 1412.2,1003.9 1413.0,1024.4 1413.9,1042.2 1414.7,1054.4 1415.6,1059.3 1416.4,1056.0 1417.3,1045.2 1418.1,1028.4 1419.0,1008.2 1419.8,987.6 1420.7,969.9 1421.5,957.6 1422.4,952.7 1423.2,955.9 1424.1,966.8 1424.9,983.5 1425.8,1003.7 1426.6,1024.3 1427.5,1042.0 1428.3,1054.3 1429.2,1059.3 1430.0,1056.1 1430.9,1045.3 1431.7,1028.5 1432.6,1008.3 1433.4,987.8 1434.3,970.0 1435.1,957.7 1436.0,952.8 1436.8,955.9 1437.7,966.7 1438.5,983.4 1439.4,1003.6 1440.2,1024.2 1441.1,1041.9 1441.9,1054.3 1442.8,1059.2 1443.6,1056.1 1444.5,1045.4 1445.3,1028.7 1446.2,1008.5 1447.0,987.9 1447.9,970.1 1448.7,957.8 1449.6,952.8 1450.4,955.8 1451.3,966.6 1452.1,983.3 1453.0,1003.5 1453.8,1024.0 1454.7,1041.8 1455.5,1054.2 1456.4,1059.2 1457.2,1056.2 1458.1,1045.5 1458.9,1028.8 1459.8,1008.6 1460.6,988.1 1461.5,970.2 1462.3,957.8 1463.2,952.8 1464.0,955.8 1464.9,966.5 1465.7,983.1 1466.6,1003.3 1467.4,1023.9 1468.3,1041.7 1469.1,1054.1 1470.0,1059.2 1470.8,1056.2 1471.7,1045.6 1472.5,1028.9 1473.4,1008.8 1474.2,988.2 1475.1,970.3 1475.9,957.9 1476.8,952.8 1477.6,955.7 1478.5,966.4 1479.3,983.0 1480.2,1003.2 1481.0,1023.7 1481.9,1041.6 1482.7,1054.1 1483.6,1059.2 1484.4,1056.3 1485.3,1045.7 1486.1,1029.1 1487.0,1008.9 1487.8,988.3 1488.7,970.4 1489.5,958.0 1490.4,952.8 1491.2,955.7 1492.1,966.3 1492.9,982.9 1493.8,1003.0 1494.6,1023.6 1495.5,1041.5 1496.3,1054.0 1497.2,1059.2 1498.0,1056.3 1498.9,1045.8 1499.7,1029.2 1500.6,1009.1 1501.4,988.5 1502.3,970.6 1503.1,958.0 1504.0,952.8 1504.8,955.7 1505.7,966.2 1506.5,982.7 1507.4,1002.9 1508.2,1023.5 1509.1,1041.4 1509.9,1053.9 1510.8,1059.2 1511.6,1056.4 1512.5,1045.9 1513.3,1029.3 1514.2,1009.2 1515.0,988.6 1515.9,970.7 1516.7,958.1 1517.6,952.8 1518.4,955.6 1519.3,966.1 1520.1,982.6 1521.0,1002.7 1521.8,1023.3 1522.7,1041.3 1523.5,1053.9 1524.4,1059.2 1525.2,1056.4 1526.1,1046.0 1526.9,1029.5 1527.8,1009.4 1528.6,988.8 1529.5,970.8 1530.3,958.2 1531.2,952.8 1532.0,955.6 1532.9,966.0 1533.7,982.5 1534.6,1002.6 1535.4,1023.2 1536.3,1041.2 1537.1,1053.8 1538.0,1059.2 1538.8,1056.5 1539.7,1046.1 1540.5,1029.6 1541.4,1009.5 1542.2,988.9 1543.1,970.9 1543.9,958.2 1544.8,952.8 1545.6,955.5 1546.5,965.9 1547.3,982.4 1548.2,1002.4 1549.0,1023.0 1549.9,1041.1 1550.7,1053.7 1551.6,1059.2 1552.4,1056.5 1553.3,1046.2 1554.1,1029.7 1555.0,1009.7 1555.8,989.0 1556.7,971.0 1557.5,958.3 1558.4,952.8 1559.2,955.5 1560.1,965.8 1560.9,982.2 1561.8,1002.3 1562.6,1022.9 1563.5,1040.9 1564.3,1053.7 1565.2,1059.2 1566.0,1056.6 1566.9,1046.3 1567.7,1029.8 1568.6,1009.8 1569.4,989.2 1570.3,971.1 1571.1,958.3 1572.0,952.8 1572.8,955.4 1573.7,965.7 1574.5,982.1 1575.4,1002.1 1576.2,1022.8 1577.1,1040.8 1577.9,1053.6 1578.8,1059.2 1579.6,1056.6 1580.5,1046.4 1581.3,1030.0 1582.2,1009.9 1583.0,989.3 1583.9,971.2 1584.7,958.4 1585.6,952.8 1586.4,955.4 1587.3,965.6 1588.1,982.0 1589.0,1002.0 1589.8,1022.6 1590.7,1040.7 1591.5,1053.6 1592.4,1059.1 1593.2,1056.7 1594.1,1046.5 1594.9,1030.1 1595.8,1010.1 1596.6,989.5 1597.5,971.3 1598.3,958.5 1599.2,952.9 1600.0,955.3 1600.9,965.5 1601.7,981.8 1602.6,1001.8 1603.4,1022.5 1604.3,1040.6 1605.1,1053.5 1606.0,1059.1 1606.8,1056.7 1607.7,1046.6 1608.5,1030.2 1609.4,1010.2 1610.2,989.6 1611.1,971.4 1611.9,958.5 1612.8,952.9 1613.6,955.3 1614.5,965.4 1615.3,981.7 1616.2,1001.7 1617.0,1022.3 1617.9,1040.5 1618.7,1053.4 1619.6,1059.1 1620.4,1056.7 1621.3,1046.7 1622.1,1030.4 1623.0,1010.4 1623.8,989.7 1624.7,971.6 1625.5,958.6 1626.4,952.9 1627.2,955.2 1628.1,965.3 1628.9,981.6 1629.8,1001.5 1630.6,1022.2 1631.5,1040.4 1632.3,1053.3 1633.2,1059.1 1634.0,1056.8 1634.9,1046.7 1635.7,1030.5 1636.6,1010.5 1637.4,989.9 1638.3,971.7 1639.1,958.7 1640.0,952.9 1640.8,955.2 1641.7,965.2 1642.5,981.4 1643.4,1001.4 1644.2,1022.1 1645.1,1040.3 1645.9,1053.3 1646.8,1059.1 1647.6,1056.8 1648.5,1046.8 1649.3,1030.6 1650.2,1010.7 1651.0,990.0 1651.9,971.8 1652.7,958.8 1653.6,952.9 1654.4,955.1 1655.3,965.1 1656.1,981.3 1657.0,1001.2 1657.8,1021.9 1658.7,1040.2 1659.5,1053.2 1660.4,1059.1 1661.2,1056.9 1662.1,1046.9 1662.9,1030.8 1663.8,1010.8 1664.6,990.2 1665.5,971.9 1666.3,958.8 1667.2,952.9 1668.0,955.1 1668.9,965.0 1669.7,981.2 1670.6,1001.1 1671.4,1021.8 1672.3,1040.0 1673.1,1053.1 1674.0,1059.1 1674.8,1056.9 1675.7,1047.0 1676.5,1030.9 1677.4,1011.0 1678.2,990.3 1679.1,972.0 1679.9,958.9 1680.8,952.9 1681.6,955.1 1682.5,964.9 1683.3,981.0 1684.2,1000.9 1685.0,1021.6 1685.9,1039.9 1686.7,1053.1 1687.6,1059.1 1688.4,1057.0 1689.3,1047.1 1690.1,1031.0 1691.0,1011.1 1691.8,990.4 1692.7,972.1 1693.5,959.0 1694.4,953.0 1695.2,955.0 1696.1,964.8 1696.9,980.9 1697.8,1000.8 1698.6,1021.5 1699.5,1039.8 1700.3,1053.0 1701.2,1059.0 1702.0,1057.0 1702.9,1047.2 1703.7,1031.2 1704.6,1011.3 1705.4,990.6 1706.3,972.2 1707.1,959.0 1708.0,953.0 1708.8,955.0 1709.7,964.7 1710.5,980.8 1711.4,1000.7 1712.2,1021.3 1713.1,1039.7 1713.9,1052.9 1714.8,1059.0 1715.6,1057.1 1716.5,1047.3 1717.3,1031.3 1718.2,1011.4 1719.0,990.7 1719.9,972.4 1720.7,959.1 1721.6,953.0 1722.4,954.9 1723.3,964.6 1724.1,980.6 1725.0,1000.5 1725.8,1021.2 1726.7,1039.6 1727.5,1052.9 1728.4,1059.0 1729.2,1057.1 1730.1,1047.4 1730.9,1031.4 1731.8,1011.6 1732.6,990.9 1733.5,972.5 1734.3,959.2 1735.2,953.0 1736.0,954.9 1736.9,964.5 1737.7,980.5 1738.6,1000.4 1739.4,1021.1 1740.3,1039.5 1741.1,1052.8 1742.0,1059.0 1742.8,1057.1 1743.7,1047.5 1744.5,1031.5 1745.4,1011.7 1746.2,991.0 1747.1,972.6 1747.9,959.2 1748.8,953.0 1749.6,954.8 1750.5,964.5 1751.3,980.4 1752.2,1000.2 1753.0,1020.9 1753.9,1039.4 1754.7,1052.7 1755.6,1059.0 1756.4,1057.2 1757.3,1047.6 1758.1,1031.7 1759.0,1011.9 1759.8,991.1 1760.7,972.7 1761.5,959.3 1762.4,953.0 1763.2,954.8 1764.1,964.4 1764.9,980.3 1765.8,1000.1 1766.6,1020.8 1767.5,1039.2 1768.3,1052.7 1769.2,1059.0 1770.0,1057.2 1770.9,1047.7 1771.7,1031.8 1772.6,1012.0 1773.4,991.3 1774.3,972.8 1775.1,959.4 1776.0,953.0 1776.8,954.8 1777.7,964.3 1778.5,980.1 1779.4,999.9 1780.2,1020.6 1781.1,1039.1 1781.9,1052.6 1782.8,1058.9 1783.6,1057.3 1784.5,1047.8 1785.3,1031.9 1786.2,1012.2 1787.0,991.4 1787.9,972.9 1788.7,959.5 1789.6,953.1 1790.4,954.7 1791.3,964.2 1792.1,980.0 1793.0,999.8 1793.8,1020.5 1794.7,1039.0 1795.5,1052.5 1796.4,1058.9 1797.2,1057.3 1798.1,1047.9 1798.9,1032.1 1799.8,1012.3 1800.6,991.6 1801.5,973.0 1802.3,959.5 1803.2,953.1 1804.0,954.7 1804.9,964.1 1805.7,979.9 1806.6,999.6 1807.4,1020.4 1808.3,1038.9 1809.1,1052.4 1810.0,1058.9 1810.8,1057.3 1811.7,1048.0 1812.5,1032.2 1813.4,1012.4 1814.2,991.7 1815.1,973.2 1815.9,959.6 1816.8,953.1 1817.6,954.6 1818.5,964.0 1819.3,979.7 1820.2,999.5 1821.0,1020.2 1821.9,1038.8 1822.7,1052.4 1823.6,1058.9 1824.4,1057.4 1825.3,1048.0 1826.1,1032.3 1827.0,1012.6 1827.8,991.9 1828.7,973.3 1829.5,959.7 1830.4,953.1 1831.2,954.6 1832.1,963.9 1832.9,979.6 1833.8,999.3 1834.6,1020.1 1835.5,1038.7 1836.3,1052.3 1837.2,1058.9 1838.0,1057.4 1838.9,1048.1 1839.7,1032.5 1840.6,1012.7 1841.4,992.0 1842.3,973.4 1843.1,959.7 1844.0,953.1 1844.8,954.6 1845.7,963.8 1846.5,979.5 1847.4,999.2 1848.2,1019.9 1849.1,1038.5 1849.9,1052.2 1850.8,1058.9 1851.6,1057.5 1852.5,1048.2 1853.3,1032.6 1854.2,1012.9 1855.0,992.1 1855.9,973.5 1856.7,959.8 1857.6,953.2 1858.4,954.5 1859.3,963.7 1860.1,979.4 1861.0,999.0 1861.8,1019.8 1862.7,1038.4 1863.5,1052.1 1864.4,1058.8 1865.2,1057.5 1866.1,1048.3 1866.9,1032.7 1867.8,1013.0 1868.6,992.3 1869.5,973.6 1870.3,959.9 1871.2,953.2 1872.0,954.5 1872.9,963.6 1873.7,979.2 1874.6,998.9 1875.4,1019.6 1876.3,1038.3 1877.1,1052.1 1878.0,1058.8 1878.8,1057.5 1879.7,1048.4 1880.5,1032.8 1881.4,1013.2 1882.2,992.4 1883.1,973.7 1883.9,960.0 1884.8,953.2 1885.6,954.4 1886.5,963.5 1887.3,979.1 1888.2,998.7 1889.0,1019.5 1889.9,1038.2 1890.7,1052.0 1891.6,1058.8 1892.4,1057.6 1893.3,1048.5 1894.1,1033.0 1895.0,1013.3 1895.8,992.6 1896.7,973.9 1897.5,960.0 1898.4,953.2 1899.2,954.4 1900.1,963.5 1900.9,979.0 1901.8,998.6 1902.6,1019.4 1903.5,1038.1 1904.3,1051.9 1905.2,1058.8 1906.0,1057.6 1906.9,1048.6 1907.7,1033.1 1908.6,1013.5 1909.4,992.7 1910.3,974.0 1911.1,960.1 1912.0,953.2 1912.8,954.4 1913.7,963.4 1914.5,978.8 1915.4,998.5 1916.2,1019.2 1917.1,1038.0 1917.9,1051.8 1918.8,1058.8 1919.6,1057.6 1920.5,1048.7 1921.3,1033.2 1922.2,1013.6 1923.0,992.9 1923.9,974.1 1924.7,960.2 1925.6,953.3 1926.4,954.3 1927.3,963.3 1928.1,978.7 1929.0,998.3 1929.8,1019.1 1930.7,1037.8 1931.5,1051.8 1932.4,1058.7 1933.2,1057.7 1934.1,1048.8 1934.9,1033.3 1935.8,1013.8 1936.6,993.0 1937.5,974.2 1938.3,960.3 1939.2,953.3 1940.0,954.3 1940.9,963.2 1941.7,978.6 1942.6,998.2 1943.4,1018.9 1944.3,1037.7 1945.1,1051.7 1946.0,1058.7 1946.8,1057.7 1947.7,1048.9 1948.5,1033.5 1949.4,1013.9 1950.2,993.1 1951.1,974.3 1951.9,960.3 1952.8,953.3 1953.6,954.3 1954.5,963.1 1955.3,978.5 1956.2,998.0 1957.0,1018.8 1957.9,1037.6 1958.7,1051.6 1959.6,1058.7 1960.4,1057.8 1961.3,1048.9 1962.1,1033.6 1963.0,1014.1 1963.8,993.3 1964.7,974.5 1965.5,960.4 1966.4,953.3 1967.2,954.2 1968.1,963.0 1968.9,978.3 1969.8,997.9 1970.6,1018.6 1971.5,1037.5 1972.3,1051.5 1973.2,1058.7 1974.0,1057.8 1974.9,1049.0 1975.7,1033.7 1976.6,1014.2 1977.4,993.4 1978.3,974.6 1979.1,960.5 1980.0,953.3 1980.8,954.2 1981.7,962.9 1982.5,978.2 1983.4,997.7 1984.2,1018.5 1985.1,1037.4 1985.9,1051.5 1986.8,1058.6 1987.6,1057.8 1988.5,1049.1 1989.3,1033.8 1990.2,1014.3 1991.0,993.6 1991.9,974.7 1992.7,960.6 1993.6,953.4 1994.4,954.2 1995.3,962.8 1996.1,978.1 1997.0,997.6 1997.8,1018.4 1998.7,1037.2 1999.5,1051.4 2000.4,1058.6 2001.2,1057.9 2002.1,1049.2 2002.9,1034.0 2003.8,1014.5 2004.6,993.7 2005.5,974.8 2006.3,960.7 2007.2,953.4 2008.0,954.1 2008.9,962.8 2009.7,978.0 2010.6,997.4 2011.4,1018.2 2012.3,1037.1 2013.1,1051.3 2014.0,1058.6 2014.8,1057.9 2015.7,1049.3 2016.5,1034.1 2017.4,1014.6 2018.2,993.9 2019.1,974.9 2019.9,960.7 2020.8,953.4 2021.6,954.1 2022.5,962.7 2023.3,977.8 2024.2,997.3 2025.0,1018.1 2025.9,1037.0 2026.7,1051.2 2027.6,1058.6 2028.4,1057.9 2029.3,1049.4 2030.1,1034.2 2031.0,1014.8 2031.8,994.0 2032.7,975.1 2033.5,960.8 2034.4,953.4 2035.2,954.1 2036.1,962.6 2036.9,977.7 2037.8,997.1 2038.6,1017.9 2039.5,1036.9 2040.3,1051.2 2041.2,1058.6 2042.0,1058.0 2042.9,1049.5 2043.7,1034.4 2044.6,1014.9 2045.4,994.1 2046.3,975.2 2047.1,960.9 2048.0,953.5 2048.8,954.0 2049.7,962.5 2050.5,977.6 2051.4,997.0 2052.2,1017.8 2053.1,1036.8 2053.9,1051.1 2054.8,1058.5 2055.6,1058.0 2056.5,1049.5 2057.3,1034.5 2058.2,1015.1 2059.0,994.3 2059.9,975.3 2060.7,961.0 2061.6,953.5 2062.4,954.0 2063.3,962.4 2064.1,977.5 2065.0,996.9 2065.8,1017.6 2066.7,1036.6 2067.5,1051.0 2068.4,1058.5 2069.2,1058.0 2070.1,1049.6 2070.9,1034.6 2071.8,1015.2 2072.6,994.4" fill="none" stroke="#787878" stroke-width="2.1" stroke-linejoin="round"/>
<polyline points="233.8,1221.8 234.3,1195.1 234.8,1223.6 235.3,1216.1 235.8,1187.2 236.3,1189.1 236.8,1180.2 237.3,1209.0 237.8,1178.3 238.3,1196.4 238.8,1176.8 239.3,1174.6 239.8,1199.7 240.3,1217.9 240.8,1209.0 241.3,1205.0 241.8,1223.6 242.3,1203.6 242.8,1200.5 243.3,1212.0 243.8,1203.5 244.3,1180.4 244.8,1219.3 245.3,1193.7 245.8,1208.5 246.3,1187.9 246.8,1191.2 247.3,1156.2 247.8,1201.4 248.3,1190.6 248.8,1151.3 249.3,1149.3 249.8,1147.5 250.3,1189.5 250.8,1164.2 251.3,1175.0 251.8,1179.3 252.3,1192.2 252.8,1184.0 253.3,1202.0 253.8,1177.6 254.3,1193.7 254.8,1192.7 255.3,1193.0 255.8,1182.0 256.3,1170.4 256.8,1181.4 257.3,1164.5 257.8,1191.0 258.3,1176.3 258.8,1169.7 259.3,1176.2 259.8,1184.6 260.3,1189.3 260.8,1201.6 261.3,1211.6 261.8,1213.3 262.3,1216.7 262.8,1241.4 263.3,1206.1 263.8,1217.8 264.3,1241.7 264.8,1179.5 265.3,1193.8 265.8,1201.1 266.3,1199.8 266.8,1201.4 267.3,1188.4 267.8,1194.7 268.3,1187.1 268.8,1195.9 269.3,1157.3 269.8,1171.2 270.3,1178.7 270.8,1153.6 271.3,1149.0 271.8,1172.9 272.3,1154.7 272.8,1180.6 273.3,1198.4 273.8,1204.4 274.3,1215.2 274.8,1206.1 275.3,1183.5 275.8,1194.7 276.3,1195.8 276.8,1180.2 277.3,1187.9 277.8,1204.8 278.3,1187.9 278.8,1209.2 279.3,1226.1 279.8,1193.9 280.3,1207.9 280.8,1210.5 281.3,1239.8 281.8,1227.5 282.3,1235.9 282.8,1211.7 283.3,1219.9 283.8,1220.9 284.3,1199.7 284.8,1246.0 285.3,1238.3 285.8,1201.4 286.3,1226.9 286.8,1207.4 287.3,1208.5 287.8,1203.5 288.3,1176.7 288.8,1192.7 289.3,1215.5 289.8,1188.1 290.3,1181.7 290.8,1176.0 291.3,1173.5 291.8,1191.6 292.3,1207.7 292.8,1191.6 293.3,1193.3 293.8,1220.1 294.3,1186.7 294.8,1183.5 295.3,1201.2 295.8,1204.7 296.3,1185.3 296.8,1184.6 297.3,1203.9 297.8,1197.8 298.3,1170.2 298.8,1180.1 299.3,1174.1 299.8,1189.5 300.3,1186.0 300.8,1195.1 301.3,1202.4 301.8,1230.7 302.3,1239.4 302.8,1210.6 303.3,1221.1 303.8,1187.6 304.3,1193.0 304.8,1200.2 305.3,1211.1 305.8,1185.7 306.3,1194.1 306.8,1199.5 307.3,1173.8 307.8,1195.2 308.3,1184.3 308.8,1199.7 309.3,1180.4 309.8,1172.7 310.3,1204.0 310.8,1213.1 311.3,1206.7 311.8,1228.1 312.3,1205.7 312.8,1189.9 313.3,1191.3 313.8,1150.9 314.3,1161.2 314.8,1174.1 315.3,1194.9 315.8,1190.0 316.3,1202.3 316.8,1190.1 317.3,1202.9 317.8,1214.8 318.3,1172.6 318.8,1197.9 319.3,1158.3 319.8,1168.0 320.3,1173.5 320.8,1198.0 321.3,1182.7 321.8,1186.3 322.3,1227.5 322.8,1228.9 323.3,1223.7 323.8,1235.6 324.3,1209.0 324.8,1209.1 325.3,1218.4 325.8,1210.8 326.3,1227.9 326.8,1190.6 327.3,1203.1 327.8,1178.9 328.3,1211.3 328.8,1189.2 329.3,1203.5 329.8,1217.6 330.3,1196.1 330.8,1198.6 331.3,1198.5 331.8,1193.9 332.3,1193.0 332.8,1206.7 333.3,1196.5 333.8,1195.1 334.3,1191.1 334.8,1204.5 335.3,1197.2 335.8,1188.6 336.3,1204.7 336.8,1199.6 337.3,1185.8 337.8,1218.7 338.3,1196.9 338.8,1170.2 339.3,1200.4 339.8,1195.2 340.3,1178.6 340.8,1234.9 341.3,1220.9 341.8,1228.1 342.3,1212.9 342.8,1202.0 343.3,1176.8 343.8,1212.3 344.3,1199.2 344.8,1192.8 345.3,1202.2 345.8,1201.0 346.3,1217.8 346.8,1210.1 347.3,1214.4 347.8,1184.7 348.3,1207.1 348.8,1211.5 349.3,1211.0 349.8,1178.2 350.3,1182.9 350.8,1213.4 351.3,1186.6 351.8,1206.0 352.3,1220.2 352.8,1192.0 353.3,1210.5 353.8,1178.0 354.3,1191.9 354.8,1186.6 355.3,1189.9 355.8,1207.0 356.3,1221.6 356.8,1182.2 357.3,1183.5 357.8,1197.5 358.3,1161.2 358.8,1171.9 359.3,1160.0 359.8,1140.9 360.3,1154.0 360.8,1123.0 361.3,1168.8 361.8,1142.8 362.3,1170.7 362.8,1191.8 363.3,1211.4 363.8,1234.6 364.3,1222.8 364.8,1215.3 365.3,1226.8 365.8,1236.4 366.3,1200.7 366.8,1204.9 367.3,1214.9 367.8,1204.5 368.3,1187.1 368.8,1223.0 369.3,1223.6 369.8,1184.1 370.3,1202.5 370.8,1204.6 371.3,1210.5 371.8,1209.0 372.3,1201.7 372.8,1195.2 373.3,1204.3 373.8,1209.6 374.3,1188.5 374.8,1189.7 375.3,1202.1 375.8,1189.8 376.3,1206.1 376.8,1206.4 377.3,1212.3 377.8,1200.4 378.3,1197.1 378.8,1199.6 379.3,1201.2 379.8,1193.6 380.3,1198.7 380.8,1203.9 381.3,1205.0 381.8,1207.7 382.3,1175.0 382.8,1175.0 383.3,1151.4 383.8,1194.8 384.3,1149.3 384.8,1147.6 385.3,1146.2 385.8,1111.0 386.3,1136.6 386.8,1126.9 387.3,1096.5 387.8,1128.7 388.3,1143.5 388.8,1096.5 389.3,1133.5 389.8,1121.2 390.3,1121.9 390.8,1129.1 391.3,1151.2 391.8,1129.4 392.3,1155.4 392.8,1138.1 393.3,1162.1 393.8,1139.0 394.3,1154.0 394.8,1186.2 395.3,1170.9 395.8,1164.4 396.3,1152.4 396.8,1158.5 397.3,1175.0 397.8,1187.7 398.3,1183.7 398.8,1188.3 399.3,1186.1 399.8,1207.6 400.3,1192.9 400.8,1194.3 401.3,1211.0 401.8,1203.7 402.3,1201.8 402.8,1201.1 403.3,1205.8 403.8,1214.8 404.3,1213.9 404.8,1202.4 405.3,1217.0 405.8,1217.3 406.3,1213.9 406.8,1226.3 407.3,1219.2 407.8,1219.6 408.3,1227.7 408.8,1230.6 409.3,1211.7 409.8,1218.1 410.3,1203.2 410.8,1224.4 411.3,1197.1 411.8,1207.1 412.3,1181.6 412.8,1192.2 413.3,1201.1 413.8,1156.6 414.3,1172.3 414.8,1183.5 415.3,1176.2 415.8,1168.1 416.3,1202.9 416.8,1181.6 417.3,1159.9 417.8,1197.3 418.3,1156.7 418.8,1196.5 419.3,1164.4 419.8,1165.1 420.3,1178.1 420.8,1154.2 421.3,1129.0 421.8,1123.5 422.3,1165.6 422.8,1165.8 423.3,1152.9 423.8,1184.4 424.3,1190.0 424.8,1199.4 425.3,1172.5 425.8,1190.9 426.3,1202.0 426.8,1196.0 427.3,1195.7 427.8,1169.4 428.3,1192.7 428.8,1201.4 429.3,1222.8 429.8,1207.2 430.3,1219.8 430.8,1228.2 431.3,1238.2 431.8,1229.7 432.3,1244.0 432.8,1235.0 433.3,1247.2 433.8,1238.9 434.3,1242.5 434.8,1233.6 435.3,1222.9 435.8,1237.3 436.3,1226.8 436.8,1215.5 437.3,1217.0 437.8,1220.3 438.3,1201.8 438.8,1207.7 439.3,1212.3 439.8,1209.2 440.3,1196.8 440.8,1176.4 441.3,1203.7 441.8,1188.1 442.3,1179.1 442.8,1171.4 443.3,1173.8 443.8,1161.8 444.3,1150.6 444.8,1153.0 445.3,1155.1 445.8,1157.1 446.3,1150.4 446.8,1175.8 447.3,1146.1 447.8,1180.2 448.3,1161.6 448.8,1184.0 449.3,1198.6 449.8,1183.7 450.3,1171.2 450.8,1182.2 451.3,1186.1 451.8,1168.3 452.3,1182.4 452.8,1191.8 453.3,1188.8 453.8,1198.9 454.3,1211.0 454.8,1215.1 455.3,1217.2 455.8,1216.0 456.3,1212.3 456.8,1219.7 457.3,1225.6 457.8,1232.3 458.3,1238.1 458.8,1232.0 459.3,1237.3 459.8,1236.8 460.3,1229.1 460.8,1232.7 461.3,1233.3 461.8,1225.6 462.3,1234.9 462.8,1205.4 463.3,1212.6 463.8,1198.6 464.3,1219.0 464.8,1228.6 465.3,1201.5 465.8,1218.0 466.3,1219.5 466.8,1209.0 467.3,1212.6 467.8,1188.1 468.3,1211.7 468.8,1206.5 469.3,1202.0 469.8,1195.1 470.3,1205.2 470.8,1190.6 471.3,1193.1 471.8,1178.6 472.3,1155.4 472.8,1170.9 473.3,1169.6 473.8,1174.8 474.3,1154.1 474.8,1165.3 475.3,1173.0 475.8,1165.5 476.3,1177.3 476.8,1185.2 477.3,1149.5 477.8,1141.0 478.3,1178.7 478.8,1194.3 479.3,1196.6 479.8,1203.8 480.3,1198.4 480.8,1205.8 481.3,1227.7 481.8,1217.3 482.3,1212.1 482.8,1219.6 483.3,1241.6 483.8,1242.1 484.3,1227.1 484.8,1231.0 485.3,1239.2 485.8,1234.0 486.3,1246.8 486.8,1236.3 487.3,1227.4 487.8,1238.8 488.3,1225.6 488.8,1229.4 489.3,1227.3 489.8,1223.6 490.3,1224.4 490.8,1211.6 491.3,1197.2 491.8,1192.4 492.3,1195.7 492.8,1198.9 493.3,1205.1 493.8,1204.2 494.3,1208.1 494.8,1202.6 495.3,1189.2 495.8,1186.2 496.3,1166.3 496.8,1180.8 497.3,1183.8 497.8,1181.5 498.3,1173.7 498.8,1173.6 499.3,1189.6 499.8,1175.7 500.3,1181.5 500.8,1173.0 501.3,1163.9 501.8,1181.1 502.3,1157.5 502.8,1164.7 503.3,1161.2 503.8,1164.1 504.3,1195.6 504.8,1201.5 505.3,1183.5 505.8,1193.4 506.3,1204.0 506.8,1205.1 507.3,1216.4 507.8,1199.9 508.3,1213.3 508.8,1228.4 509.3,1239.4 509.8,1229.4 510.3,1223.5 510.8,1229.4 511.3,1227.5 511.8,1225.7 512.3,1243.2 512.8,1226.9 513.3,1230.5 513.8,1241.8 514.3,1237.1 514.8,1233.1 515.3,1230.9 515.8,1241.7 516.3,1251.5 516.8,1245.3 517.3,1246.6 517.8,1235.6 518.3,1233.7 518.8,1224.8 519.3,1225.7 519.8,1228.7 520.3,1203.4 520.8,1207.5 521.3,1204.3 521.8,1193.3 522.3,1193.8 522.8,1202.5 523.3,1207.6 523.8,1195.2 524.3,1188.7 524.8,1170.7 525.3,1194.9 525.8,1177.6 526.3,1172.0 526.8,1155.7 527.3,1156.7 527.8,1140.5 528.3,1148.7 528.8,1152.5 529.3,1150.1 529.8,1154.7 530.3,1144.6 530.8,1168.7 531.3,1158.8 531.8,1131.7 532.3,1162.4 532.8,1149.6 533.3,1148.5 533.8,1168.4 534.3,1190.7 534.8,1172.5 535.3,1194.9 535.8,1220.5 536.3,1204.6 536.8,1189.5 537.3,1194.2 537.8,1194.4 538.3,1201.1 538.8,1217.4 539.3,1214.4 539.8,1201.4 540.3,1229.2 540.8,1227.3 541.3,1247.0 541.8,1238.5 542.3,1246.6 542.8,1261.4 543.3,1242.0 543.8,1245.0 544.3,1247.8 544.8,1250.4 545.3,1248.8 545.8,1253.3 546.3,1246.6 546.8,1238.6 547.3,1235.5 547.8,1239.2 548.3,1227.9 548.8,1223.8 549.3,1222.0 549.8,1223.1 550.3,1223.7 550.8,1216.9 551.3,1207.8 551.8,1203.0 552.3,1208.6 552.8,1200.8 553.3,1183.4 553.8,1185.4 554.3,1180.2 554.8,1172.8 555.3,1161.9 555.8,1149.4 556.3,1152.8 556.8,1140.2 557.3,1194.5 557.8,1190.8 558.3,1165.2 558.8,1223.4 559.3,1215.6 559.8,1161.3 560.3,1227.1 560.8,1206.9 561.3,1226.9 561.8,1179.5 562.3,1211.8 562.8,1212.8 563.3,1208.5 563.8,1204.4 564.3,1213.0 564.8,1177.7 565.3,1185.6 565.8,1190.5 566.3,1207.6 566.8,1213.8 567.3,1229.1 567.8,1231.8 568.3,1233.0 568.8,1229.1 569.3,1233.3 569.8,1245.5 570.3,1244.5 570.8,1240.8 571.3,1240.5 571.8,1257.1 572.3,1246.9 572.8,1249.5 573.3,1248.7 573.8,1240.4 574.3,1241.8 574.8,1231.6 575.3,1239.1 575.8,1234.3 576.3,1223.2 576.8,1229.8 577.3,1215.9 577.8,1222.1 578.3,1204.2 578.8,1201.4 579.3,1199.8 579.8,1192.3 580.3,1194.0 580.8,1186.1 581.3,1193.2 581.8,1184.6 582.3,1182.5 582.8,1161.6 583.3,1184.8 583.8,1172.9 584.3,1153.3 584.8,1171.9 585.3,1179.5 585.8,1191.8 586.3,1158.1 586.8,1212.9 587.3,1197.7 587.8,1243.2 588.3,1219.5 588.8,1234.5 589.3,1223.2 589.8,1213.2 590.3,1237.4 590.8,1231.6 591.3,1236.5 591.8,1229.9 592.3,1219.2 592.8,1215.6 593.3,1232.3 593.8,1239.7 594.3,1244.5 594.8,1258.1 595.3,1259.0 595.8,1257.8 596.3,1258.8 596.8,1256.6 597.3,1256.0 597.8,1255.4 598.3,1253.5 598.8,1244.6 599.3,1238.1 599.8,1246.2 600.3,1238.4 600.8,1240.1 601.3,1224.8 601.8,1227.4 602.3,1224.9 602.8,1211.9 603.3,1212.4 603.8,1216.0 604.3,1216.7 604.8,1218.8 605.3,1201.2 605.8,1193.6 606.3,1201.3 606.8,1197.5 607.3,1186.2 607.8,1170.2 608.3,1185.8 608.8,1199.4 609.3,1207.4 609.8,1196.7 610.3,1212.0 610.8,1219.2 611.3,1196.7 611.8,1177.8 612.3,1210.8 612.8,1215.2 613.3,1211.7 613.8,1225.9 614.3,1210.8 614.8,1218.2 615.3,1217.7 615.8,1229.8 616.3,1244.8 616.8,1233.6 617.3,1259.4 617.8,1262.2 618.3,1260.8 618.8,1262.4 619.3,1272.1 619.8,1260.0 620.3,1261.1 620.8,1256.1 621.3,1265.6 621.8,1271.6 622.3,1270.2 622.8,1271.8 623.3,1271.3 623.8,1271.0 624.3,1265.8 624.8,1268.6 625.3,1263.0 625.8,1258.3 626.3,1256.2 626.8,1252.6 627.3,1254.0 627.8,1251.0 628.3,1238.6 628.8,1243.7 629.3,1240.5 629.8,1232.4 630.3,1226.7 630.8,1228.4 631.3,1225.3 631.8,1227.1 632.3,1217.7 632.8,1201.8 633.3,1208.5 633.8,1191.8 634.3,1203.7 634.8,1184.9 635.3,1184.2 635.8,1178.5 636.3,1167.8 636.8,1204.1 637.3,1206.0 637.8,1211.0 638.3,1214.7 638.8,1194.7 639.3,1214.0 639.8,1215.9 640.3,1210.9 640.8,1228.7 641.3,1211.5 641.8,1210.4 642.3,1207.4 642.8,1200.6 643.3,1230.9 643.8,1244.1 644.3,1240.6 644.8,1238.9 645.3,1238.3 645.8,1257.7 646.3,1267.5 646.8,1261.6 647.3,1267.5 647.8,1270.4 648.3,1266.7 648.8,1256.5 649.3,1266.2 649.8,1265.1 650.3,1253.5 650.8,1261.0 651.3,1258.6 651.8,1260.1 652.3,1259.9 652.8,1252.5 653.3,1246.8 653.8,1254.6 654.3,1248.9 654.8,1250.6 655.3,1234.9 655.8,1241.3 656.3,1239.9 656.8,1233.3 657.3,1213.9 657.8,1209.2 658.3,1200.3 658.8,1202.9 659.3,1199.9 659.8,1190.5 660.3,1175.8 660.8,1187.6 661.3,1171.2 661.8,1173.7 662.3,1163.3 662.8,1171.2 663.3,1162.7 663.8,1140.7 664.3,1160.5 664.8,1192.1 665.3,1152.1 665.8,1177.8 666.3,1198.1 666.8,1203.7 667.3,1193.6 667.8,1165.4 668.3,1170.2 668.8,1198.9 669.3,1206.2 669.8,1234.3 670.3,1200.2 670.8,1231.0 671.3,1227.6 671.8,1196.5 672.3,1205.8 672.8,1215.6 673.3,1209.0 673.8,1216.2 674.3,1228.7 674.8,1224.0 675.3,1242.5 675.8,1238.3 676.3,1243.7 676.8,1255.9 677.3,1250.9 677.8,1259.3 678.3,1268.2 678.8,1257.7 679.3,1255.6 679.8,1256.9 680.3,1251.2 680.8,1253.1 681.3,1243.7 681.8,1248.1 682.3,1241.5 682.8,1237.2 683.3,1243.7 683.8,1227.7 684.3,1235.6 684.8,1226.1 685.3,1226.8 685.8,1209.5 686.3,1218.8 686.8,1217.4 687.3,1204.3 687.8,1201.4 688.3,1212.6 688.8,1194.5 689.3,1183.3 689.8,1174.1 690.3,1175.6 690.8,1168.2 691.3,1162.3 691.8,1186.2 692.3,1152.7 692.8,1173.7 693.3,1198.1 693.8,1163.6 694.3,1206.0 694.8,1226.5 695.3,1182.1 695.8,1188.0 696.3,1187.2 696.8,1171.8 697.3,1199.9 697.8,1170.2 698.3,1204.8 698.8,1223.3 699.3,1193.6 699.8,1213.9 700.3,1203.1 700.8,1236.0 701.3,1228.2 701.8,1239.4 702.3,1248.3 702.8,1256.5 703.3,1251.6 703.8,1256.1 704.3,1251.8 704.8,1255.3 705.3,1247.3 705.8,1254.7 706.3,1246.1 706.8,1256.0 707.3,1270.0 707.8,1264.2 708.3,1259.2 708.8,1260.0 709.3,1253.1 709.8,1246.6 710.3,1244.2 710.8,1243.3 711.3,1236.1 711.8,1228.9 712.3,1219.6 712.8,1214.4 713.3,1223.7 713.8,1214.8 714.3,1203.0 714.8,1190.4 715.3,1185.9 715.8,1201.5 716.3,1173.4 716.8,1177.1 717.3,1176.7 717.8,1172.9 718.3,1171.7 718.8,1161.2 719.3,1179.5 719.8,1236.4 720.3,1198.7 720.8,1228.7 721.3,1190.3 721.8,1215.6 722.3,1224.4 722.8,1237.3 723.3,1209.3 723.8,1232.6 724.3,1229.7 724.8,1216.5 725.3,1231.9 725.8,1220.7 726.3,1226.4 726.8,1238.7 727.3,1227.4 727.8,1248.0 728.3,1245.1 728.8,1244.7 729.3,1254.2 729.8,1263.4 730.3,1258.4 730.8,1269.9 731.3,1261.0 731.8,1263.8 732.3,1277.7 732.8,1275.3 733.3,1278.6 733.8,1275.5 734.3,1281.3 734.8,1281.9 735.3,1280.8 735.8,1276.9 736.3,1275.0 736.8,1267.5 737.3,1261.7 737.8,1254.7 738.3,1256.0 738.8,1243.5 739.3,1235.2 739.8,1228.1 740.3,1223.1 740.8,1211.4 741.3,1209.2 741.8,1200.7 742.3,1195.1 742.8,1187.2 743.3,1190.1 743.8,1181.9 744.3,1181.1 744.8,1175.4 745.3,1169.1 745.8,1113.9 746.3,1140.9 746.8,1139.1 747.3,1175.2 747.8,1145.4 748.3,1172.8 748.8,1190.3 749.3,1196.3 749.8,1220.1 750.3,1201.8 750.8,1225.8 751.3,1197.2 751.8,1198.0 752.3,1237.7 752.8,1229.4 753.3,1228.9 753.8,1225.3 754.3,1231.4 754.8,1221.8 755.3,1247.0 755.8,1242.5 756.3,1258.8 756.8,1255.9 757.3,1246.5 757.8,1251.7 758.3,1265.0 758.8,1262.1 759.3,1265.4 759.8,1271.9 760.3,1273.9 760.8,1277.1 761.3,1281.2 761.8,1283.9 762.3,1285.8 762.8,1282.0 763.3,1281.0 763.8,1277.5 764.3,1273.2 764.8,1267.2 765.3,1259.7 765.8,1254.4 766.3,1248.4 766.8,1241.8 767.3,1240.6 767.8,1234.1 768.3,1241.0 768.8,1230.8 769.3,1220.3 769.8,1205.2 770.3,1209.5 770.8,1199.1 771.3,1185.8 771.8,1177.2 772.3,1164.8 772.8,1181.4 773.3,1181.5 773.8,1225.6 774.3,1199.3 774.8,1199.8 775.3,1224.5 775.8,1203.5 776.3,1205.6 776.8,1201.4 777.3,1202.2 777.8,1233.8 778.3,1228.9 778.8,1239.7 779.3,1219.4 779.8,1227.5 780.3,1223.5 780.8,1245.5 781.3,1227.6 781.8,1247.8 782.3,1254.2 782.8,1259.0 783.3,1245.7 783.8,1262.7 784.3,1256.0 784.8,1258.9 785.3,1258.3 785.8,1270.5 786.3,1273.3 786.8,1267.6 787.3,1270.5 787.8,1275.0 788.3,1282.9 788.8,1283.1 789.3,1282.4 789.8,1278.2 790.3,1275.7 790.8,1274.6 791.3,1271.9 791.8,1262.8 792.3,1257.0 792.8,1252.6 793.3,1241.6 793.8,1246.5 794.3,1231.3 794.8,1235.5 795.3,1213.7 795.8,1206.8 796.3,1206.9 796.8,1190.1 797.3,1191.1 797.8,1176.0 798.3,1156.8 798.8,1165.4 799.3,1161.5 799.8,1130.3 800.3,1198.4 800.8,1178.0 801.3,1186.5 801.8,1133.8 802.3,1151.0 802.8,1153.7 803.3,1179.6 803.8,1143.0 804.3,1160.6 804.8,1154.1 805.3,1187.4 805.8,1201.6 806.3,1180.6 806.8,1202.8 807.3,1223.8 807.8,1241.1 808.3,1233.6 808.8,1227.5 809.3,1222.0 809.8,1227.8 810.3,1234.0 810.8,1243.6 811.3,1245.8 811.8,1259.8 812.3,1255.4 812.8,1253.3 813.3,1268.7 813.8,1270.0 814.3,1270.8 814.8,1272.9 815.3,1275.0 815.8,1281.0 816.3,1286.8 816.8,1283.7 817.3,1280.6 817.8,1279.1 818.3,1275.5 818.8,1272.2 819.3,1268.6 819.8,1266.9 820.3,1257.6 820.8,1258.6 821.3,1247.6 821.8,1248.1 822.3,1240.4 822.8,1235.2 823.3,1234.1 823.8,1225.2 824.3,1227.2 824.8,1222.0 825.3,1212.4 825.8,1201.6 826.3,1192.9 826.8,1187.6 827.3,1174.9 827.8,1182.9 828.3,1218.4 828.8,1208.5 829.3,1216.4 829.8,1199.2 830.3,1204.1 830.8,1212.2 831.3,1223.3 831.8,1215.2 832.3,1249.1 832.8,1229.1 833.3,1245.6 833.8,1216.1 834.3,1233.0 834.8,1237.4 835.3,1241.1 835.8,1249.3 836.3,1251.6 836.8,1253.6 837.3,1242.2 837.8,1250.6 838.3,1245.9 838.8,1261.1 839.3,1262.0 839.8,1262.8 840.3,1263.3 840.8,1267.2 841.3,1277.4 841.8,1279.2 842.3,1277.2 842.8,1282.5 843.3,1279.3 843.8,1280.4 844.3,1279.1 844.8,1275.0 845.3,1271.2 845.8,1268.2 846.3,1267.3 846.8,1256.5 847.3,1253.2 847.8,1248.8 848.3,1242.9 848.8,1242.2 849.3,1242.5 849.8,1225.1 850.3,1227.4 850.8,1219.7 851.3,1217.4 851.8,1199.7 852.3,1193.0 852.8,1187.2 853.3,1200.3 853.8,1192.4 854.3,1185.9 854.8,1151.4 855.3,1183.0 855.8,1182.4 856.3,1178.8 856.8,1192.5 857.3,1219.4 857.8,1216.7 858.3,1208.3 858.8,1215.0 859.3,1203.2 859.8,1214.4 860.3,1219.3 860.8,1230.6 861.3,1228.6 861.8,1232.7 862.3,1236.6 862.8,1234.5 863.3,1258.1 863.8,1248.0 864.3,1249.4 864.8,1262.9 865.3,1263.5 865.8,1249.6 866.3,1267.1 866.8,1270.6 867.3,1277.0 867.8,1274.8 868.3,1273.3 868.8,1267.6 869.3,1270.7 869.8,1276.1 870.3,1278.7 870.8,1277.5 871.3,1276.8 871.8,1274.8 872.3,1273.1 872.8,1270.6 873.3,1265.8 873.8,1259.3 874.3,1261.3 874.8,1258.0 875.3,1248.4 875.8,1248.3 876.3,1242.7 876.8,1241.1 877.3,1238.4 877.8,1230.1 878.3,1233.1 878.8,1230.4 879.3,1213.5 879.8,1223.5 880.3,1218.4 880.8,1214.7 881.3,1212.9 881.8,1213.7 882.3,1202.9 882.8,1202.3 883.3,1203.4 883.8,1218.8 884.3,1219.6 884.8,1228.6 885.3,1198.7 885.8,1241.1 886.3,1242.9 886.8,1227.5 887.3,1238.8 887.8,1240.1 888.3,1241.1 888.8,1239.4 889.3,1242.7 889.8,1241.2 890.3,1250.8 890.8,1252.7 891.3,1257.7 891.8,1255.7 892.3,1264.7 892.8,1268.6 893.3,1273.8 893.8,1269.9 894.3,1276.2 894.8,1278.9 895.3,1279.0 895.8,1279.0 896.3,1281.3 896.8,1284.3 897.3,1287.6 897.8,1288.5 898.3,1287.6 898.8,1285.5 899.3,1284.1 899.8,1281.1 900.3,1276.5 900.8,1272.9 901.3,1270.2 901.8,1268.0 902.3,1260.0 902.8,1256.0 903.3,1255.3 903.8,1245.0 904.3,1244.1 904.8,1240.7 905.3,1235.7 905.8,1229.7 906.3,1231.8 906.8,1228.1 907.3,1228.4 907.8,1219.2 908.3,1226.2 908.8,1202.2 909.3,1225.8 909.8,1232.0 910.3,1245.5 910.8,1231.7 911.3,1245.7 911.8,1236.1 912.3,1247.7 912.8,1254.6 913.3,1233.7 913.8,1241.3 914.3,1233.4 914.8,1254.0 915.3,1260.8 915.8,1255.3 916.3,1248.4 916.8,1258.5 917.3,1262.6 917.8,1262.0 918.3,1261.9 918.8,1250.4 919.3,1258.5 919.8,1269.8 920.3,1259.8 920.8,1270.8 921.3,1275.2 921.8,1273.8 922.3,1277.7 922.8,1276.1 923.3,1275.8 923.8,1279.6 924.3,1280.1 924.8,1281.3 925.3,1282.3 925.8,1279.3 926.3,1277.3 926.8,1274.8 927.3,1270.4 927.8,1270.4 928.3,1262.7 928.8,1256.9 929.3,1250.8 929.8,1243.9 930.3,1245.9 930.8,1236.0 931.3,1225.2 931.8,1222.5 932.3,1219.7 932.8,1212.9 933.3,1216.5 933.8,1197.0 934.3,1202.5 934.8,1194.6 935.3,1179.3 935.8,1183.0 936.3,1179.2 936.8,1194.7 937.3,1186.6 937.8,1206.1 938.3,1181.0 938.8,1191.5 939.3,1219.7 939.8,1226.7 940.3,1219.2 940.8,1218.3 941.3,1241.3 941.8,1207.7 942.3,1217.7 942.8,1232.0 943.3,1233.1 943.8,1221.4 944.3,1219.8 944.8,1253.7 945.3,1247.1 945.8,1242.5 946.3,1250.3 946.8,1256.0 947.3,1240.1 947.8,1259.7 948.3,1261.4 948.8,1253.5 949.3,1269.8 949.8,1262.9 950.3,1275.9 950.8,1275.0 951.3,1280.9 951.8,1275.7 952.3,1278.7 952.8,1278.3 953.3,1273.4 953.8,1270.4 954.3,1267.7 954.8,1265.1 955.3,1259.1 955.8,1259.2 956.3,1255.2 956.8,1249.2 957.3,1250.9 957.8,1239.2 958.3,1241.4 958.8,1229.3 959.3,1231.6 959.8,1214.4 960.3,1221.6 960.8,1215.5 961.3,1209.2 961.8,1203.2 962.3,1199.2 962.8,1190.7 963.3,1157.6 963.8,1181.4 964.3,1190.0 964.8,1202.8 965.3,1210.5 965.8,1232.0 966.3,1245.2 966.8,1235.1 967.3,1234.8 967.8,1252.6 968.3,1245.0 968.8,1243.1 969.3,1245.9 969.8,1234.6 970.3,1239.4 970.8,1252.1 971.3,1242.7 971.8,1249.7 972.3,1256.3 972.8,1259.5 973.3,1258.7 973.8,1267.4 974.3,1263.4 974.8,1268.6 975.3,1271.3 975.8,1272.1 976.3,1275.6 976.8,1274.2 977.3,1277.5 977.8,1281.7 978.3,1285.3 978.8,1288.0 979.3,1286.6 979.8,1287.2 980.3,1284.4 980.8,1282.1 981.3,1279.9 981.8,1278.2 982.3,1274.5 982.8,1273.1 983.3,1265.4 983.8,1265.9 984.3,1262.1 984.8,1255.5 985.3,1251.9 985.8,1243.4 986.3,1236.7 986.8,1235.2 987.3,1230.8 987.8,1239.1 988.3,1224.3 988.8,1231.5 989.3,1220.7 989.8,1218.6 990.3,1229.3 990.8,1217.8 991.3,1242.8 991.8,1239.3 992.3,1220.5 992.8,1244.0 993.3,1243.6 993.8,1243.2 994.3,1254.7 994.8,1237.5 995.3,1246.9 995.8,1249.5 996.3,1237.1 996.8,1254.7 997.3,1237.1 997.8,1241.1 998.3,1256.3 998.8,1248.9 999.3,1257.2 999.8,1250.7 1000.3,1261.7 1000.8,1257.1 1001.3,1265.3 1001.8,1258.2 1002.3,1267.8 1002.8,1267.0 1003.3,1270.5 1003.8,1272.1 1004.3,1274.4 1004.8,1272.3 1005.3,1272.8 1005.8,1278.9 1006.3,1278.8 1006.8,1281.1 1007.3,1280.3 1007.8,1275.0 1008.3,1273.8 1008.8,1271.4 1009.3,1267.8 1009.8,1268.0 1010.3,1263.7 1010.8,1258.1 1011.3,1252.9 1011.8,1254.1 1012.3,1243.8 1012.8,1243.4 1013.3,1237.9 1013.8,1222.5 1014.3,1222.6 1014.8,1225.1 1015.3,1224.9 1015.8,1225.7 1016.3,1223.5 1016.8,1222.5 1017.3,1210.0 1017.8,1220.6 1018.3,1234.4 1018.8,1217.4 1019.3,1237.3 1019.8,1204.4 1020.3,1234.0 1020.8,1226.8 1021.3,1210.4 1021.8,1245.6 1022.3,1242.5 1022.8,1241.9 1023.3,1232.2 1023.8,1237.1 1024.3,1253.2 1024.8,1234.8 1025.3,1231.0 1025.8,1244.9 1026.3,1248.3 1026.8,1258.9 1027.3,1259.2 1027.8,1257.0 1028.3,1258.3 1028.8,1268.9 1029.3,1260.8 1029.8,1276.9 1030.3,1270.0 1030.8,1270.1 1031.3,1277.1 1031.8,1277.7 1032.3,1275.6 1032.8,1280.9 1033.3,1278.6 1033.8,1283.3 1034.3,1283.9 1034.8,1280.8 1035.3,1277.6 1035.8,1277.9 1036.3,1275.9 1036.8,1271.1 1037.3,1263.1 1037.8,1261.7 1038.3,1259.0 1038.8,1255.3 1039.3,1254.7 1039.8,1243.4 1040.3,1238.5 1040.8,1236.3 1041.3,1237.5 1041.8,1222.9 1042.3,1230.0 1042.8,1208.5 1043.3,1220.4 1043.8,1208.3 1044.3,1211.5 1044.8,1215.0 1045.3,1193.8 1045.8,1211.7 1046.3,1219.2 1046.8,1226.8 1047.3,1213.8 1047.8,1217.6 1048.3,1214.6 1048.8,1259.4 1049.3,1244.5 1049.8,1249.1 1050.3,1240.6 1050.8,1262.2 1051.3,1251.0 1051.8,1265.9 1052.3,1261.6 1052.8,1256.4 1053.3,1261.8 1053.8,1253.4 1054.3,1260.6 1054.8,1262.8 1055.3,1262.8 1055.8,1270.5 1056.3,1271.4 1056.8,1278.2 1057.3,1269.6 1057.8,1275.5 1058.3,1277.2 1058.8,1280.4 1059.3,1283.7 1059.8,1285.1 1060.3,1286.1 1060.8,1287.2 1061.3,1287.2 1061.8,1285.1 1062.3,1280.5 1062.8,1279.4 1063.3,1274.5 1063.8,1271.1 1064.3,1269.8 1064.8,1265.8 1065.3,1261.9 1065.8,1253.1 1066.3,1248.5 1066.8,1239.3 1067.3,1238.4 1067.8,1235.8 1068.3,1238.3 1068.8,1234.2 1069.3,1220.8 1069.8,1218.5 1070.3,1210.0 1070.8,1210.4 1071.3,1213.8 1071.8,1199.5 1072.3,1165.0 1072.8,1179.9 1073.3,1185.5 1073.8,1214.1 1074.3,1211.8 1074.8,1220.3 1075.3,1242.2 1075.8,1215.7 1076.3,1217.2 1076.8,1243.8 1077.3,1226.5 1077.8,1215.8 1078.3,1209.2 1078.8,1218.7 1079.3,1221.9 1079.8,1242.0 1080.3,1245.7 1080.8,1255.7 1081.3,1252.1 1081.8,1252.4 1082.3,1255.7 1082.8,1271.3 1083.3,1253.9 1083.8,1263.7 1084.3,1264.2 1084.8,1268.5 1085.3,1268.3 1085.8,1274.6 1086.3,1278.2 1086.8,1278.1 1087.3,1279.1 1087.8,1280.9 1088.3,1280.2 1088.8,1278.3 1089.3,1274.7 1089.8,1271.8 1090.3,1270.3 1090.8,1266.5 1091.3,1257.4 1091.8,1255.4 1092.3,1248.2 1092.8,1243.1 1093.3,1232.8 1093.8,1226.8 1094.3,1216.6 1094.8,1208.3 1095.3,1211.7 1095.8,1208.8 1096.3,1197.9 1096.8,1189.9 1097.3,1181.4 1097.8,1168.8 1098.3,1151.8 1098.8,1169.2 1099.3,1170.9 1099.8,1169.2 1100.3,1170.3 1100.8,1214.7 1101.3,1164.5 1101.8,1224.4 1102.3,1206.7 1102.8,1224.5 1103.3,1187.4 1103.8,1197.8 1104.3,1193.7 1104.8,1206.1 1105.3,1207.4 1105.8,1209.2 1106.3,1235.0 1106.8,1222.9 1107.3,1231.2 1107.8,1244.1 1108.3,1238.3 1108.8,1241.8 1109.3,1250.5 1109.8,1250.4 1110.3,1251.0 1110.8,1262.7 1111.3,1266.8 1111.8,1278.0 1112.3,1270.1 1112.8,1279.3 1113.3,1276.7 1113.8,1280.2 1114.3,1282.4 1114.8,1285.3 1115.3,1287.4 1115.8,1286.5 1116.3,1281.9 1116.8,1281.3 1117.3,1277.9 1117.8,1274.3 1118.3,1267.2 1118.8,1266.3 1119.3,1259.2 1119.8,1255.7 1120.3,1248.6 1120.8,1246.5 1121.3,1243.2 1121.8,1238.4 1122.3,1228.1 1122.8,1230.6 1123.3,1229.8 1123.8,1211.9 1124.3,1221.1 1124.8,1197.5 1125.3,1203.6 1125.8,1197.8 1126.3,1207.1 1126.8,1186.8 1127.3,1176.2 1127.8,1175.9 1128.3,1174.0 1128.8,1204.5 1129.3,1195.6 1129.8,1193.7 1130.3,1212.0 1130.8,1204.4 1131.3,1216.2 1131.8,1223.4 1132.3,1248.4 1132.8,1248.2 1133.3,1235.1 1133.8,1224.9 1134.3,1242.1 1134.8,1245.4 1135.3,1252.7 1135.8,1259.4 1136.3,1257.8 1136.8,1266.7 1137.3,1268.0 1137.8,1267.3 1138.3,1268.0 1138.8,1271.3 1139.3,1277.5 1139.8,1274.3 1140.3,1278.2 1140.8,1278.6 1141.3,1279.7 1141.8,1285.1 1142.3,1286.4 1142.8,1285.9 1143.3,1284.7 1143.8,1279.6 1144.3,1277.9 1144.8,1274.6 1145.3,1271.4 1145.8,1263.4 1146.3,1263.4 1146.8,1258.7 1147.3,1259.0 1147.8,1254.9 1148.3,1248.8 1148.8,1249.7 1149.3,1237.2 1149.8,1230.5 1150.3,1226.4 1150.8,1219.1 1151.3,1219.7 1151.8,1204.5 1152.3,1210.6 1152.8,1210.3 1153.3,1223.3 1153.8,1207.9 1154.3,1233.3 1154.8,1207.8 1155.3,1216.9 1155.8,1199.3 1156.3,1219.5 1156.8,1225.3 1157.3,1253.5 1157.8,1244.6 1158.3,1229.8 1158.8,1244.4 1159.3,1242.1 1159.8,1234.1 1160.3,1235.3 1160.8,1233.1 1161.3,1235.2 1161.8,1232.1 1162.3,1248.8 1162.8,1261.5 1163.3,1265.0 1163.8,1258.1 1164.3,1258.2 1164.8,1262.6 1165.3,1269.0 1165.8,1269.2 1166.3,1269.5 1166.8,1276.0 1167.3,1278.1 1167.8,1282.6 1168.3,1282.8 1168.8,1282.5 1169.3,1285.8 1169.8,1286.3 1170.3,1282.8 1170.8,1281.5 1171.3,1280.2 1171.8,1275.8 1172.3,1272.1 1172.8,1273.2 1173.3,1267.4 1173.8,1263.7 1174.3,1254.1 1174.8,1256.9 1175.3,1242.3 1175.8,1241.7 1176.3,1242.8 1176.8,1242.0 1177.3,1229.2 1177.8,1227.0 1178.3,1228.6 1178.8,1214.3 1179.3,1224.5 1179.8,1219.2 1180.3,1207.0 1180.8,1213.8 1181.3,1212.9 1181.8,1207.5 1182.3,1215.3 1182.8,1234.8 1183.3,1221.0 1183.8,1232.9 1184.3,1227.9 1184.8,1241.4 1185.3,1225.5 1185.8,1232.3 1186.3,1231.6 1186.8,1236.6 1187.3,1254.9 1187.8,1246.8 1188.3,1260.3 1188.8,1258.1 1189.3,1262.5 1189.8,1255.5 1190.3,1263.6 1190.8,1264.9 1191.3,1260.9 1191.8,1266.9 1192.3,1267.5 1192.8,1270.3 1193.3,1276.7 1193.8,1272.3 1194.3,1271.9 1194.8,1274.1 1195.3,1278.9 1195.8,1280.3 1196.3,1283.1 1196.8,1285.1 1197.3,1285.0 1197.8,1281.9 1198.3,1280.1 1198.8,1276.2 1199.3,1275.3 1199.8,1273.6 1200.3,1270.4 1200.8,1260.0 1201.3,1263.2 1201.8,1261.5 1202.3,1255.5 1202.8,1243.2 1203.3,1241.2 1203.8,1238.8 1204.3,1233.0 1204.8,1223.6 1205.3,1220.1 1205.8,1226.5 1206.3,1214.1 1206.8,1226.8 1207.3,1217.7 1207.8,1224.7 1208.3,1209.0 1208.8,1220.2 1209.3,1236.9 1209.8,1216.5 1210.3,1253.7 1210.8,1221.6 1211.3,1225.6 1211.8,1238.2 1212.3,1243.3 1212.8,1246.5 1213.3,1239.3 1213.8,1243.0 1214.3,1246.5 1214.8,1248.6 1215.3,1244.0 1215.8,1265.2 1216.3,1263.2 1216.8,1264.6 1217.3,1262.5 1217.8,1268.5 1218.3,1268.3 1218.8,1269.1 1219.3,1274.2 1219.8,1265.1 1220.3,1272.8 1220.8,1270.5 1221.3,1274.4 1221.8,1280.6 1222.3,1277.3 1222.8,1281.3 1223.3,1282.3 1223.8,1286.0 1224.3,1283.4 1224.8,1281.1 1225.3,1281.4 1225.8,1278.2 1226.3,1275.9 1226.8,1275.7 1227.3,1270.1 1227.8,1268.5 1228.3,1266.8 1228.8,1264.0 1229.3,1257.6 1229.8,1257.6 1230.3,1256.4 1230.8,1245.7 1231.3,1249.7 1231.8,1232.6 1232.3,1241.7 1232.8,1231.9 1233.3,1231.1 1233.8,1227.0 1234.3,1223.6 1234.8,1218.8 1235.3,1226.4 1235.8,1245.2 1236.3,1244.0 1236.8,1229.8 1237.3,1227.4 1237.8,1226.4 1238.3,1224.2 1238.8,1250.2 1239.3,1243.8 1239.8,1241.8 1240.3,1239.5 1240.8,1238.7 1241.3,1257.0 1241.8,1258.2 1242.3,1252.6 1242.8,1266.0 1243.3,1257.8 1243.8,1267.8 1244.3,1262.3 1244.8,1267.0 1245.3,1272.9 1245.8,1274.4 1246.3,1277.3 1246.8,1272.1 1247.3,1279.4 1247.8,1279.3 1248.3,1277.4 1248.8,1280.1 1249.3,1279.4 1249.8,1281.9 1250.3,1281.4 1250.8,1284.4 1251.3,1284.8 1251.8,1284.1 1252.3,1281.4 1252.8,1278.5 1253.3,1273.9 1253.8,1270.8 1254.3,1267.2 1254.8,1264.9 1255.3,1256.4 1255.8,1259.0 1256.3,1248.4 1256.8,1247.8 1257.3,1246.6 1257.8,1242.1 1258.3,1248.3 1258.8,1238.2 1259.3,1241.8 1259.8,1235.0 1260.3,1221.2 1260.8,1220.1 1261.3,1220.3 1261.8,1208.7 1262.3,1216.6 1262.8,1215.9 1263.3,1227.1 1263.8,1223.1 1264.3,1227.7 1264.8,1236.0 1265.3,1239.8 1265.8,1230.2 1266.3,1234.5 1266.8,1244.1 1267.3,1236.9 1267.8,1233.3 1268.3,1251.2 1268.8,1237.0 1269.3,1251.8 1269.8,1242.4 1270.3,1262.9 1270.8,1249.4 1271.3,1262.9 1271.8,1267.9 1272.3,1257.5 1272.8,1269.9 1273.3,1262.5 1273.8,1261.7 1274.3,1272.7 1274.8,1275.1 1275.3,1274.8 1275.8,1272.7 1276.3,1279.2 1276.8,1280.3 1277.3,1281.5 1277.8,1282.9 1278.3,1283.6 1278.8,1283.5 1279.3,1284.3 1279.8,1282.5 1280.3,1278.5 1280.8,1276.0 1281.3,1275.5 1281.8,1274.6 1282.3,1272.3 1282.8,1266.7 1283.3,1267.1 1283.8,1264.5 1284.3,1265.2 1284.8,1262.6 1285.3,1259.3 1285.8,1260.2 1286.3,1253.5 1286.8,1257.7 1287.3,1248.1 1287.8,1248.3 1288.3,1248.2 1288.8,1239.2 1289.3,1243.0 1289.8,1235.2 1290.3,1249.8 1290.8,1245.0 1291.3,1240.9 1291.8,1247.0 1292.3,1232.1 1292.8,1250.3 1293.3,1255.0 1293.8,1255.5 1294.3,1262.8 1294.8,1268.3 1295.3,1256.5 1295.8,1255.2 1296.3,1259.6 1296.8,1265.9 1297.3,1270.7 1297.8,1266.1 1298.3,1274.5 1298.8,1267.8 1299.3,1275.1 1299.8,1274.8 1300.3,1276.3 1300.8,1281.8 1301.3,1277.2 1301.8,1278.8 1302.3,1281.3 1302.8,1282.9 1303.3,1280.1 1303.8,1283.8 1304.3,1283.6 1304.8,1286.4 1305.3,1288.0 1305.8,1286.6 1306.3,1285.4 1306.8,1284.3 1307.3,1280.6 1307.8,1281.7 1308.3,1279.8 1308.8,1277.6 1309.3,1275.0 1309.8,1272.4 1310.3,1271.2 1310.8,1271.5 1311.3,1266.5 1311.8,1267.5 1312.3,1257.1 1312.8,1258.5 1313.3,1257.9 1313.8,1254.0 1314.3,1245.5 1314.8,1245.3 1315.3,1248.9 1315.8,1238.1 1316.3,1237.5 1316.8,1236.2 1317.3,1244.3 1317.8,1256.8 1318.3,1260.1 1318.8,1245.7 1319.3,1269.0 1319.8,1256.2 1320.3,1255.5 1320.8,1267.9 1321.3,1257.4 1321.8,1251.1 1322.3,1254.6 1322.8,1254.7 1323.3,1254.7 1323.8,1260.1 1324.3,1268.0 1324.8,1268.1 1325.3,1263.0 1325.8,1276.6 1326.3,1266.9 1326.8,1271.8 1327.3,1273.1 1327.8,1277.1 1328.3,1275.8 1328.8,1278.9 1329.3,1282.9 1329.8,1279.2 1330.3,1277.8 1330.8,1281.8 1331.3,1281.2 1331.8,1283.0 1332.3,1284.5 1332.8,1284.7 1333.3,1282.9 1333.8,1282.3 1334.3,1279.3 1334.8,1275.7 1335.3,1276.1 1335.8,1271.6 1336.3,1271.7 1336.8,1265.9 1337.3,1266.2 1337.8,1263.5 1338.3,1255.0 1338.8,1252.5 1339.3,1249.2 1339.8,1253.0 1340.3,1238.7 1340.8,1245.6 1341.3,1244.9 1341.8,1241.8 1342.3,1241.3 1342.8,1234.6 1343.3,1234.1 1343.8,1242.6 1344.3,1243.8 1344.8,1246.7 1345.3,1240.0 1345.8,1236.1 1346.3,1236.8 1346.8,1243.5 1347.3,1228.5 1347.8,1232.9 1348.3,1241.7 1348.8,1243.5 1349.3,1247.2 1349.8,1238.3 1350.3,1249.6 1350.8,1252.5 1351.3,1261.3 1351.8,1251.4 1352.3,1263.0 1352.8,1269.2 1353.3,1271.4 1353.8,1275.8 1354.3,1276.7 1354.8,1270.6 1355.3,1277.0 1355.8,1274.8 1356.3,1274.1 1356.8,1280.4 1357.3,1276.2 1357.8,1277.1 1358.3,1280.0 1358.8,1281.4 1359.3,1286.3 1359.8,1285.3 1360.3,1285.4 1360.8,1283.3 1361.3,1280.8 1361.8,1281.2 1362.3,1277.2 1362.8,1274.9 1363.3,1272.6 1363.8,1270.4 1364.3,1270.2 1364.8,1264.2 1365.3,1264.3 1365.8,1260.9 1366.3,1254.8 1366.8,1252.2 1367.3,1251.6 1367.8,1250.6 1368.3,1247.1 1368.8,1244.4 1369.3,1239.0 1369.8,1232.9 1370.3,1233.0 1370.8,1214.2 1371.3,1217.2 1371.8,1232.7 1372.3,1229.4 1372.8,1241.4 1373.3,1242.1 1373.8,1244.9 1374.3,1249.6 1374.8,1245.5 1375.3,1250.1 1375.8,1243.8 1376.3,1256.7 1376.8,1251.5 1377.3,1258.5 1377.8,1246.8 1378.3,1253.9 1378.8,1261.4 1379.3,1255.4 1379.8,1265.4 1380.3,1269.6 1380.8,1271.0 1381.3,1267.0 1381.8,1274.0 1382.3,1275.5 1382.8,1274.5 1383.3,1280.2 1383.8,1279.8 1384.3,1281.3 1384.8,1281.7 1385.3,1284.5 1385.8,1284.7 1386.3,1286.8 1386.8,1286.9 1387.3,1286.2 1387.8,1285.3 1388.3,1284.8 1388.8,1282.1 1389.3,1281.1 1389.8,1279.2 1390.3,1275.7 1390.8,1270.3 1391.3,1270.9 1391.8,1268.6 1392.3,1266.1 1392.8,1261.6 1393.3,1263.8 1393.8,1258.0 1394.3,1254.1 1394.8,1251.4 1395.3,1252.4 1395.8,1245.5 1396.3,1243.8 1396.8,1253.2 1397.3,1249.5 1397.8,1247.2 1398.3,1259.1 1398.8,1252.7 1399.3,1234.6 1399.8,1255.7 1400.3,1256.8 1400.8,1253.1 1401.3,1239.5 1401.8,1262.9 1402.3,1264.8 1402.8,1255.2 1403.3,1260.7 1403.8,1266.1 1404.3,1263.5 1404.8,1270.8 1405.3,1267.0 1405.8,1269.9 1406.3,1267.2 1406.8,1261.3 1407.3,1263.8 1407.8,1275.4 1408.3,1272.0 1408.8,1277.7 1409.3,1279.6 1409.8,1283.0 1410.3,1281.3 1410.8,1279.6 1411.3,1281.9 1411.8,1279.3 1412.3,1283.3 1412.8,1285.6 1413.3,1282.6 1413.8,1286.3 1414.3,1286.7 1414.8,1286.3 1415.3,1283.0 1415.8,1281.5 1416.3,1278.0 1416.8,1276.5 1417.3,1276.1 1417.8,1275.7 1418.3,1267.9 1418.8,1269.9 1419.3,1265.7 1419.8,1261.5 1420.3,1265.5 1420.8,1253.7 1421.3,1256.1 1421.8,1254.0 1422.3,1256.2 1422.8,1252.8 1423.3,1250.3 1423.8,1241.5 1424.3,1242.9 1424.8,1243.8 1425.3,1247.7 1425.8,1251.0 1426.3,1249.5 1426.8,1249.3 1427.3,1242.5 1427.8,1263.3 1428.3,1245.5 1428.8,1235.9 1429.3,1250.8 1429.8,1250.9 1430.3,1254.4 1430.8,1265.5 1431.3,1256.9 1431.8,1258.1 1432.3,1257.8 1432.8,1263.5 1433.3,1264.1 1433.8,1269.2 1434.3,1277.6 1434.8,1273.1 1435.3,1270.3 1435.8,1281.2 1436.3,1278.9 1436.8,1279.6 1437.3,1279.8 1437.8,1280.4 1438.3,1280.6 1438.8,1283.2 1439.3,1283.5 1439.8,1285.1 1440.3,1283.0 1440.8,1284.6 1441.3,1284.5 1441.8,1285.0 1442.3,1283.6 1442.8,1280.5 1443.3,1279.7 1443.8,1279.4 1444.3,1276.2 1444.8,1270.3 1445.3,1269.8 1445.8,1269.5 1446.3,1266.4 1446.8,1265.2 1447.3,1264.7 1447.8,1260.1 1448.3,1253.8 1448.8,1257.5 1449.3,1253.1 1449.8,1251.7 1450.3,1246.3 1450.8,1240.1 1451.3,1237.2 1451.8,1238.4 1452.3,1230.9 1452.8,1227.2 1453.3,1254.4 1453.8,1237.4 1454.3,1241.4 1454.8,1250.8 1455.3,1234.0 1455.8,1259.0 1456.3,1247.7 1456.8,1259.7 1457.3,1254.8 1457.8,1260.5 1458.3,1259.7 1458.8,1259.7 1459.3,1252.2 1459.8,1255.9 1460.3,1263.8 1460.8,1270.4 1461.3,1262.1 1461.8,1266.1 1462.3,1265.4 1462.8,1268.3 1463.3,1272.4 1463.8,1268.3 1464.3,1276.1 1464.8,1277.2 1465.3,1278.6 1465.8,1278.7 1466.3,1280.1 1466.8,1280.8 1467.3,1282.1 1467.8,1287.4 1468.3,1287.9 1468.8,1285.7 1469.3,1285.3 1469.8,1282.5 1470.3,1279.7 1470.8,1277.8 1471.3,1278.1 1471.8,1277.6 1472.3,1273.1 1472.8,1269.1 1473.3,1268.3 1473.8,1264.3 1474.3,1260.7 1474.8,1260.1 1475.3,1256.0 1475.8,1251.1 1476.3,1247.9 1476.8,1245.9 1477.3,1249.3 1477.8,1253.6 1478.3,1247.2 1478.8,1253.1 1479.3,1238.0 1479.8,1251.9 1480.3,1237.9 1480.8,1243.6 1481.3,1245.8 1481.8,1250.3 1482.3,1255.6 1482.8,1245.7 1483.3,1242.1 1483.8,1249.8 1484.3,1254.6 1484.8,1252.3 1485.3,1263.6 1485.8,1269.8 1486.3,1256.1 1486.8,1265.0 1487.3,1268.2 1487.8,1256.5 1488.3,1267.0 1488.8,1267.8 1489.3,1266.6 1489.8,1278.8 1490.3,1277.3 1490.8,1277.0 1491.3,1280.5 1491.8,1281.6 1492.3,1282.3 1492.8,1282.3 1493.3,1282.4 1493.8,1280.0 1494.3,1282.2 1494.8,1283.7 1495.3,1281.3 1495.8,1286.1 1496.3,1283.0 1496.8,1281.1 1497.3,1278.8 1497.8,1279.8 1498.3,1278.1 1498.8,1275.7 1499.3,1274.2 1499.8,1271.7 1500.3,1269.8 1500.8,1268.8 1501.3,1265.5 1501.8,1266.0 1502.3,1261.9 1502.8,1260.6 1503.3,1259.6 1503.8,1260.7 1504.3,1257.6 1504.8,1255.1 1505.3,1251.8 1505.8,1246.9 1506.3,1245.6 1506.8,1249.3 1507.3,1248.4 1507.8,1248.4 1508.3,1247.4 1508.8,1250.7 1509.3,1265.0 1509.8,1269.7 1510.3,1265.3 1510.8,1254.3 1511.3,1259.4 1511.8,1260.5 1512.3,1254.7 1512.8,1261.4 1513.3,1260.2 1513.8,1259.6 1514.3,1260.2 1514.8,1270.1 1515.3,1270.1 1515.8,1267.7 1516.3,1269.6 1516.8,1277.7 1517.3,1278.3 1517.8,1276.8 1518.3,1282.0 1518.8,1278.0 1519.3,1277.1 1519.8,1282.3 1520.3,1280.9 1520.8,1282.8 1521.3,1283.3 1521.8,1282.8 1522.3,1283.5 1522.8,1285.6 1523.3,1286.4 1523.8,1283.4 1524.3,1284.4 1524.8,1282.2 1525.3,1279.4 1525.8,1279.6 1526.3,1278.5 1526.8,1274.5 1527.3,1270.7 1527.8,1272.3 1528.3,1267.2 1528.8,1267.7 1529.3,1259.7 1529.8,1260.6 1530.3,1256.4 1530.8,1252.7 1531.3,1255.0 1531.8,1255.7 1532.3,1253.0 1532.8,1249.4 1533.3,1251.1 1533.8,1237.5 1534.3,1251.2 1534.8,1250.0 1535.3,1258.3 1535.8,1255.7 1536.3,1255.6 1536.8,1257.9 1537.3,1258.3 1537.8,1251.9 1538.3,1266.2 1538.8,1261.8 1539.3,1259.8 1539.8,1258.7 1540.3,1272.7 1540.8,1270.9 1541.3,1265.4 1541.8,1273.1 1542.3,1278.1 1542.8,1273.1 1543.3,1275.9 1543.8,1274.9 1544.3,1275.0 1544.8,1279.6 1545.3,1281.9 1545.8,1278.7 1546.3,1279.2 1546.8,1282.0 1547.3,1281.3 1547.8,1283.9 1548.3,1284.6 1548.8,1283.1 1549.3,1284.2 1549.8,1286.3 1550.3,1287.2 1550.8,1285.9 1551.3,1285.6 1551.8,1281.9 1552.3,1282.0 1552.8,1278.8 1553.3,1277.7 1553.8,1276.0 1554.3,1272.3 1554.8,1271.6 1555.3,1268.0 1555.8,1268.6 1556.3,1264.2 1556.8,1262.9 1557.3,1262.5 1557.8,1258.2 1558.3,1260.9 1558.8,1253.3 1559.3,1255.5 1559.8,1251.2 1560.3,1244.5 1560.8,1244.8 1561.3,1240.7 1561.8,1244.1 1562.3,1244.6 1562.8,1259.7 1563.3,1249.1 1563.8,1264.5 1564.3,1261.8 1564.8,1254.9 1565.3,1253.1 1565.8,1267.3 1566.3,1254.7 1566.8,1268.8 1567.3,1271.9 1567.8,1271.3 1568.3,1271.0 1568.8,1272.4 1569.3,1275.0 1569.8,1273.3 1570.3,1272.8 1570.8,1273.8 1571.3,1278.7 1571.8,1274.7 1572.3,1278.1 1572.8,1275.4 1573.3,1277.2 1573.8,1276.8 1574.3,1280.1 1574.8,1282.5 1575.3,1283.0 1575.8,1283.1 1576.3,1285.4 1576.8,1285.4 1577.3,1286.9 1577.8,1286.0 1578.3,1285.1 1578.8,1281.6 1579.3,1280.7 1579.8,1281.3 1580.3,1278.5 1580.8,1279.4 1581.3,1274.0 1581.8,1271.1 1582.3,1272.3 1582.8,1268.4 1583.3,1269.4 1583.8,1264.7 1584.3,1261.7 1584.8,1262.8 1585.3,1256.9 1585.8,1255.6 1586.3,1253.0 1586.8,1252.0 1587.3,1253.5 1587.8,1248.2 1588.3,1258.1 1588.8,1253.6 1589.3,1263.7 1589.8,1246.3 1590.3,1258.8 1590.8,1262.2 1591.3,1255.4 1591.8,1267.2 1592.3,1261.5 1592.8,1266.3 1593.3,1264.3 1593.8,1262.4 1594.3,1258.1 1594.8,1254.9 1595.3,1259.7 1595.8,1260.5 1596.3,1265.3 1596.8,1264.6 1597.3,1274.9 1597.8,1265.2 1598.3,1275.7 1598.8,1273.0 1599.3,1274.6 1599.8,1278.3 1600.3,1276.7 1600.8,1275.1 1601.3,1279.8 1601.8,1280.4 1602.3,1279.5 1602.8,1284.5 1603.3,1284.2 1603.8,1285.7 1604.3,1287.7 1604.8,1286.5 1605.3,1285.1 1605.8,1286.0 1606.3,1283.5 1606.8,1281.2 1607.3,1280.8 1607.8,1279.0 1608.3,1274.7 1608.8,1273.2 1609.3,1271.3 1609.8,1275.1 1610.3,1269.4 1610.8,1267.6 1611.3,1265.5 1611.8,1267.5 1612.3,1263.7 1612.8,1266.1 1613.3,1262.0 1613.8,1262.6 1614.3,1255.5 1614.8,1254.1 1615.3,1245.5 1615.8,1245.5 1616.3,1236.7 1616.8,1244.8 1617.3,1244.2 1617.8,1247.8 1618.3,1259.1 1618.8,1256.2 1619.3,1263.4 1619.8,1265.2 1620.3,1269.5 1620.8,1272.6 1621.3,1267.4 1621.8,1273.3 1622.3,1268.8 1622.8,1268.4 1623.3,1275.3 1623.8,1278.7 1624.3,1270.1 1624.8,1279.1 1625.3,1277.0 1625.8,1273.1 1626.3,1277.1 1626.8,1278.4 1627.3,1279.7 1627.8,1279.4 1628.3,1278.8 1628.8,1282.3 1629.3,1284.3 1629.8,1284.4 1630.3,1284.6 1630.8,1285.6 1631.3,1283.4 1631.8,1284.7 1632.3,1283.9 1632.8,1283.2 1633.3,1280.7 1633.8,1279.2 1634.3,1276.6 1634.8,1277.3 1635.3,1269.4 1635.8,1270.7 1636.3,1272.7 1636.8,1267.7 1637.3,1261.3 1637.8,1263.7 1638.3,1257.6 1638.8,1257.1 1639.3,1257.5 1639.8,1259.9 1640.3,1253.8 1640.8,1251.8 1641.3,1250.4 1641.8,1245.1 1642.3,1238.9 1642.8,1243.6 1643.3,1249.2 1643.8,1247.1 1644.3,1246.8 1644.8,1251.2 1645.3,1246.4 1645.8,1251.0 1646.3,1257.7 1646.8,1257.3 1647.3,1260.1 1647.8,1267.6 1648.3,1261.3 1648.8,1259.4 1649.3,1254.6 1649.8,1256.9 1650.3,1265.4 1650.8,1262.8 1651.3,1270.0 1651.8,1266.2 1652.3,1271.8 1652.8,1272.9 1653.3,1277.7 1653.8,1274.9 1654.3,1275.9 1654.8,1278.4 1655.3,1279.0 1655.8,1283.6 1656.3,1281.4 1656.8,1282.4 1657.3,1283.8 1657.8,1285.6 1658.3,1285.6 1658.8,1286.0 1659.3,1283.6 1659.8,1285.6 1660.3,1284.7 1660.8,1281.9 1661.3,1279.6 1661.8,1279.8 1662.3,1278.7 1662.8,1273.9 1663.3,1275.0 1663.8,1271.0 1664.3,1272.7 1664.8,1273.0 1665.3,1271.2 1665.8,1265.0 1666.3,1270.0 1666.8,1267.6 1667.3,1263.1 1667.8,1263.3 1668.3,1264.0 1668.8,1257.5 1669.3,1256.9 1669.8,1253.5 1670.3,1263.5 1670.8,1247.6 1671.3,1266.2 1671.8,1256.1 1672.3,1267.9 1672.8,1258.4 1673.3,1263.3 1673.8,1265.7 1674.3,1272.0 1674.8,1262.6 1675.3,1272.0 1675.8,1268.0 1676.3,1275.8 1676.8,1271.0 1677.3,1273.8 1677.8,1271.7 1678.3,1277.3 1678.8,1270.9 1679.3,1272.5 1679.8,1278.9 1680.3,1275.7 1680.8,1278.8 1681.3,1276.9 1681.8,1279.7 1682.3,1275.9 1682.8,1280.7 1683.3,1280.1 1683.8,1279.5 1684.3,1280.5 1684.8,1285.0 1685.3,1284.6 1685.8,1282.9 1686.3,1286.2 1686.8,1283.5 1687.3,1283.2 1687.8,1283.0 1688.3,1280.8 1688.8,1279.4 1689.3,1279.3 1689.8,1280.7 1690.3,1279.3 1690.8,1274.4 1691.3,1277.2 1691.8,1274.0 1692.3,1273.5 1692.8,1271.1 1693.3,1270.0 1693.8,1265.3 1694.3,1263.7 1694.8,1262.8 1695.3,1262.3 1695.8,1263.3 1696.3,1257.5 1696.8,1266.2 1697.3,1256.0 1697.8,1257.5 1698.3,1265.3 1698.8,1265.7 1699.3,1264.2 1699.8,1262.4 1700.3,1262.8 1700.8,1259.7 1701.3,1268.9 1701.8,1268.2 1702.3,1271.9 1702.8,1268.1 1703.3,1268.7 1703.8,1271.1 1704.3,1273.8 1704.8,1272.3 1705.3,1275.5 1705.8,1280.8 1706.3,1273.2 1706.8,1275.2 1707.3,1277.4 1707.8,1281.9 1708.3,1283.5 1708.8,1281.4 1709.3,1283.8 1709.8,1283.0 1710.3,1283.8 1710.8,1283.1 1711.3,1284.3 1711.8,1284.9 1712.3,1286.8 1712.8,1288.2 1713.3,1285.2 1713.8,1286.3 1714.3,1285.2 1714.8,1285.2 1715.3,1284.3 1715.8,1282.9 1716.3,1281.8 1716.8,1278.7 1717.3,1276.5 1717.8,1279.7 1718.3,1278.0 1718.8,1273.4 1719.3,1275.6 1719.8,1272.9 1720.3,1266.4 1720.8,1270.2 1721.3,1265.0 1721.8,1268.3 1722.3,1262.9 1722.8,1261.4 1723.3,1258.3 1723.8,1260.6 1724.3,1269.3 1724.8,1262.3 1725.3,1257.5 1725.8,1274.1 1726.3,1272.3 1726.8,1267.3 1727.3,1263.1 1727.8,1262.2 1728.3,1261.9 1728.8,1271.2 1729.3,1274.2 1729.8,1266.1 1730.3,1269.6 1730.8,1268.8 1731.3,1269.4 1731.8,1272.7 1732.3,1277.8 1732.8,1272.8 1733.3,1278.7 1733.8,1281.2 1734.3,1279.4 1734.8,1280.8 1735.3,1279.1 1735.8,1284.5 1736.3,1282.0 1736.8,1282.3 1737.3,1283.9 1737.8,1282.9 1738.3,1283.1 1738.8,1284.6 1739.3,1287.3 1739.8,1285.8 1740.3,1286.5 1740.8,1284.3 1741.3,1282.9 1741.8,1285.3 1742.3,1282.1 1742.8,1279.7 1743.3,1280.0 1743.8,1279.6 1744.3,1274.9 1744.8,1274.2 1745.3,1274.0 1745.8,1270.1 1746.3,1271.3 1746.8,1270.2 1747.3,1267.9 1747.8,1264.8 1748.3,1264.2 1748.8,1261.1 1749.3,1260.2 1749.8,1259.2 1750.3,1255.5 1750.8,1257.3 1751.3,1264.9 1751.8,1251.2 1752.3,1255.5 1752.8,1257.8 1753.3,1258.0 1753.8,1256.4 1754.3,1259.2 1754.8,1269.5 1755.3,1270.6 1755.8,1271.6 1756.3,1267.1 1756.8,1273.5 1757.3,1275.0 1757.8,1272.9 1758.3,1277.2 1758.8,1282.2 1759.3,1270.9 1759.8,1278.2 1760.3,1273.0 1760.8,1272.7 1761.3,1276.3 1761.8,1279.4 1762.3,1279.6 1762.8,1278.1 1763.3,1278.5 1763.8,1280.7 1764.3,1282.4 1764.8,1282.0 1765.3,1282.0 1765.8,1287.0 1766.3,1284.4 1766.8,1285.7 1767.3,1285.7 1767.8,1285.7 1768.3,1285.4 1768.8,1284.4 1769.3,1284.3 1769.8,1281.8 1770.3,1280.5 1770.8,1283.1 1771.3,1280.0 1771.8,1280.0 1772.3,1279.6 1772.8,1277.6 1773.3,1275.5 1773.8,1271.5 1774.3,1269.7 1774.8,1272.4 1775.3,1270.5 1775.8,1269.0 1776.3,1263.6 1776.8,1262.0 1777.3,1263.1 1777.8,1262.6 1778.3,1267.6 1778.8,1264.5 1779.3,1276.5 1779.8,1267.7 1780.3,1267.8 1780.8,1273.2 1781.3,1271.6 1781.8,1267.5 1782.3,1274.1 1782.8,1278.2 1783.3,1267.8 1783.8,1270.7 1784.3,1268.5 1784.8,1266.9 1785.3,1275.6 1785.8,1277.2 1786.3,1279.2 1786.8,1278.2 1787.3,1272.5 1787.8,1277.4 1788.3,1276.7 1788.8,1276.8 1789.3,1278.5 1789.8,1283.3 1790.3,1281.9 1790.8,1285.9 1791.3,1283.4 1791.8,1279.8 1792.3,1284.7 1792.8,1285.9 1793.3,1284.8 1793.8,1283.6 1794.3,1287.4 1794.8,1283.9 1795.3,1284.4 1795.8,1282.0 1796.3,1281.8 1796.8,1280.5 1797.3,1282.4 1797.8,1281.6 1798.3,1278.8 1798.8,1276.5 1799.3,1277.2 1799.8,1276.9 1800.3,1273.1 1800.8,1272.7 1801.3,1273.4 1801.8,1273.8 1802.3,1271.6 1802.8,1271.1 1803.3,1266.4 1803.8,1263.5 1804.3,1266.7 1804.8,1262.7 1805.3,1263.2 1805.8,1260.6 1806.3,1266.6 1806.8,1263.6 1807.3,1274.0 1807.8,1269.2 1808.3,1271.7 1808.8,1272.8 1809.3,1275.2 1809.8,1274.1 1810.3,1267.8 1810.8,1272.4 1811.3,1280.5 1811.8,1276.0 1812.3,1275.8 1812.8,1274.7 1813.3,1271.1 1813.8,1271.8 1814.3,1272.7 1814.8,1278.9 1815.3,1278.9 1815.8,1283.7 1816.3,1281.9 1816.8,1285.3 1817.3,1282.8 1817.8,1280.2 1818.3,1286.0 1818.8,1284.0 1819.3,1285.9 1819.8,1284.9 1820.3,1284.6 1820.8,1285.7 1821.3,1284.3 1821.8,1284.6 1822.3,1284.5 1822.8,1284.3 1823.3,1283.1 1823.8,1283.8 1824.3,1283.7 1824.8,1284.9 1825.3,1284.4 1825.8,1281.7 1826.3,1282.0 1826.8,1279.6 1827.3,1279.3 1827.8,1277.6 1828.3,1275.9 1828.8,1276.0 1829.3,1273.0 1829.8,1275.2 1830.3,1273.4 1830.8,1271.3 1831.3,1271.9 1831.8,1272.9 1832.3,1270.2 1832.8,1274.1 1833.3,1275.6 1833.8,1279.7 1834.3,1271.6 1834.8,1274.8 1835.3,1276.6 1835.8,1279.7 1836.3,1276.6 1836.8,1278.9 1837.3,1273.6 1837.8,1276.9 1838.3,1283.0 1838.8,1277.9 1839.3,1282.8 1839.8,1276.2 1840.3,1277.5 1840.8,1275.7 1841.3,1281.7 1841.8,1282.4 1842.3,1286.6 1842.8,1284.0 1843.3,1283.6 1843.8,1281.8 1844.3,1284.0 1844.8,1285.5 1845.3,1285.2 1845.8,1285.9 1846.3,1285.6 1846.8,1284.9 1847.3,1286.2 1847.8,1286.3 1848.3,1285.3 1848.8,1288.5 1849.3,1287.2 1849.8,1285.9 1850.3,1286.6 1850.8,1286.1 1851.3,1286.3 1851.8,1286.3 1852.3,1282.9 1852.8,1284.6 1853.3,1284.9 1853.8,1281.7 1854.3,1279.9 1854.8,1281.6 1855.3,1281.2 1855.8,1280.8 1856.3,1278.5 1856.8,1278.6 1857.3,1278.8 1857.8,1279.0 1858.3,1280.2 1858.8,1277.5 1859.3,1275.7 1859.8,1271.0 1860.3,1279.0 1860.8,1275.9 1861.3,1276.2 1861.8,1274.6 1862.3,1279.4 1862.8,1274.2 1863.3,1279.1 1863.8,1279.7 1864.3,1280.7 1864.8,1283.4 1865.3,1281.1 1865.8,1281.8 1866.3,1283.3 1866.8,1278.8 1867.3,1281.0 1867.8,1281.8 1868.3,1283.7 1868.8,1281.5 1869.3,1284.7 1869.8,1284.5 1870.3,1282.2 1870.8,1282.6 1871.3,1283.0 1871.8,1285.4 1872.3,1285.8 1872.8,1286.7 1873.3,1287.0 1873.8,1285.6 1874.3,1287.5 1874.8,1287.6 1875.3,1287.7 1875.8,1288.1 1876.3,1286.7 1876.8,1287.6 1877.3,1286.2 1877.8,1285.7 1878.3,1285.8 1878.8,1285.8 1879.3,1285.1 1879.8,1284.3 1880.3,1283.0 1880.8,1283.3 1881.3,1281.5 1881.8,1280.0 1882.3,1281.0 1882.8,1282.2 1883.3,1279.6 1883.8,1278.5 1884.3,1281.4 1884.8,1281.5 1885.3,1278.3 1885.8,1277.8 1886.3,1277.5 1886.8,1279.0 1887.3,1276.0 1887.8,1277.7 1888.3,1276.2 1888.8,1270.8 1889.3,1273.4 1889.8,1274.0 1890.3,1278.9 1890.8,1278.9 1891.3,1283.3 1891.8,1279.2 1892.3,1280.7 1892.8,1280.4 1893.3,1280.5 1893.8,1284.0 1894.3,1281.1 1894.8,1283.5 1895.3,1283.3 1895.8,1280.1 1896.3,1282.4 1896.8,1280.9 1897.3,1282.1 1897.8,1282.6 1898.3,1282.8 1898.8,1282.6 1899.3,1285.7 1899.8,1283.7 1900.3,1285.4 1900.8,1287.1 1901.3,1286.4 1901.8,1287.3 1902.3,1288.2 1902.8,1288.2 1903.3,1288.3 1903.8,1285.8 1904.3,1287.8 1904.8,1285.9 1905.3,1283.8 1905.8,1284.1 1906.3,1282.9 1906.8,1283.5 1907.3,1281.4 1907.8,1281.0 1908.3,1281.6 1908.8,1280.6 1909.3,1278.8 1909.8,1278.8 1910.3,1278.3 1910.8,1277.8 1911.3,1277.2 1911.8,1276.5 1912.3,1277.9 1912.8,1273.6 1913.3,1274.6 1913.8,1274.4 1914.3,1272.5 1914.8,1271.7 1915.3,1272.6 1915.8,1275.3 1916.3,1279.2 1916.8,1275.8 1917.3,1275.6 1917.8,1277.2 1918.3,1276.2 1918.8,1273.2 1919.3,1279.4 1919.8,1278.7 1920.3,1278.3 1920.8,1280.3 1921.3,1278.3 1921.8,1277.3 1922.3,1275.4 1922.8,1276.4 1923.3,1280.4 1923.8,1281.6 1924.3,1283.7 1924.8,1284.2 1925.3,1283.7 1925.8,1283.0 1926.3,1283.6 1926.8,1285.2 1927.3,1284.1 1927.8,1286.7 1928.3,1284.4 1928.8,1284.2 1929.3,1286.3 1929.8,1284.8 1930.3,1288.4 1930.8,1285.9 1931.3,1286.1 1931.8,1285.5 1932.3,1284.6 1932.8,1283.4 1933.3,1282.8 1933.8,1284.8 1934.3,1284.4 1934.8,1284.7 1935.3,1280.7 1935.8,1282.2 1936.3,1281.1 1936.8,1281.6 1937.3,1279.5 1937.8,1280.3 1938.3,1279.7 1938.8,1278.3 1939.3,1278.6 1939.8,1275.6 1940.3,1277.8 1940.8,1274.3 1941.3,1280.9 1941.8,1272.1 1942.3,1278.3 1942.8,1276.7 1943.3,1279.3 1943.8,1282.3 1944.3,1281.8 1944.8,1280.5 1945.3,1284.2 1945.8,1276.7 1946.3,1278.0 1946.8,1282.8 1947.3,1280.4 1947.8,1276.3 1948.3,1281.3 1948.8,1278.8 1949.3,1284.0 1949.8,1283.6 1950.3,1281.1 1950.8,1284.8 1951.3,1281.9 1951.8,1285.2 1952.3,1285.0 1952.8,1284.0 1953.3,1282.2 1953.8,1283.9 1954.3,1282.2 1954.8,1284.4 1955.3,1283.5 1955.8,1287.5 1956.3,1285.5 1956.8,1284.9 1957.3,1287.6 1957.8,1287.2 1958.3,1286.2 1958.8,1287.6 1959.3,1286.2 1959.8,1285.1 1960.3,1283.9 1960.8,1282.1 1961.3,1283.7 1961.8,1283.5 1962.3,1281.2 1962.8,1279.5 1963.3,1280.3 1963.8,1277.6 1964.3,1279.1 1964.8,1279.5 1965.3,1279.8 1965.8,1277.0 1966.3,1275.6 1966.8,1275.2 1967.3,1275.0 1967.8,1271.2 1968.3,1268.7 1968.8,1267.3 1969.3,1265.9 1969.8,1267.5 1970.3,1270.4 1970.8,1272.7 1971.3,1273.3 1971.8,1274.2 1972.3,1274.0 1972.8,1276.9 1973.3,1278.7 1973.8,1278.8 1974.3,1280.7 1974.8,1276.7 1975.3,1277.2 1975.8,1282.1 1976.3,1280.2 1976.8,1282.2 1977.3,1282.3 1977.8,1285.4 1978.3,1283.3 1978.8,1282.7 1979.3,1284.6 1979.8,1284.4 1980.3,1286.5 1980.8,1284.8 1981.3,1285.7 1981.8,1285.1 1982.3,1285.8 1982.8,1284.7 1983.3,1286.9 1983.8,1284.3 1984.3,1285.8 1984.8,1286.1 1985.3,1286.9 1985.8,1286.2 1986.3,1286.3 1986.8,1285.3 1987.3,1284.6 1987.8,1283.7 1988.3,1283.8 1988.8,1282.9 1989.3,1283.0 1989.8,1282.5 1990.3,1282.6 1990.8,1280.8 1991.3,1279.5 1991.8,1278.4 1992.3,1279.2 1992.8,1279.0 1993.3,1280.6 1993.8,1277.8 1994.3,1279.7 1994.8,1279.6 1995.3,1274.8 1995.8,1280.3 1996.3,1280.1 1996.8,1280.6 1997.3,1276.8 1997.8,1279.0 1998.3,1275.3 1998.8,1276.2 1999.3,1276.5 1999.8,1281.3 2000.3,1277.7 2000.8,1281.8 2001.3,1281.3 2001.8,1280.9 2002.3,1283.4 2002.8,1284.5 2003.3,1281.4 2003.8,1283.7 2004.3,1280.7 2004.8,1280.2 2005.3,1282.3 2005.8,1281.5 2006.3,1280.4 2006.8,1279.6 2007.3,1282.7 2007.8,1283.2 2008.3,1282.4 2008.8,1283.6 2009.3,1281.3 2009.8,1284.4 2010.3,1284.9 2010.8,1285.3 2011.3,1284.6 2011.8,1285.8 2012.3,1285.3 2012.8,1285.8 2013.3,1284.8 2013.8,1284.3 2014.3,1282.9 2014.8,1283.9 2015.3,1283.9 2015.8,1282.0 2016.3,1283.1 2016.8,1282.6 2017.3,1281.7 2017.8,1279.6 2018.3,1282.2 2018.8,1276.9 2019.3,1278.9 2019.8,1277.4 2020.3,1278.9 2020.8,1276.4 2021.3,1276.6 2021.8,1277.3 2022.3,1277.1 2022.8,1275.3 2023.3,1279.7 2023.8,1279.4 2024.3,1281.2 2024.8,1277.5 2025.3,1279.1 2025.8,1279.2 2026.3,1279.1 2026.8,1282.5 2027.3,1283.2 2027.8,1285.4 2028.3,1281.4 2028.8,1282.3 2029.3,1283.1 2029.8,1280.1 2030.3,1280.0 2030.8,1280.3 2031.3,1279.3 2031.8,1279.7 2032.3,1284.3 2032.8,1283.4 2033.3,1283.5 2033.8,1282.2 2034.3,1284.6 2034.8,1286.4 2035.3,1283.4 2035.8,1284.3 2036.3,1287.4 2036.8,1287.9 2037.3,1288.2 2037.8,1285.7 2038.3,1287.2 2038.8,1285.8 2039.3,1286.4 2039.8,1285.3 2040.3,1285.4 2040.8,1285.9 2041.3,1284.7 2041.8,1283.8 2042.3,1283.8 2042.8,1283.7 2043.3,1282.7 2043.8,1283.0 2044.3,1282.9 2044.8,1283.3 2045.3,1278.7 2045.8,1278.8 2046.3,1278.0 2046.8,1280.0 2047.3,1280.8 2047.8,1278.3 2048.3,1277.7 2048.8,1278.6 2049.3,1274.0 2049.8,1275.9 2050.3,1270.7 2050.8,1276.0 2051.3,1274.5 2051.8,1274.7 2052.3,1276.9 2052.8,1275.0 2053.3,1279.3 2053.8,1277.2 2054.3,1278.5 2054.8,1282.3 2055.3,1278.2 2055.8,1281.8 2056.3,1279.1 2056.8,1283.6 2057.3,1283.3 2057.8,1281.8 2058.3,1283.3 2058.8,1284.5 2059.3,1284.4 2059.8,1282.7 2060.3,1283.2 2060.8,1285.6 2061.3,1281.9 2061.8,1283.3 2062.3,1284.7 2062.8,1284.7 2063.3,1286.3 2063.8,1286.1 2064.3,1284.4 2064.8,1284.9 2065.3,1283.1 2065.8,1285.0 2066.3,1285.7 2066.8,1285.3 2067.3,1285.4 2067.8,1285.7 2068.3,1284.1 2068.8,1284.1 2069.3,1282.7 2069.8,1285.0 2070.3,1282.8 2070.8,1282.1 2071.3,1284.2 2071.8,1283.1 2072.3,1284.1 2072.8,1282.6 2073.3,1284.7 2073.8,1283.4 2074.3,1282.6" fill="none" stroke="#63abff" stroke-width="3.6" stroke-linejoin="round"/>
<rect x="1656" y="1106" width="405.7" height="120.5" fill="#fff"/>
<polyline points="1657.0,1174.6 1658.0,1169.8 1659.0,1163.9 1660.0,1157.3 1661.0,1150.4 1662.0,1143.3 1663.0,1136.4 1664.0,1130.1 1665.0,1124.7 1666.0,1120.4 1667.0,1117.4 1668.0,1115.9 1669.0,1115.9 1670.0,1117.4 1671.0,1120.4 1672.0,1124.7 1673.0,1130.1 1674.0,1136.4 1675.0,1143.3 1676.0,1150.4 1677.0,1157.3 1678.0,1163.9 1679.0,1169.8 1680.0,1174.6 1681.0,1178.2 1682.0,1180.4 1683.0,1181.1 1684.0,1180.3 1685.0,1177.9 1686.0,1174.2 1687.0,1169.2 1688.0,1163.3 1689.0,1156.7 1690.0,1149.6 1691.0,1142.6 1692.0,1135.8 1693.0,1129.6 1694.0,1124.2 1695.0,1120.1 1696.0,1117.2 1697.0,1115.8 1698.0,1116.0 1699.0,1117.7 1700.0,1120.8 1701.0,1125.2 1702.0,1130.7 1703.0,1137.1 1704.0,1144.0 1705.0,1151.1 1706.0,1158.0 1707.0,1164.5 1708.0,1170.3 1709.0,1175.0 1710.0,1178.5 1711.0,1180.5 1712.0,1181.1 1713.0,1180.1 1714.0,1177.6 1715.0,1173.7 1716.0,1168.7 1717.0,1162.7 1718.0,1156.0 1719.0,1148.9 1720.0,1141.9 1721.0,1135.1 1722.0,1129.0 1723.0,1123.8 1724.0,1119.7 1725.0,1117.0 1726.0,1115.8 1727.0,1116.1 1728.0,1117.9 1729.0,1121.2 1730.0,1125.7 1731.0,1131.3 1732.0,1137.8 1733.0,1144.7 1734.0,1151.8 1735.0,1158.7 1736.0,1165.2 1737.0,1170.8 1738.0,1175.4 1739.0,1178.8 1740.0,1180.7 1741.0,1181.1 1742.0,1179.9 1743.0,1177.3 1744.0,1173.3 1745.0,1168.1 1746.0,1162.0 1747.0,1155.3 1748.0,1148.2 1749.0,1141.2 1750.0,1134.5 1751.0,1128.4 1752.0,1123.3 1753.0,1119.4 1754.0,1116.8 1755.0,1115.7 1756.0,1116.2 1757.0,1118.2 1758.0,1121.6 1759.0,1126.2 1760.0,1131.9 1761.0,1138.4 1762.0,1145.4 1763.0,1152.5 1764.0,1159.4 1765.0,1165.8 1766.0,1171.3 1767.0,1175.8 1768.0,1179.0 1769.0,1180.8 1770.0,1181.0 1771.0,1179.7 1772.0,1176.9 1773.0,1172.8 1774.0,1167.5 1775.0,1161.4 1776.0,1154.6 1777.0,1147.5 1778.0,1140.5 1779.0,1133.8 1780.0,1127.9 1781.0,1122.8 1782.0,1119.0 1783.0,1116.6 1784.0,1115.7 1785.0,1116.3 1786.0,1118.5 1787.0,1122.0 1788.0,1126.8 1789.0,1132.6 1790.0,1139.1 1791.0,1146.1 1792.0,1153.2 1793.0,1160.0 1794.0,1166.4 1795.0,1171.8 1796.0,1176.2 1797.0,1179.3 1798.0,1180.9 1799.0,1180.9 1800.0,1179.5 1801.0,1176.6 1802.0,1172.3 1803.0,1167.0 1804.0,1160.7 1805.0,1153.9 1806.0,1146.8 1807.0,1139.8 1808.0,1133.2 1809.0,1127.3 1810.0,1122.4 1811.0,1118.7 1812.0,1116.5 1813.0,1115.7 1814.0,1116.5 1815.0,1118.7 1816.0,1122.4 1817.0,1127.3 1818.0,1133.2 1819.0,1139.8 1820.0,1146.8 1821.0,1153.9 1822.0,1160.7 1823.0,1167.0 1824.0,1172.3 1825.0,1176.6 1826.0,1179.5 1827.0,1180.9 1828.0,1180.9 1829.0,1179.3 1830.0,1176.2 1831.0,1171.8 1832.0,1166.4 1833.0,1160.0 1834.0,1153.2 1835.0,1146.1 1836.0,1139.1 1837.0,1132.6 1838.0,1126.8 1839.0,1122.0 1840.0,1118.5 1841.0,1116.3 1842.0,1115.7 1843.0,1116.6 1844.0,1119.0 1845.0,1122.8 1846.0,1127.9 1847.0,1133.8 1848.0,1140.5 1849.0,1147.5 1850.0,1154.6 1851.0,1161.4 1852.0,1167.5 1853.0,1172.8 1854.0,1176.9 1855.0,1179.7 1856.0,1181.0 1857.0,1180.8 1858.0,1179.0 1859.0,1175.8 1860.0,1171.3 1861.0,1165.8 1862.0,1159.4 1863.0,1152.5 1864.0,1145.4 1865.0,1138.4 1866.0,1131.9 1867.0,1126.2 1868.0,1121.6 1869.0,1118.2 1870.0,1116.2 1871.0,1115.7 1872.0,1116.8 1873.0,1119.4 1874.0,1123.3 1875.0,1128.4 1876.0,1134.5 1877.0,1141.2 1878.0,1148.2 1879.0,1155.3 1880.0,1162.0 1881.0,1168.1 1882.0,1173.3 1883.0,1177.3 1884.0,1179.9 1885.0,1181.1 1886.0,1180.7 1887.0,1178.8 1888.0,1175.4 1889.0,1170.8 1890.0,1165.2 1891.0,1158.7 1892.0,1151.8 1893.0,1144.7 1894.0,1137.8 1895.0,1131.3 1896.0,1125.7 1897.0,1121.2 1898.0,1117.9 1899.0,1116.1 1900.0,1115.8 1901.0,1117.0 1902.0,1119.7 1903.0,1123.8 1904.0,1129.0 1905.0,1135.1 1906.0,1141.9 1907.0,1148.9 1908.0,1156.0 1909.0,1162.7 1910.0,1168.7 1911.0,1173.7 1912.0,1177.6 1913.0,1180.1 1914.0,1181.1 1915.0,1180.5 1916.0,1178.5 1917.0,1175.0 1918.0,1170.3 1919.0,1164.5 1920.0,1158.0 1921.0,1151.1 1922.0,1144.0 1923.0,1137.1 1924.0,1130.7 1925.0,1125.2 1926.0,1120.8 1927.0,1117.7 1928.0,1116.0 1929.0,1115.8 1930.0,1117.2 1931.0,1120.1 1932.0,1124.2 1933.0,1129.6 1934.0,1135.8 1935.0,1142.6 1936.0,1149.6 1937.0,1156.7 1938.0,1163.3 1939.0,1169.2 1940.0,1174.2 1941.0,1177.9 1942.0,1180.3 1943.0,1181.1 1944.0,1180.4 1945.0,1178.2 1946.0,1174.6 1947.0,1169.8 1948.0,1163.9 1949.0,1157.3 1950.0,1150.4 1951.0,1143.3 1952.0,1136.4 1953.0,1130.1 1954.0,1124.7 1955.0,1120.4 1956.0,1117.4 1957.0,1115.9 1958.0,1115.9 1959.0,1117.4 1960.0,1120.4 1961.0,1124.7 1962.0,1130.1 1963.0,1136.4 1964.0,1143.3 1965.0,1150.4 1966.0,1157.3 1967.0,1163.9 1968.0,1169.8 1969.0,1174.6 1970.0,1178.2 1971.0,1180.4 1972.0,1181.1 1973.0,1180.3 1974.0,1177.9 1975.0,1174.2 1976.0,1169.2 1977.0,1163.3 1978.0,1156.7 1979.0,1149.6 1980.0,1142.6 1981.0,1135.8 1982.0,1129.6 1983.0,1124.2 1984.0,1120.1 1985.0,1117.2 1986.0,1115.8 1987.0,1116.0 1988.0,1117.7 1989.0,1120.8 1990.0,1125.2 1991.0,1130.7 1992.0,1137.1 1993.0,1144.0 1994.0,1151.1 1995.0,1158.0 1996.0,1164.5 1997.0,1170.3 1998.0,1175.0 1999.0,1178.5 2000.0,1180.5 2001.0,1181.1 2002.0,1180.1 2003.0,1177.6 2004.0,1173.7 2005.0,1168.7 2006.0,1162.7 2007.0,1156.0 2008.0,1148.9 2009.0,1141.9 2010.0,1135.1 2011.0,1129.0 2012.0,1123.8 2013.0,1119.7 2014.0,1117.0 2015.0,1115.8 2016.0,1116.1 2017.0,1117.9 2018.0,1121.2 2019.0,1125.7 2020.0,1131.3 2021.0,1137.8 2022.0,1144.7 2023.0,1151.8 2024.0,1158.7 2025.0,1165.2 2026.0,1170.8 2027.0,1175.4 2028.0,1178.8 2029.0,1180.7 2030.0,1181.1 2031.0,1179.9 2032.0,1177.3 2033.0,1173.3 2034.0,1168.1 2035.0,1162.0 2036.0,1155.3 2037.0,1148.2 2038.0,1141.2 2039.0,1134.5 2040.0,1128.4 2041.0,1123.3 2042.0,1119.4 2043.0,1116.8 2044.0,1115.7 2045.0,1116.2 2046.0,1118.2 2047.0,1121.6 2048.0,1126.2 2049.0,1131.9 2050.0,1138.4 2051.0,1145.4 2052.0,1152.5 2053.0,1159.4 2054.0,1165.8 2055.0,1171.3 2056.0,1175.8 2057.0,1179.0 2058.0,1180.8 2059.0,1181.0 2060.0,1179.7 2061.0,1176.9" fill="none" stroke="#6a6a6a" stroke-width="2.2"/>
<polyline points="1657.0,1221.8 1657.5,1221.2 1657.9,1220.2 1658.4,1220.6 1658.8,1219.6 1659.3,1218.9 1659.7,1216.3 1660.2,1214.2 1660.6,1217.3 1661.1,1215.3 1661.5,1210.4 1662.0,1206.8 1662.4,1210.5 1662.9,1205.9 1663.3,1204.0 1663.8,1204.4 1664.2,1201.4 1664.7,1198.8 1665.1,1202.8 1665.6,1188.7 1666.0,1194.6 1666.5,1186.7 1666.9,1188.1 1667.4,1184.6 1667.8,1183.9 1668.3,1170.2 1668.7,1181.1 1669.2,1186.5 1669.6,1171.5 1670.1,1175.8 1670.5,1172.4 1671.0,1168.3 1671.4,1162.0 1671.9,1166.1 1672.3,1162.1 1672.8,1167.0 1673.2,1161.9 1673.7,1151.0 1674.1,1135.0 1674.6,1162.9 1675.0,1155.8 1675.5,1153.0 1675.9,1149.3 1676.4,1171.4 1676.8,1165.3 1677.3,1157.8 1677.7,1155.7 1678.2,1162.4 1678.6,1168.1 1679.1,1163.1 1679.5,1166.2 1680.0,1163.1 1680.4,1164.5 1680.9,1156.2 1681.3,1164.6 1681.8,1164.8 1682.2,1165.0 1682.7,1165.1 1683.1,1169.3 1683.6,1166.0 1684.0,1168.7 1684.5,1164.1 1684.9,1183.5 1685.4,1168.3 1685.8,1168.2 1686.3,1172.6 1686.7,1174.5 1687.2,1172.7 1687.6,1166.9 1688.1,1186.5 1688.5,1184.3 1689.0,1178.5 1689.4,1182.5 1689.9,1174.8 1690.3,1172.0 1690.8,1179.6 1691.2,1180.2 1691.7,1174.9 1692.1,1177.9 1692.6,1167.3 1693.0,1179.5 1693.5,1185.1 1693.9,1184.0 1694.4,1185.8 1694.8,1189.2 1695.3,1182.8 1695.7,1187.4 1696.2,1189.4 1696.6,1196.0 1697.1,1195.1 1697.5,1192.9 1698.0,1202.5 1698.4,1200.5 1698.9,1204.5 1699.3,1207.8 1699.8,1198.5 1700.2,1199.5 1700.7,1205.5 1701.1,1206.4 1701.6,1204.1 1702.0,1204.3 1702.5,1205.5 1702.9,1206.1 1703.4,1202.8 1703.8,1208.0 1704.3,1209.4 1704.7,1207.6 1705.2,1207.6 1705.6,1209.1 1706.1,1209.7 1706.5,1212.3 1707.0,1213.3 1707.4,1212.7 1707.9,1212.9 1708.3,1211.6 1708.8,1214.2 1709.2,1214.3 1709.7,1215.7 1710.1,1217.5 1710.6,1218.0 1711.0,1222.3 1711.5,1218.4 1711.9,1219.4 1712.4,1219.6 1712.8,1221.0 1713.3,1221.7 1713.7,1223.3 1714.2,1221.8 1714.6,1224.5 1715.1,1224.8 1715.5,1223.7 1716.0,1223.0 1716.4,1223.1 1716.9,1222.8 1717.3,1221.6 1717.8,1221.0 1718.2,1220.4 1718.7,1218.3 1719.1,1219.0 1719.6,1218.3 1720.0,1216.3 1720.5,1213.0 1720.9,1213.1 1721.4,1211.1 1721.8,1210.1 1722.3,1206.7 1722.7,1207.5 1723.2,1206.3 1723.6,1204.4 1724.1,1201.4 1724.5,1202.7 1725.0,1197.9 1725.4,1196.1 1725.9,1190.7 1726.3,1193.4 1726.8,1195.3 1727.2,1185.8 1727.7,1189.5 1728.1,1179.2 1728.6,1182.3 1729.0,1185.5 1729.5,1175.2 1729.9,1167.3 1730.4,1171.2 1730.8,1166.4 1731.3,1168.4 1731.7,1160.5 1732.2,1152.9 1732.6,1158.3 1733.1,1163.5 1733.5,1165.7 1734.0,1162.2 1734.4,1161.6 1734.9,1165.5 1735.3,1160.8 1735.8,1159.0 1736.2,1162.9 1736.7,1169.4 1737.1,1160.7 1737.6,1166.8 1738.0,1160.5 1738.5,1160.9 1738.9,1166.3 1739.4,1158.1 1739.8,1161.6 1740.3,1160.8 1740.7,1165.0 1741.2,1164.4 1741.6,1181.9 1742.1,1174.6 1742.5,1172.6 1743.0,1166.8 1743.4,1163.1 1743.9,1177.4 1744.3,1173.0 1744.8,1181.6 1745.2,1176.2 1745.7,1173.0 1746.1,1177.1 1746.6,1174.2 1747.0,1175.3 1747.5,1184.9 1747.9,1180.3 1748.4,1185.7 1748.8,1181.4 1749.3,1183.1 1749.7,1182.7 1750.2,1183.7 1750.6,1184.3 1751.1,1193.1 1751.5,1188.9 1752.0,1183.8 1752.4,1197.0 1752.9,1196.3 1753.3,1196.3 1753.8,1192.6 1754.2,1192.9 1754.7,1192.1 1755.1,1193.8 1755.6,1194.9 1756.0,1194.0 1756.5,1192.2 1756.9,1192.4 1757.4,1200.0 1757.8,1200.7 1758.3,1194.5 1758.7,1197.2 1759.2,1199.4 1759.6,1201.8 1760.1,1201.4 1760.5,1203.0 1761.0,1204.1 1761.4,1206.7 1761.9,1202.8 1762.3,1208.5 1762.8,1208.3 1763.2,1209.6 1763.7,1207.0 1764.1,1210.3 1764.6,1211.4 1765.0,1213.7 1765.5,1214.8 1765.9,1215.5 1766.4,1213.4 1766.8,1217.6 1767.3,1216.7 1767.7,1218.3 1768.2,1217.7 1768.6,1217.5 1769.1,1221.7 1769.5,1220.1 1770.0,1220.8 1770.4,1220.2 1770.9,1220.7 1771.3,1221.6 1771.8,1220.4 1772.2,1221.1 1772.7,1220.0 1773.1,1216.4 1773.6,1214.7 1774.0,1217.4 1774.5,1215.4 1774.9,1212.7 1775.4,1211.0 1775.8,1208.8 1776.3,1211.5 1776.7,1205.8 1777.2,1201.1 1777.6,1204.6 1778.1,1200.7 1778.5,1200.3 1779.0,1197.0 1779.4,1196.9 1779.9,1190.0 1780.3,1196.2 1780.8,1190.8 1781.2,1190.1 1781.7,1190.5 1782.1,1191.9 1782.6,1176.8 1783.0,1182.8 1783.5,1183.5 1783.9,1183.8 1784.4,1173.9 1784.8,1178.0 1785.3,1177.6 1785.7,1179.0 1786.2,1170.1 1786.6,1170.3 1787.1,1166.5 1787.5,1173.0 1788.0,1169.7 1788.4,1158.2 1788.9,1157.0 1789.3,1156.4 1789.8,1146.0 1790.2,1148.5 1790.7,1153.2 1791.1,1151.0 1791.6,1139.8 1792.0,1138.8 1792.5,1140.9 1792.9,1129.8 1793.4,1142.3 1793.8,1142.8 1794.3,1134.1 1794.7,1142.5 1795.2,1140.5 1795.6,1144.0 1796.1,1140.2 1796.5,1154.8 1797.0,1140.7 1797.4,1153.0 1797.9,1150.1 1798.3,1158.2 1798.8,1150.8 1799.2,1152.9 1799.7,1155.2 1800.1,1146.9 1800.6,1172.4 1801.0,1160.1 1801.5,1161.6 1801.9,1160.1 1802.4,1167.7 1802.8,1179.0 1803.3,1169.3 1803.7,1178.2 1804.2,1183.5 1804.6,1185.4 1805.1,1180.9 1805.5,1176.7 1806.0,1187.4 1806.4,1188.4 1806.9,1184.4 1807.3,1183.9 1807.8,1192.2 1808.2,1178.5 1808.7,1182.2 1809.1,1182.1 1809.6,1178.6 1810.0,1182.9 1810.5,1183.6 1810.9,1192.5 1811.4,1183.9 1811.8,1187.6 1812.3,1194.6 1812.7,1191.0 1813.2,1191.2 1813.6,1196.8 1814.1,1196.4 1814.5,1198.5 1815.0,1201.5 1815.4,1203.9 1815.9,1201.8 1816.3,1203.6 1816.8,1206.7 1817.2,1205.7 1817.7,1208.6 1818.1,1206.7 1818.6,1209.8 1819.0,1212.2 1819.5,1207.9 1819.9,1216.8 1820.4,1211.6 1820.8,1212.4 1821.3,1213.4 1821.7,1214.9 1822.2,1213.0 1822.6,1215.6 1823.1,1215.4 1823.5,1218.7 1824.0,1215.3 1824.4,1219.0 1824.9,1218.6 1825.3,1218.8 1825.8,1220.4 1826.2,1220.7 1826.7,1221.5 1827.1,1222.3 1827.6,1223.5 1828.0,1221.8 1828.5,1223.1 1828.9,1218.4 1829.4,1222.0 1829.8,1220.5 1830.3,1220.1 1830.7,1217.6 1831.2,1216.8 1831.6,1214.2 1832.1,1216.6 1832.5,1211.8 1833.0,1211.3 1833.4,1211.6 1833.9,1211.2 1834.3,1210.4 1834.8,1205.9 1835.2,1206.4 1835.7,1206.9 1836.1,1207.2 1836.6,1204.9 1837.0,1202.5 1837.5,1199.2 1837.9,1197.1 1838.4,1195.2 1838.8,1195.0 1839.3,1195.5 1839.7,1190.7 1840.2,1198.3 1840.6,1185.9 1841.1,1191.4 1841.5,1185.7 1842.0,1184.6 1842.4,1182.7 1842.9,1189.9 1843.3,1180.2 1843.8,1182.9 1844.2,1179.6 1844.7,1181.0 1845.1,1178.2 1845.6,1181.9 1846.0,1167.6 1846.5,1164.3 1846.9,1175.7 1847.4,1171.9 1847.8,1163.5 1848.3,1159.7 1848.7,1162.1 1849.2,1168.1 1849.6,1154.8 1850.1,1168.1 1850.5,1158.6 1851.0,1156.1 1851.4,1154.8 1851.9,1141.6 1852.3,1158.9 1852.8,1148.9 1853.2,1155.3 1853.7,1153.1 1854.1,1161.8 1854.6,1165.3 1855.0,1161.6 1855.5,1163.1 1855.9,1164.8 1856.4,1172.4 1856.8,1165.9 1857.3,1171.5 1857.7,1161.8 1858.2,1163.2 1858.6,1158.0 1859.1,1164.2 1859.5,1157.0 1860.0,1163.9 1860.4,1159.3 1860.9,1162.0 1861.3,1171.5 1861.8,1168.4 1862.2,1173.7 1862.7,1171.2 1863.1,1166.2 1863.6,1183.4 1864.0,1177.9 1864.5,1177.5 1864.9,1185.6 1865.4,1177.8 1865.8,1180.6 1866.3,1188.4 1866.7,1182.1 1867.2,1189.3 1867.6,1184.5 1868.1,1185.5 1868.5,1187.5 1869.0,1186.3 1869.4,1192.7 1869.9,1194.3 1870.3,1192.4 1870.8,1195.6 1871.2,1196.5 1871.7,1201.1 1872.1,1193.0 1872.6,1201.4 1873.0,1202.0 1873.5,1199.6 1873.9,1201.6 1874.4,1201.5 1874.8,1206.2 1875.3,1201.5 1875.7,1206.7 1876.2,1209.0 1876.6,1208.4 1877.1,1207.0 1877.5,1208.0 1878.0,1205.6 1878.4,1208.7 1878.9,1213.2 1879.3,1210.6 1879.8,1210.2 1880.2,1213.5 1880.7,1212.4 1881.1,1216.3 1881.6,1215.3 1882.0,1218.5 1882.5,1217.9 1882.9,1217.3 1883.4,1218.6 1883.8,1219.5 1884.3,1219.9 1884.7,1222.5 1885.2,1221.0 1885.6,1222.8 1886.1,1222.5 1886.5,1223.8 1887.0,1221.8 1887.4,1221.2 1887.9,1222.2 1888.3,1222.3 1888.8,1218.5 1889.2,1218.6 1889.7,1217.1 1890.1,1215.4 1890.6,1216.6 1891.0,1214.0 1891.5,1210.4 1891.9,1211.0 1892.4,1212.6 1892.8,1207.7 1893.3,1206.7 1893.7,1204.9 1894.2,1205.6 1894.6,1202.8 1895.1,1205.1 1895.5,1199.5 1896.0,1196.0 1896.4,1200.3 1896.9,1187.7 1897.3,1193.4 1897.8,1195.7 1898.2,1194.0 1898.7,1188.9 1899.1,1187.0 1899.6,1187.8 1900.0,1197.4 1900.5,1176.2 1900.9,1175.7 1901.4,1170.8 1901.8,1172.3 1902.3,1166.8 1902.7,1167.2 1903.2,1171.2 1903.6,1160.3 1904.1,1159.4 1904.5,1162.9 1905.0,1172.4 1905.4,1158.8 1905.9,1171.3 1906.3,1168.7 1906.8,1145.6 1907.2,1156.9 1907.7,1156.5 1908.1,1167.0 1908.6,1175.3 1909.0,1169.8 1909.5,1172.0 1909.9,1184.3 1910.4,1175.1 1910.8,1184.7 1911.3,1167.8 1911.7,1180.6 1912.2,1168.0 1912.6,1157.3 1913.1,1164.2 1913.5,1165.3 1914.0,1166.8 1914.4,1170.4 1914.9,1170.4 1915.3,1169.7 1915.8,1164.4 1916.2,1176.9 1916.7,1175.2 1917.1,1171.2 1917.6,1169.8 1918.0,1173.9 1918.5,1175.1 1918.9,1175.5 1919.4,1180.6 1919.8,1180.7 1920.3,1188.2 1920.7,1184.7 1921.2,1190.4 1921.6,1191.0 1922.1,1191.1 1922.5,1192.5 1923.0,1187.2 1923.4,1199.7 1923.9,1188.7 1924.3,1194.2 1924.8,1192.4 1925.2,1192.1 1925.7,1200.1 1926.1,1199.4 1926.6,1196.7 1927.0,1200.6 1927.5,1202.4 1927.9,1206.2 1928.4,1205.9 1928.8,1203.8 1929.3,1204.5 1929.7,1203.1 1930.2,1207.2 1930.6,1209.1 1931.1,1206.7 1931.5,1209.4 1932.0,1208.4 1932.4,1207.6 1932.9,1206.3 1933.3,1211.6 1933.8,1214.7 1934.2,1211.4 1934.7,1209.1 1935.1,1210.0 1935.6,1212.9 1936.0,1214.4 1936.5,1216.4 1936.9,1211.2 1937.4,1218.0 1937.8,1216.3 1938.3,1216.6 1938.7,1217.5 1939.2,1217.1 1939.6,1217.7 1940.1,1219.6 1940.5,1217.2 1941.0,1219.3 1941.4,1220.6 1941.9,1219.0 1942.3,1221.0 1942.8,1223.0 1943.2,1222.6 1943.7,1223.4 1944.1,1224.0 1944.6,1223.7 1945.0,1223.1 1945.5,1221.4 1945.9,1221.1 1946.4,1222.1 1946.8,1218.3 1947.3,1218.5 1947.7,1216.4 1948.2,1216.1 1948.6,1214.8 1949.1,1212.8 1949.5,1213.9 1950.0,1210.4 1950.4,1211.5 1950.9,1212.6 1951.3,1201.5 1951.8,1204.6 1952.2,1198.4 1952.7,1201.2 1953.1,1200.8 1953.6,1198.5 1954.0,1199.6 1954.5,1194.4 1954.9,1186.5 1955.4,1196.0 1955.8,1185.4 1956.3,1186.7 1956.7,1186.9 1957.2,1180.5 1957.6,1183.5 1958.1,1188.8 1958.5,1173.6 1959.0,1172.3 1959.4,1177.7 1959.9,1177.6 1960.3,1171.1 1960.8,1163.7 1961.2,1180.6 1961.7,1176.9 1962.1,1166.0 1962.6,1175.4 1963.0,1169.7 1963.5,1168.7 1963.9,1156.0 1964.4,1159.4 1964.8,1160.7 1965.3,1140.4 1965.7,1141.8 1966.2,1151.4 1966.6,1154.3 1967.1,1141.6 1967.5,1133.9 1968.0,1125.1 1968.4,1133.4 1968.9,1136.9 1969.3,1144.1 1969.8,1141.4 1970.2,1162.6 1970.7,1156.8 1971.1,1134.5 1971.6,1142.0 1972.0,1150.6 1972.5,1157.5 1972.9,1154.3 1973.4,1134.1 1973.8,1142.6 1974.3,1161.9 1974.7,1157.6 1975.2,1169.9 1975.6,1160.0 1976.1,1159.3 1976.5,1166.4 1977.0,1156.7 1977.4,1157.3 1977.9,1155.7 1978.3,1164.1 1978.8,1167.1 1979.2,1171.2 1979.7,1175.7 1980.1,1173.3 1980.6,1178.2 1981.0,1172.9 1981.5,1171.5 1981.9,1181.5 1982.4,1184.9 1982.8,1188.2 1983.3,1183.2 1983.7,1183.4 1984.2,1185.5 1984.6,1190.0 1985.1,1189.9 1985.5,1190.7 1986.0,1193.5 1986.4,1192.5 1986.9,1195.7 1987.3,1193.4 1987.8,1190.9 1988.2,1196.0 1988.7,1203.9 1989.1,1196.2 1989.6,1202.1 1990.0,1204.2 1990.5,1199.7 1990.9,1203.2 1991.4,1197.7 1991.8,1206.3 1992.3,1209.9 1992.7,1207.6 1993.2,1203.3 1993.6,1207.5 1994.1,1207.9 1994.5,1210.5 1995.0,1211.5 1995.4,1210.7 1995.9,1211.4 1996.3,1211.2 1996.8,1214.1 1997.2,1214.1 1997.7,1215.0 1998.1,1214.5 1998.6,1216.6 1999.0,1216.2 1999.5,1217.7 1999.9,1217.9 2000.4,1218.1 2000.8,1218.5 2001.3,1218.4 2001.7,1219.7 2002.2,1222.0 2002.6,1224.9 2003.1,1221.6 2003.5,1222.2 2004.0,1222.1 2004.4,1224.4 2004.9,1220.2 2005.3,1218.2 2005.8,1218.7 2006.2,1219.4 2006.7,1211.9 2007.1,1212.5 2007.6,1214.5 2008.0,1209.0 2008.5,1209.0 2008.9,1206.1 2009.4,1206.9 2009.8,1200.3 2010.3,1202.1 2010.7,1200.0 2011.2,1199.2 2011.6,1197.3 2012.1,1195.2 2012.5,1187.9 2013.0,1190.5 2013.4,1187.2 2013.9,1190.5 2014.3,1186.2 2014.8,1186.2 2015.2,1188.5 2015.7,1182.1 2016.1,1187.9 2016.6,1183.6 2017.0,1171.8 2017.5,1174.8 2017.9,1183.0 2018.4,1174.1 2018.8,1182.6 2019.3,1172.9 2019.7,1174.7 2020.2,1180.8 2020.6,1164.7 2021.1,1172.7 2021.5,1167.2 2022.0,1168.0 2022.4,1174.1 2022.9,1162.8 2023.3,1147.3 2023.8,1159.6 2024.2,1147.2 2024.7,1149.3 2025.1,1155.1 2025.6,1143.9 2026.0,1154.8 2026.5,1151.0 2026.9,1145.9 2027.4,1150.5 2027.8,1144.8 2028.3,1161.8 2028.7,1155.0 2029.2,1160.8 2029.6,1148.2 2030.1,1161.8 2030.5,1150.4 2031.0,1161.0 2031.4,1161.2 2031.9,1158.8 2032.3,1165.8 2032.8,1164.6 2033.2,1159.9 2033.7,1161.3 2034.1,1158.9 2034.6,1173.7 2035.0,1168.3 2035.5,1166.5 2035.9,1174.2 2036.4,1168.2 2036.8,1169.2 2037.3,1178.6 2037.7,1186.4 2038.2,1182.5 2038.6,1183.6 2039.1,1192.0 2039.5,1178.6 2040.0,1199.9 2040.4,1183.0 2040.9,1188.3 2041.3,1183.7 2041.8,1185.0 2042.2,1189.7 2042.7,1200.4 2043.1,1188.1 2043.6,1190.0 2044.0,1194.1 2044.5,1190.2 2044.9,1194.0 2045.4,1198.4 2045.8,1189.6 2046.3,1196.3 2046.7,1197.4 2047.2,1197.5 2047.6,1199.6 2048.1,1195.7 2048.5,1200.4 2049.0,1201.2 2049.4,1200.7 2049.9,1206.9 2050.3,1209.2 2050.8,1207.0 2051.2,1203.6 2051.7,1208.9 2052.1,1207.3 2052.6,1205.2 2053.0,1208.5 2053.5,1207.2 2053.9,1210.2 2054.4,1211.8 2054.8,1213.3 2055.3,1211.1 2055.7,1213.8 2056.2,1215.2 2056.6,1214.7 2057.1,1217.7 2057.5,1218.9 2058.0,1217.3 2058.4,1219.0 2058.9,1219.1 2059.3,1219.6 2059.8,1220.4 2060.2,1223.1 2060.7,1222.1" fill="none" stroke="#63abff" stroke-width="1.7" stroke-linejoin="round"/>
<path d="M1656,1106 L2061.7,1106" stroke="#444" stroke-width="1.8" fill="none"/>
<path d="M2061.7,1106 L2061.7,1226.5" stroke="#8a8a8a" stroke-width="1.6" fill="none"/>
<path d="M1656,1226.5 L2061.7,1226.5" stroke="#333" stroke-width="1.8" fill="none"/>
<path d="M1656,1106 L1656,1226.5 M1656,1123.2 L1664,1123.2" stroke="#63abff" stroke-width="1.6" fill="none"/>
<rect x="232.6" y="940" width="1843.4" height="134.4" fill="none" stroke="#000" stroke-width="3.8"/>
<rect x="233" y="1093" width="1843.0" height="197.5" fill="none" stroke="#222" stroke-width="3.8"/>
<text x="40.0" y="953.0" font-size="53" fill="#15210b" textLength="65.0" lengthAdjust="spacingAndGlyphs">(e)</text>
<text x="40.0" y="1140.5" font-size="53" fill="#15210b" textLength="49.0" lengthAdjust="spacingAndGlyphs">(f)</text>
<text x="269.5" y="932.3" font-size="43.3" fill="#4d4d4d" textLength="50.0" lengthAdjust="spacingAndGlyphs" stroke="#4d4d4d" stroke-width="0.4">SR</text>
<text x="398.3" y="932.3" font-size="43.3" fill="#4d4d4d" textLength="78.0" lengthAdjust="spacingAndGlyphs" stroke="#4d4d4d" stroke-width="0.4">CTC</text>
<text x="559.0" y="932.3" font-size="43.3" fill="#4d4d4d" textLength="80.5" lengthAdjust="spacingAndGlyphs" stroke="#4d4d4d" stroke-width="0.4">DTC</text>
<g transform="translate(408.3,994.0) skewX(-12)">
<text x="0.0" y="0.0" font-size="43" fill="#b3b3b3" textLength="22.5" lengthAdjust="spacingAndGlyphs" stroke="#b3b3b3" stroke-width="0.3">ε</text>
</g>
<text x="434.5" y="1003.6" font-size="28" fill="#b3b3b3" textLength="8.4" lengthAdjust="spacingAndGlyphs">f</text>
<text x="216.5" y="951.3" font-size="27" fill="#000" text-anchor="end">3</text>
<text x="216.5" y="1016.7" font-size="27" fill="#000" text-anchor="end">2</text>
<text x="216.5" y="1080.0" font-size="27" fill="#000" text-anchor="end">1</text>
<text x="218.5" y="1202.0" font-size="28.5" fill="#000" text-anchor="end">25</text>
<text x="213.0" y="1300.6" font-size="28.5" fill="#000" text-anchor="end">0</text>
<text x="357.5" y="1331.5" font-size="32.3" fill="#000" text-anchor="middle">-14</text>
<text x="521.5" y="1331.5" font-size="32.3" fill="#000" text-anchor="middle">0</text>
<text x="840.7" y="1331.5" font-size="32.3" fill="#000" text-anchor="middle">25</text>
<text x="1142.7" y="1331.5" font-size="32.3" fill="#000" text-anchor="middle">50</text>
<text x="1465.0" y="1331.5" font-size="32.3" fill="#000" text-anchor="middle">75</text>
<text x="1767.0" y="1331.5" font-size="32.3" fill="#000" text-anchor="middle">100</text>
<g transform="translate(162.6,1069.7) rotate(-90)">
<g transform="translate(0.0,0.0) skewX(-12)">
<text x="0.0" y="0.0" font-size="29" fill="#000" textLength="13.0" lengthAdjust="spacingAndGlyphs">ε</text>
</g>
<text x="14.0" y="0.0" font-size="29" fill="#000" textLength="29.0" lengthAdjust="spacingAndGlyphs">(t)</text>
<text x="59.0" y="0.0" font-size="29" fill="#000" textLength="29.0" lengthAdjust="spacingAndGlyphs">(E</text>
<text x="88.5" y="5.0" font-size="19" fill="#000" textLength="27.0" lengthAdjust="spacingAndGlyphs">rec</text>
<text x="116.0" y="0.0" font-size="29" fill="#000" textLength="9.5" lengthAdjust="spacingAndGlyphs">)</text>
</g>
<g transform="translate(163.4,1259) rotate(-90)">
<text x="0.0" y="0.0" font-size="29" fill="#000" font-style="italic" textLength="20.0" lengthAdjust="spacingAndGlyphs">N</text>
<text x="20.5" y="5.0" font-size="19" fill="#000" textLength="11.0" lengthAdjust="spacingAndGlyphs">P</text>
<text x="32.0" y="0.0" font-size="29" fill="#000" textLength="29.0" lengthAdjust="spacingAndGlyphs">(t)</text>
<text x="78.0" y="0.0" font-size="29" fill="#000" textLength="41.0" lengthAdjust="spacingAndGlyphs">(10</text>
<text x="119.5" y="-11.0" font-size="19" fill="#000" textLength="10.5" lengthAdjust="spacingAndGlyphs">3</text>
<text x="131.0" y="0.0" font-size="29" fill="#000" textLength="9.5" lengthAdjust="spacingAndGlyphs">)</text>
</g>
<text x="928.6" y="1370.0" font-size="36.5" fill="#000" textLength="79.0" lengthAdjust="spacingAndGlyphs">time,</text>
<text x="1020.5" y="1370.0" font-size="36.5" fill="#000" font-style="italic" textLength="11.0" lengthAdjust="spacingAndGlyphs">t</text>
<text x="1057.5" y="1370.0" font-size="36.5" fill="#000" textLength="9.5" lengthAdjust="spacingAndGlyphs">(</text>
<text x="1070.5" y="1370.0" font-size="36.5" fill="#000" font-style="italic" textLength="18.5" lengthAdjust="spacingAndGlyphs">T</text>
<text x="1087.6" y="1377.6" font-size="24" fill="#000" textLength="23.0" lengthAdjust="spacingAndGlyphs">dr</text>
<text x="1110.8" y="1370.0" font-size="36.5" fill="#000" textLength="9.5" lengthAdjust="spacingAndGlyphs">)</text>
</g>
</svg></body></html>
